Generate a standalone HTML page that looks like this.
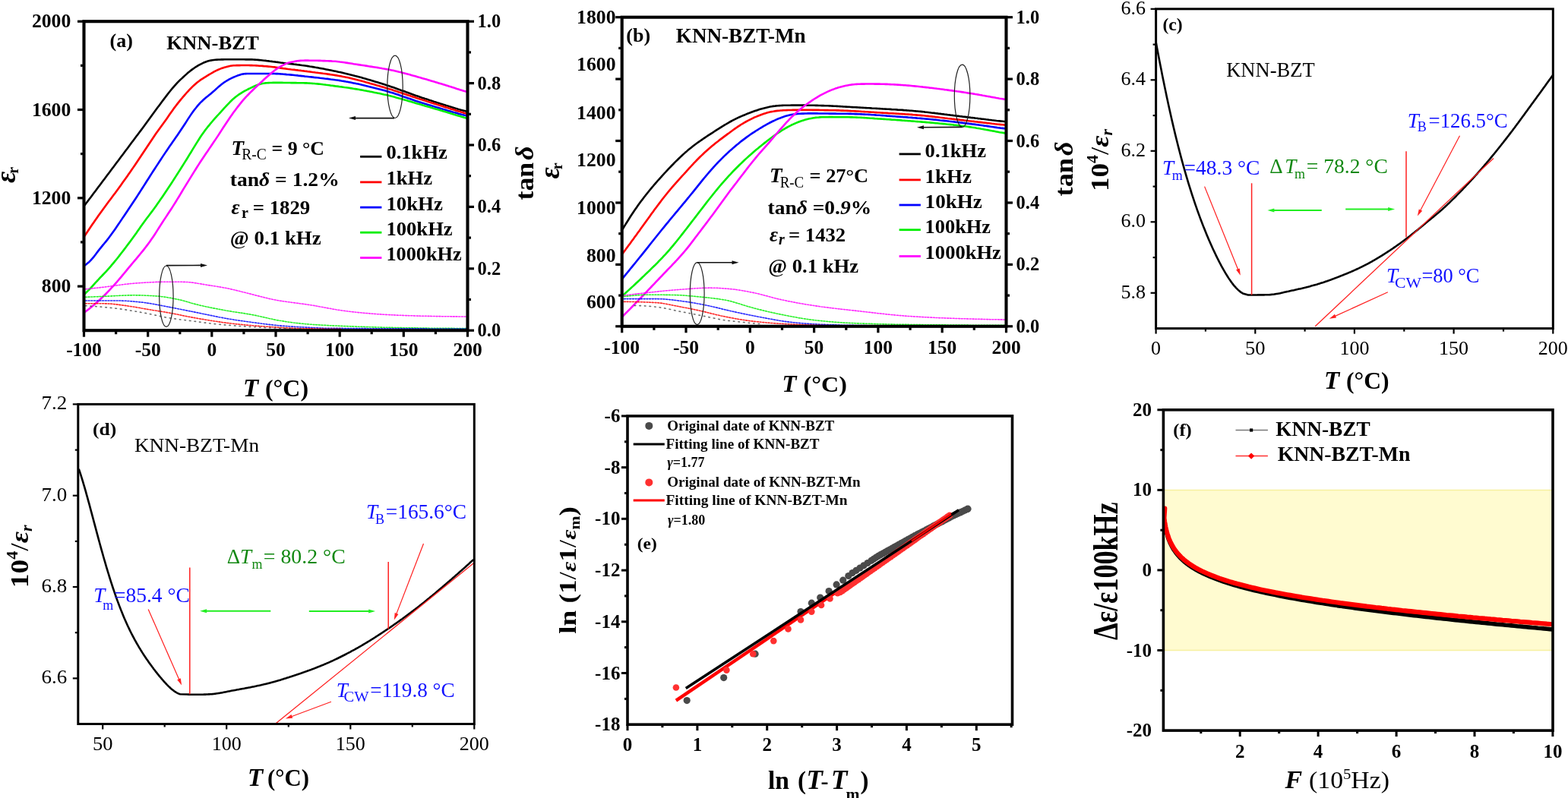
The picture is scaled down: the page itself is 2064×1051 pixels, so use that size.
<!DOCTYPE html>
<html><head><meta charset="utf-8"><title>Figure</title>
<style>html,body{margin:0;padding:0;background:#fff;overflow:hidden;}svg{display:block;}</style>
</head><body>
<svg width="2064" height="1051" viewBox="0 0 2064 1051" font-family="'Liberation Serif','Times New Roman',serif">
<rect width="2064" height="1051" fill="#fff"/>
<path d="M111.5,270.3 L113.5,267.6 L115.5,265.0 L117.5,262.3 L119.5,259.7 L121.5,257.0 L123.5,254.3 L125.5,251.7 L127.5,249.0 L129.5,246.3 L131.5,243.7 L133.5,241.0 L135.5,238.3 L137.5,235.7 L139.5,233.0 L141.5,230.3 L143.5,227.7 L145.5,225.0 L147.5,222.3 L149.5,219.7 L151.5,217.0 L153.5,214.3 L155.5,211.7 L157.5,209.0 L159.5,206.3 L161.5,203.7 L163.5,201.0 L165.5,198.3 L167.5,195.7 L169.5,193.0 L171.5,190.3 L173.5,187.6 L175.5,185.0 L177.5,182.3 L179.5,179.6 L181.5,176.9 L183.5,174.2 L185.5,171.6 L187.5,168.9 L189.5,166.2 L191.5,163.5 L193.5,160.7 L195.5,158.0 L197.5,155.3 L199.5,152.5 L201.5,149.8 L203.5,147.1 L205.5,144.3 L207.5,141.6 L209.5,138.9 L211.5,136.2 L213.5,133.5 L215.5,130.9 L217.5,128.2 L219.5,125.6 L221.5,123.0 L223.5,120.5 L225.5,118.0 L227.5,115.6 L229.5,113.3 L231.5,111.1 L233.5,108.9 L235.5,106.9 L237.5,104.9 L239.5,103.1 L241.5,101.2 L243.5,99.4 L245.5,97.6 L247.5,95.8 L249.5,94.2 L251.5,92.6 L253.5,91.1 L255.5,89.7 L257.5,88.3 L259.5,87.1 L261.5,85.9 L263.5,84.8 L265.5,83.8 L267.5,82.8 L269.5,82.0 L271.5,81.2 L273.5,80.6 L275.5,80.1 L277.5,79.6 L279.5,79.3 L281.5,79.0 L283.5,78.8 L285.5,78.6 L287.5,78.5 L289.5,78.5 L291.5,78.4 L293.5,78.4 L295.5,78.3 L297.5,78.3 L299.5,78.3 L301.5,78.3 L303.5,78.3 L305.5,78.3 L307.5,78.3 L309.5,78.3 L311.5,78.3 L313.5,78.3 L315.5,78.3 L317.5,78.3 L319.5,78.3 L321.5,78.3 L323.5,78.4 L325.5,78.4 L327.5,78.4 L329.5,78.4 L331.5,78.4 L333.5,78.5 L335.5,78.6 L337.5,78.7 L339.5,78.9 L341.5,79.1 L343.5,79.3 L345.5,79.5 L347.5,79.7 L349.5,79.9 L351.5,80.2 L353.5,80.4 L355.5,80.7 L357.5,80.9 L359.5,81.2 L361.5,81.4 L363.5,81.7 L365.5,81.9 L367.5,82.2 L369.5,82.5 L371.5,82.7 L373.5,83.0 L375.5,83.2 L377.5,83.5 L379.5,83.7 L381.5,83.9 L383.5,84.2 L385.5,84.4 L387.5,84.7 L389.5,84.9 L391.5,85.2 L393.5,85.4 L395.5,85.7 L397.5,86.0 L399.5,86.2 L401.5,86.5 L403.5,86.8 L405.5,87.1 L407.5,87.5 L409.5,87.8 L411.5,88.1 L413.5,88.4 L415.5,88.8 L417.5,89.1 L419.5,89.5 L421.5,89.9 L423.5,90.2 L425.5,90.6 L427.5,91.0 L429.5,91.4 L431.5,91.8 L433.5,92.2 L435.5,92.6 L437.5,93.0 L439.5,93.4 L441.5,93.8 L443.5,94.2 L445.5,94.7 L447.5,95.1 L449.5,95.5 L451.5,96.0 L453.5,96.5 L455.5,96.9 L457.5,97.4 L459.5,97.9 L461.5,98.4 L463.5,98.9 L465.5,99.4 L467.5,100.0 L469.5,100.5 L471.5,101.0 L473.5,101.6 L475.5,102.1 L477.5,102.7 L479.5,103.3 L481.5,103.8 L483.5,104.4 L485.5,105.0 L487.5,105.6 L489.5,106.2 L491.5,106.8 L493.5,107.4 L495.5,108.0 L497.5,108.6 L499.5,109.2 L501.5,109.8 L503.5,110.4 L505.5,111.1 L507.5,111.7 L509.5,112.4 L511.5,113.0 L513.5,113.7 L515.5,114.4 L517.5,115.1 L519.5,115.8 L521.5,116.5 L523.5,117.2 L525.5,117.9 L527.5,118.7 L529.5,119.4 L531.5,120.1 L533.5,120.8 L535.5,121.6 L537.5,122.3 L539.5,123.0 L541.5,123.8 L543.5,124.5 L545.5,125.2 L547.5,125.9 L549.5,126.6 L551.5,127.3 L553.5,128.0 L555.5,128.7 L557.5,129.3 L559.5,130.0 L561.5,130.6 L563.5,131.3 L565.5,132.0 L567.5,132.6 L569.5,133.2 L571.5,133.9 L573.5,134.5 L575.5,135.2 L577.5,135.8 L579.5,136.5 L581.5,137.1 L583.5,137.7 L585.5,138.3 L587.5,139.0 L589.5,139.6 L591.5,140.2 L593.5,140.8 L595.5,141.4 L597.5,142.1 L599.5,142.7 L601.5,143.3 L603.5,143.9 L605.5,144.5 L607.5,145.1 L609.5,145.6 L611.5,146.1 L613.5,146.6 L614.0,146.9" fill="none" stroke="#000" stroke-width="2.6" stroke-linejoin="round" stroke-linecap="round" />
<path d="M111.4,310.7 L113.4,307.7 L115.4,304.7 L117.4,301.7 L119.4,298.8 L121.4,295.8 L123.4,292.9 L125.4,290.0 L127.4,287.2 L129.4,284.3 L131.4,281.5 L133.4,278.7 L135.4,275.9 L137.4,273.2 L139.4,270.5 L141.4,267.8 L143.4,265.1 L145.4,262.5 L147.4,259.8 L149.4,257.1 L151.4,254.4 L153.4,251.7 L155.4,248.9 L157.4,246.2 L159.4,243.4 L161.4,240.6 L163.4,237.8 L165.4,235.0 L167.4,232.2 L169.4,229.3 L171.4,226.5 L173.4,223.6 L175.4,220.6 L177.4,217.7 L179.4,214.8 L181.4,211.8 L183.4,208.8 L185.4,205.8 L187.4,202.8 L189.4,199.8 L191.4,196.8 L193.4,193.8 L195.4,190.7 L197.4,187.7 L199.4,184.7 L201.4,181.7 L203.4,178.7 L205.4,175.8 L207.4,173.0 L209.4,170.2 L211.4,167.5 L213.4,164.7 L215.4,162.0 L217.4,159.2 L219.4,156.4 L221.4,153.5 L223.4,150.6 L225.4,147.7 L227.4,144.9 L229.4,142.1 L231.4,139.5 L233.4,136.9 L235.4,134.4 L237.4,131.9 L239.4,129.5 L241.4,127.1 L243.4,124.8 L245.4,122.5 L247.4,120.3 L249.4,118.2 L251.4,116.1 L253.4,114.1 L255.4,112.3 L257.4,110.5 L259.4,108.8 L261.4,107.2 L263.4,105.7 L265.4,104.4 L267.4,103.1 L269.4,101.9 L271.4,100.7 L273.4,99.4 L275.4,98.2 L277.4,97.0 L279.4,95.8 L281.4,94.7 L283.4,93.6 L285.4,92.6 L287.4,91.7 L289.4,90.9 L291.4,90.1 L293.4,89.4 L295.4,88.8 L297.4,88.3 L299.4,87.7 L301.4,87.2 L303.4,86.8 L305.4,86.5 L307.4,86.3 L309.4,86.2 L311.4,86.1 L313.4,86.1 L315.4,86.1 L317.4,86.0 L319.4,86.0 L321.4,86.0 L323.4,86.0 L325.4,86.0 L327.4,86.0 L329.4,86.1 L331.4,86.1 L333.4,86.2 L335.4,86.3 L337.4,86.4 L339.4,86.5 L341.4,86.7 L343.4,86.8 L345.4,86.9 L347.4,87.1 L349.4,87.2 L351.4,87.4 L353.4,87.6 L355.4,87.8 L357.4,88.0 L359.4,88.2 L361.4,88.4 L363.4,88.7 L365.4,89.0 L367.4,89.3 L369.4,89.6 L371.4,89.9 L373.4,90.2 L375.4,90.4 L377.4,90.7 L379.4,91.0 L381.4,91.2 L383.4,91.5 L385.4,91.7 L387.4,91.9 L389.4,92.2 L391.4,92.4 L393.4,92.7 L395.4,92.9 L397.4,93.2 L399.4,93.4 L401.4,93.7 L403.4,93.9 L405.4,94.2 L407.4,94.4 L409.4,94.7 L411.4,95.0 L413.4,95.2 L415.4,95.5 L417.4,95.7 L419.4,96.0 L421.4,96.2 L423.4,96.5 L425.4,96.8 L427.4,97.0 L429.4,97.3 L431.4,97.6 L433.4,97.9 L435.4,98.2 L437.4,98.5 L439.4,98.8 L441.4,99.1 L443.4,99.4 L445.4,99.8 L447.4,100.1 L449.4,100.5 L451.4,100.9 L453.4,101.3 L455.4,101.7 L457.4,102.1 L459.4,102.5 L461.4,103.0 L463.4,103.5 L465.4,104.0 L467.4,104.4 L469.4,104.9 L471.4,105.5 L473.4,106.0 L475.4,106.5 L477.4,107.1 L479.4,107.6 L481.4,108.2 L483.4,108.7 L485.4,109.3 L487.4,109.9 L489.4,110.4 L491.4,111.0 L493.4,111.6 L495.4,112.2 L497.4,112.7 L499.4,113.3 L501.4,113.9 L503.4,114.5 L505.4,115.1 L507.4,115.7 L509.4,116.3 L511.4,116.9 L513.4,117.5 L515.4,118.1 L517.4,118.8 L519.4,119.4 L521.4,120.1 L523.4,120.7 L525.4,121.4 L527.4,122.0 L529.4,122.7 L531.4,123.4 L533.4,124.0 L535.4,124.7 L537.4,125.4 L539.4,126.1 L541.4,126.7 L543.4,127.4 L545.4,128.1 L547.4,128.7 L549.4,129.4 L551.4,130.0 L553.4,130.7 L555.4,131.3 L557.4,132.0 L559.4,132.6 L561.4,133.3 L563.4,133.9 L565.4,134.5 L567.4,135.2 L569.4,135.8 L571.4,136.4 L573.4,137.1 L575.4,137.7 L577.4,138.3 L579.4,139.0 L581.4,139.6 L583.4,140.2 L585.4,140.9 L587.4,141.5 L589.4,142.1 L591.4,142.8 L593.4,143.4 L595.4,144.0 L597.4,144.6 L599.4,145.3 L601.4,145.9 L603.4,146.5 L605.4,147.1 L607.4,147.7 L609.4,148.3 L611.4,148.9 L613.4,149.3 L614.0,149.7" fill="none" stroke="#ff0000" stroke-width="2.6" stroke-linejoin="round" stroke-linecap="round" />
<path d="M111.4,349.6 L113.4,348.2 L115.4,346.6 L117.4,344.9 L119.4,342.9 L121.4,340.7 L123.4,338.3 L125.4,335.7 L127.4,333.0 L129.4,330.4 L131.4,327.8 L133.4,325.4 L135.4,322.9 L137.4,320.5 L139.4,318.1 L141.4,315.6 L143.4,313.0 L145.4,310.3 L147.4,307.6 L149.4,304.8 L151.4,301.9 L153.4,299.0 L155.4,296.1 L157.4,293.1 L159.4,290.1 L161.4,287.1 L163.4,284.2 L165.4,281.2 L167.4,278.2 L169.4,275.3 L171.4,272.3 L173.4,269.3 L175.4,266.2 L177.4,263.2 L179.4,260.2 L181.4,257.1 L183.4,254.0 L185.4,250.9 L187.4,247.8 L189.4,244.6 L191.4,241.5 L193.4,238.3 L195.4,235.2 L197.4,232.0 L199.4,228.9 L201.4,225.8 L203.4,222.7 L205.4,219.6 L207.4,216.6 L209.4,213.5 L211.4,210.5 L213.4,207.4 L215.4,204.4 L217.4,201.4 L219.4,198.5 L221.4,195.5 L223.4,192.6 L225.4,189.7 L227.4,186.8 L229.4,184.0 L231.4,181.1 L233.4,178.2 L235.4,175.3 L237.4,172.3 L239.4,169.3 L241.4,166.3 L243.4,163.2 L245.4,160.1 L247.4,156.9 L249.4,153.9 L251.4,150.9 L253.4,148.0 L255.4,145.2 L257.4,142.7 L259.4,140.2 L261.4,137.9 L263.4,135.7 L265.4,133.7 L267.4,131.8 L269.4,130.0 L271.4,128.3 L273.4,126.7 L275.4,125.1 L277.4,123.5 L279.4,121.8 L281.4,120.1 L283.4,118.3 L285.4,116.4 L287.4,114.6 L289.4,112.9 L291.4,111.3 L293.4,109.7 L295.4,108.3 L297.4,107.0 L299.4,105.8 L301.4,104.7 L303.4,103.6 L305.4,102.6 L307.4,101.7 L309.4,100.9 L311.4,100.1 L313.4,99.3 L315.4,98.7 L317.4,98.1 L319.4,97.6 L321.4,97.3 L323.4,97.1 L325.4,97.0 L327.4,97.0 L329.4,97.0 L331.4,97.0 L333.4,97.0 L335.4,97.0 L337.4,97.0 L339.4,97.0 L341.4,97.0 L343.4,97.0 L345.4,97.0 L347.4,97.0 L349.4,97.0 L351.4,97.0 L353.4,97.0 L355.4,97.0 L357.4,97.0 L359.4,97.0 L361.4,97.0 L363.4,97.1 L365.4,97.1 L367.4,97.2 L369.4,97.4 L371.4,97.5 L373.4,97.7 L375.4,97.9 L377.4,98.1 L379.4,98.2 L381.4,98.4 L383.4,98.6 L385.4,98.8 L387.4,99.0 L389.4,99.2 L391.4,99.4 L393.4,99.7 L395.4,99.9 L397.4,100.1 L399.4,100.3 L401.4,100.6 L403.4,100.8 L405.4,101.0 L407.4,101.2 L409.4,101.4 L411.4,101.6 L413.4,101.9 L415.4,102.1 L417.4,102.3 L419.4,102.5 L421.4,102.8 L423.4,103.0 L425.4,103.2 L427.4,103.5 L429.4,103.7 L431.4,103.9 L433.4,104.2 L435.4,104.5 L437.4,104.7 L439.4,105.0 L441.4,105.3 L443.4,105.5 L445.4,105.8 L447.4,106.1 L449.4,106.5 L451.4,106.8 L453.4,107.1 L455.4,107.5 L457.4,107.8 L459.4,108.2 L461.4,108.6 L463.4,109.0 L465.4,109.4 L467.4,109.8 L469.4,110.2 L471.4,110.6 L473.4,111.1 L475.4,111.5 L477.4,112.0 L479.4,112.4 L481.4,112.9 L483.4,113.4 L485.4,113.9 L487.4,114.4 L489.4,114.9 L491.4,115.4 L493.4,115.9 L495.4,116.4 L497.4,116.9 L499.4,117.4 L501.4,117.9 L503.4,118.5 L505.4,119.0 L507.4,119.6 L509.4,120.2 L511.4,120.8 L513.4,121.4 L515.4,122.0 L517.4,122.6 L519.4,123.3 L521.4,123.9 L523.4,124.6 L525.4,125.3 L527.4,126.0 L529.4,126.7 L531.4,127.4 L533.4,128.0 L535.4,128.7 L537.4,129.4 L539.4,130.1 L541.4,130.8 L543.4,131.5 L545.4,132.2 L547.4,132.9 L549.4,133.5 L551.4,134.2 L553.4,134.8 L555.4,135.5 L557.4,136.1 L559.4,136.7 L561.4,137.3 L563.4,137.9 L565.4,138.5 L567.4,139.1 L569.4,139.7 L571.4,140.3 L573.4,140.9 L575.4,141.5 L577.4,142.1 L579.4,142.7 L581.4,143.3 L583.4,143.9 L585.4,144.5 L587.4,145.1 L589.4,145.7 L591.4,146.2 L593.4,146.8 L595.4,147.4 L597.4,148.0 L599.4,148.5 L601.4,149.1 L603.4,149.7 L605.4,150.2 L607.4,150.8 L609.4,151.3 L611.4,151.8 L613.4,152.2 L614.0,152.5" fill="none" stroke="#0000ff" stroke-width="2.6" stroke-linejoin="round" stroke-linecap="round" />
<path d="M111.4,387.3 L113.4,385.3 L115.4,383.4 L117.4,381.4 L119.4,379.3 L121.4,377.1 L123.4,374.9 L125.4,372.7 L127.4,370.5 L129.4,368.4 L131.4,366.2 L133.4,364.1 L135.4,362.0 L137.4,359.9 L139.4,357.8 L141.4,355.6 L143.4,353.4 L145.4,351.1 L147.4,348.7 L149.4,346.3 L151.4,343.9 L153.4,341.5 L155.4,339.0 L157.4,336.4 L159.4,333.8 L161.4,331.2 L163.4,328.6 L165.4,325.9 L167.4,323.2 L169.4,320.6 L171.4,317.9 L173.4,315.2 L175.4,312.5 L177.4,309.7 L179.4,307.0 L181.4,304.1 L183.4,301.2 L185.4,298.3 L187.4,295.5 L189.4,292.7 L191.4,290.0 L193.4,287.3 L195.4,284.7 L197.4,282.0 L199.4,279.4 L201.4,276.7 L203.4,274.0 L205.4,271.2 L207.4,268.3 L209.4,265.5 L211.4,262.6 L213.4,259.7 L215.4,256.7 L217.4,253.8 L219.4,250.8 L221.4,247.8 L223.4,244.7 L225.4,241.7 L227.4,238.6 L229.4,235.5 L231.4,232.4 L233.4,229.3 L235.4,226.1 L237.4,223.0 L239.4,219.8 L241.4,216.6 L243.4,213.4 L245.4,210.2 L247.4,207.0 L249.4,203.7 L251.4,200.5 L253.4,197.2 L255.4,193.9 L257.4,190.6 L259.4,187.4 L261.4,184.2 L263.4,181.0 L265.4,178.0 L267.4,175.2 L269.4,172.4 L271.4,169.8 L273.4,167.2 L275.4,164.8 L277.4,162.3 L279.4,160.0 L281.4,157.7 L283.4,155.4 L285.4,153.2 L287.4,151.0 L289.4,148.8 L291.4,146.6 L293.4,144.4 L295.4,142.2 L297.4,140.0 L299.4,137.9 L301.4,135.8 L303.4,133.7 L305.4,131.8 L307.4,129.9 L309.4,128.2 L311.4,126.7 L313.4,125.2 L315.4,123.9 L317.4,122.6 L319.4,121.4 L321.4,120.2 L323.4,119.1 L325.4,118.1 L327.4,117.0 L329.4,116.1 L331.4,115.1 L333.4,114.2 L335.4,113.3 L337.4,112.5 L339.4,111.8 L341.4,111.1 L343.4,110.5 L345.4,110.0 L347.4,109.7 L349.4,109.4 L351.4,109.3 L353.4,109.1 L355.4,109.0 L357.4,109.0 L359.4,108.9 L361.4,108.9 L363.4,108.9 L365.4,108.9 L367.4,108.9 L369.4,108.9 L371.4,108.9 L373.4,109.0 L375.4,109.0 L377.4,109.0 L379.4,109.0 L381.4,109.0 L383.4,109.1 L385.4,109.1 L387.4,109.1 L389.4,109.1 L391.4,109.2 L393.4,109.2 L395.4,109.2 L397.4,109.3 L399.4,109.3 L401.4,109.4 L403.4,109.4 L405.4,109.5 L407.4,109.6 L409.4,109.7 L411.4,109.9 L413.4,110.0 L415.4,110.2 L417.4,110.4 L419.4,110.6 L421.4,110.8 L423.4,111.0 L425.4,111.3 L427.4,111.5 L429.4,111.8 L431.4,112.0 L433.4,112.3 L435.4,112.6 L437.4,112.8 L439.4,113.1 L441.4,113.4 L443.4,113.6 L445.4,113.9 L447.4,114.2 L449.4,114.4 L451.4,114.7 L453.4,115.0 L455.4,115.2 L457.4,115.5 L459.4,115.8 L461.4,116.1 L463.4,116.4 L465.4,116.8 L467.4,117.1 L469.4,117.4 L471.4,117.7 L473.4,118.1 L475.4,118.4 L477.4,118.8 L479.4,119.2 L481.4,119.5 L483.4,119.9 L485.4,120.3 L487.4,120.7 L489.4,121.1 L491.4,121.5 L493.4,121.9 L495.4,122.3 L497.4,122.7 L499.4,123.1 L501.4,123.5 L503.4,123.9 L505.4,124.4 L507.4,124.8 L509.4,125.3 L511.4,125.8 L513.4,126.3 L515.4,126.8 L517.4,127.3 L519.4,127.8 L521.4,128.4 L523.4,128.9 L525.4,129.5 L527.4,130.0 L529.4,130.6 L531.4,131.2 L533.4,131.8 L535.4,132.3 L537.4,132.9 L539.4,133.5 L541.4,134.1 L543.4,134.7 L545.4,135.3 L547.4,135.9 L549.4,136.5 L551.4,137.0 L553.4,137.6 L555.4,138.2 L557.4,138.8 L559.4,139.4 L561.4,139.9 L563.4,140.5 L565.4,141.1 L567.4,141.7 L569.4,142.3 L571.4,142.9 L573.4,143.4 L575.4,144.0 L577.4,144.6 L579.4,145.2 L581.4,145.8 L583.4,146.4 L585.4,147.0 L587.4,147.6 L589.4,148.2 L591.4,148.8 L593.4,149.4 L595.4,150.0 L597.4,150.7 L599.4,151.3 L601.4,151.9 L603.4,152.5 L605.4,153.1 L607.4,153.7 L609.4,154.3 L611.4,154.9 L613.4,155.3 L614.0,155.7" fill="none" stroke="#00ee00" stroke-width="2.6" stroke-linejoin="round" stroke-linecap="round" />
<path d="M111.4,411.3 L113.4,409.8 L115.4,408.3 L117.4,406.7 L119.4,405.1 L121.4,403.4 L123.4,401.8 L125.4,400.0 L127.4,398.3 L129.4,396.5 L131.4,394.7 L133.4,392.8 L135.4,390.9 L137.4,389.0 L139.4,387.0 L141.4,384.9 L143.4,382.8 L145.4,380.7 L147.4,378.5 L149.4,376.3 L151.4,374.1 L153.4,371.8 L155.4,369.5 L157.4,367.2 L159.4,364.8 L161.4,362.4 L163.4,360.0 L165.4,357.6 L167.4,355.1 L169.4,352.7 L171.4,350.3 L173.4,347.9 L175.4,345.5 L177.4,343.1 L179.4,340.8 L181.4,338.4 L183.4,336.0 L185.4,333.5 L187.4,331.1 L189.4,328.6 L191.4,326.0 L193.4,323.4 L195.4,320.7 L197.4,317.9 L199.4,315.1 L201.4,312.2 L203.4,309.2 L205.4,306.1 L207.4,302.9 L209.4,299.8 L211.4,296.6 L213.4,293.5 L215.4,290.4 L217.4,287.4 L219.4,284.4 L221.4,281.3 L223.4,278.3 L225.4,275.2 L227.4,272.1 L229.4,268.9 L231.4,265.7 L233.4,262.4 L235.4,259.2 L237.4,255.9 L239.4,252.5 L241.4,249.2 L243.4,245.9 L245.4,242.6 L247.4,239.3 L249.4,236.1 L251.4,232.8 L253.4,229.6 L255.4,226.4 L257.4,223.2 L259.4,220.0 L261.4,216.9 L263.4,213.8 L265.4,210.8 L267.4,207.8 L269.4,204.8 L271.4,201.8 L273.4,198.9 L275.4,195.9 L277.4,193.0 L279.4,190.0 L281.4,187.1 L283.4,184.1 L285.4,181.1 L287.4,178.1 L289.4,175.0 L291.4,171.9 L293.4,168.8 L295.4,165.8 L297.4,162.7 L299.4,159.7 L301.4,156.7 L303.4,153.8 L305.4,150.9 L307.4,148.1 L309.4,145.4 L311.4,142.7 L313.4,140.1 L315.4,137.6 L317.4,135.1 L319.4,132.7 L321.4,130.4 L323.4,128.2 L325.4,126.0 L327.4,124.0 L329.4,121.9 L331.4,120.0 L333.4,118.0 L335.4,116.1 L337.4,114.2 L339.4,112.3 L341.4,110.4 L343.4,108.5 L345.4,106.7 L347.4,104.8 L349.4,103.0 L351.4,101.2 L353.4,99.5 L355.4,97.7 L357.4,96.0 L359.4,94.4 L361.4,92.8 L363.4,91.3 L365.4,90.0 L367.4,88.7 L369.4,87.5 L371.4,86.3 L373.4,85.3 L375.4,84.3 L377.4,83.5 L379.4,82.8 L381.4,82.3 L383.4,81.8 L385.4,81.4 L387.4,81.0 L389.4,80.6 L391.4,80.3 L393.4,80.1 L395.4,79.9 L397.4,79.8 L399.4,79.7 L401.4,79.6 L403.4,79.6 L405.4,79.6 L407.4,79.7 L409.4,79.7 L411.4,79.7 L413.4,79.7 L415.4,79.8 L417.4,79.8 L419.4,79.9 L421.4,79.9 L423.4,80.0 L425.4,80.1 L427.4,80.1 L429.4,80.2 L431.4,80.3 L433.4,80.4 L435.4,80.4 L437.4,80.6 L439.4,80.7 L441.4,80.8 L443.4,81.0 L445.4,81.2 L447.4,81.5 L449.4,81.7 L451.4,82.0 L453.4,82.3 L455.4,82.6 L457.4,82.9 L459.4,83.2 L461.4,83.5 L463.4,83.8 L465.4,84.2 L467.4,84.5 L469.4,84.8 L471.4,85.1 L473.4,85.4 L475.4,85.7 L477.4,86.0 L479.4,86.3 L481.4,86.6 L483.4,86.9 L485.4,87.3 L487.4,87.6 L489.4,87.9 L491.4,88.2 L493.4,88.5 L495.4,88.8 L497.4,89.1 L499.4,89.5 L501.4,89.8 L503.4,90.2 L505.4,90.5 L507.4,90.9 L509.4,91.2 L511.4,91.6 L513.4,92.0 L515.4,92.4 L517.4,92.8 L519.4,93.3 L521.4,93.7 L523.4,94.2 L525.4,94.7 L527.4,95.1 L529.4,95.7 L531.4,96.2 L533.4,96.7 L535.4,97.2 L537.4,97.8 L539.4,98.3 L541.4,98.9 L543.4,99.5 L545.4,100.0 L547.4,100.6 L549.4,101.2 L551.4,101.8 L553.4,102.3 L555.4,102.9 L557.4,103.5 L559.4,104.1 L561.4,104.6 L563.4,105.2 L565.4,105.8 L567.4,106.4 L569.4,107.0 L571.4,107.6 L573.4,108.2 L575.4,108.8 L577.4,109.4 L579.4,110.0 L581.4,110.6 L583.4,111.2 L585.4,111.8 L587.4,112.4 L589.4,113.0 L591.4,113.7 L593.4,114.3 L595.4,114.9 L597.4,115.6 L599.4,116.2 L601.4,116.9 L603.4,117.5 L605.4,118.2 L607.4,118.8 L609.4,119.4 L611.4,120.0 L613.4,120.5 L614.0,120.9" fill="none" stroke="#ff00ff" stroke-width="2.6" stroke-linejoin="round" stroke-linecap="round" />
<path d="M112.4,380.8 L114.4,380.6 L116.4,380.4 L118.4,380.2 L120.4,380.0 L122.4,379.8 L124.4,379.5 L126.4,379.3 L128.4,379.1 L130.4,378.9 L132.4,378.6 L134.4,378.4 L136.4,378.2 L138.4,377.9 L140.4,377.7 L142.4,377.4 L144.4,377.2 L146.4,376.9 L148.4,376.6 L150.4,376.3 L152.4,376.1 L154.4,375.8 L156.4,375.5 L158.4,375.2 L160.4,374.9 L162.4,374.7 L164.4,374.4 L166.4,374.2 L168.4,374.0 L170.4,373.7 L172.4,373.5 L174.4,373.4 L176.4,373.2 L178.4,373.0 L180.4,372.9 L182.4,372.8 L184.4,372.6 L186.4,372.5 L188.4,372.3 L190.4,372.2 L192.4,372.1 L194.4,372.0 L196.4,371.9 L198.4,371.8 L200.4,371.7 L202.4,371.6 L204.4,371.5 L206.4,371.4 L208.4,371.4 L210.4,371.4 L212.4,371.3 L214.4,371.3 L216.4,371.3 L218.4,371.3 L220.4,371.3 L222.4,371.3 L224.4,371.3 L226.4,371.3 L228.4,371.3 L230.4,371.3 L232.4,371.3 L234.4,371.3 L236.4,371.3 L238.4,371.3 L240.4,371.3 L242.4,371.4 L244.4,371.4 L246.4,371.5 L248.4,371.7 L250.4,371.8 L252.4,372.1 L254.4,372.3 L256.4,372.6 L258.4,372.9 L260.4,373.3 L262.4,373.6 L264.4,373.9 L266.4,374.3 L268.4,374.6 L270.4,374.9 L272.4,375.3 L274.4,375.6 L276.4,375.9 L278.4,376.2 L280.4,376.5 L282.4,376.8 L284.4,377.1 L286.4,377.5 L288.4,377.8 L290.4,378.1 L292.4,378.5 L294.4,378.9 L296.4,379.2 L298.4,379.6 L300.4,380.0 L302.4,380.4 L304.4,380.9 L306.4,381.3 L308.4,381.8 L310.4,382.3 L312.4,382.8 L314.4,383.3 L316.4,383.8 L318.4,384.3 L320.4,384.8 L322.4,385.3 L324.4,385.8 L326.4,386.3 L328.4,386.8 L330.4,387.3 L332.4,387.9 L334.4,388.4 L336.4,388.9 L338.4,389.4 L340.4,389.9 L342.4,390.4 L344.4,390.9 L346.4,391.4 L348.4,391.9 L350.4,392.4 L352.4,392.9 L354.4,393.4 L356.4,393.8 L358.4,394.2 L360.4,394.7 L362.4,395.0 L364.4,395.4 L366.4,395.7 L368.4,396.1 L370.4,396.4 L372.4,396.7 L374.4,397.0 L376.4,397.3 L378.4,397.6 L380.4,397.8 L382.4,398.1 L384.4,398.4 L386.4,398.6 L388.4,398.9 L390.4,399.2 L392.4,399.4 L394.4,399.7 L396.4,400.0 L398.4,400.2 L400.4,400.5 L402.4,400.8 L404.4,401.1 L406.4,401.4 L408.4,401.7 L410.4,402.0 L412.4,402.3 L414.4,402.7 L416.4,403.0 L418.4,403.4 L420.4,403.8 L422.4,404.1 L424.4,404.5 L426.4,404.9 L428.4,405.2 L430.4,405.6 L432.4,406.0 L434.4,406.3 L436.4,406.7 L438.4,407.1 L440.4,407.4 L442.4,407.8 L444.4,408.1 L446.4,408.4 L448.4,408.7 L450.4,409.0 L452.4,409.3 L454.4,409.6 L456.4,409.8 L458.4,410.1 L460.4,410.3 L462.4,410.5 L464.4,410.7 L466.4,411.0 L468.4,411.2 L470.4,411.4 L472.4,411.6 L474.4,411.8 L476.4,412.0 L478.4,412.2 L480.4,412.4 L482.4,412.5 L484.4,412.7 L486.4,412.9 L488.4,413.1 L490.4,413.2 L492.4,413.4 L494.4,413.5 L496.4,413.7 L498.4,413.8 L500.4,413.9 L502.4,414.1 L504.4,414.2 L506.4,414.3 L508.4,414.4 L510.4,414.5 L512.4,414.6 L514.4,414.7 L516.4,414.8 L518.4,414.9 L520.4,415.0 L522.4,415.1 L524.4,415.2 L526.4,415.3 L528.4,415.3 L530.4,415.4 L532.4,415.5 L534.4,415.6 L536.4,415.6 L538.4,415.7 L540.4,415.8 L542.4,415.8 L544.4,415.9 L546.4,416.0 L548.4,416.0 L550.4,416.1 L552.4,416.1 L554.4,416.2 L556.4,416.2 L558.4,416.3 L560.4,416.3 L562.4,416.3 L564.4,416.4 L566.4,416.4 L568.4,416.5 L570.4,416.5 L572.4,416.5 L574.4,416.6 L576.4,416.6 L578.4,416.6 L580.4,416.7 L582.4,416.7 L584.4,416.7 L586.4,416.8 L588.4,416.8 L590.4,416.8 L592.4,416.8 L594.4,416.9 L596.4,416.9 L598.4,416.9 L600.4,416.9 L602.4,416.9 L604.4,417.0 L606.4,417.0 L608.4,417.0 L610.4,417.0 L612.4,417.0 L614.0,417.0" fill="none" stroke="#ff00ff" stroke-width="1.6" stroke-linejoin="round" stroke-linecap="round" stroke-dasharray="2,1.7" stroke-opacity="0.85"/>
<path d="M112.4,391.3 L114.4,391.2 L116.4,391.1 L118.4,391.1 L120.4,391.0 L122.4,390.9 L124.4,390.8 L126.4,390.8 L128.4,390.7 L130.4,390.6 L132.4,390.5 L134.4,390.4 L136.4,390.4 L138.4,390.3 L140.4,390.2 L142.4,390.1 L144.4,390.0 L146.4,389.9 L148.4,389.8 L150.4,389.7 L152.4,389.6 L154.4,389.5 L156.4,389.4 L158.4,389.3 L160.4,389.2 L162.4,389.1 L164.4,389.1 L166.4,389.0 L168.4,388.9 L170.4,388.9 L172.4,388.9 L174.4,388.8 L176.4,388.8 L178.4,388.8 L180.4,388.9 L182.4,388.9 L184.4,388.9 L186.4,389.0 L188.4,389.0 L190.4,389.1 L192.4,389.2 L194.4,389.3 L196.4,389.4 L198.4,389.5 L200.4,389.6 L202.4,389.7 L204.4,389.8 L206.4,390.0 L208.4,390.1 L210.4,390.3 L212.4,390.6 L214.4,390.8 L216.4,391.1 L218.4,391.4 L220.4,391.7 L222.4,392.1 L224.4,392.4 L226.4,392.8 L228.4,393.2 L230.4,393.6 L232.4,394.0 L234.4,394.4 L236.4,394.9 L238.4,395.3 L240.4,395.8 L242.4,396.4 L244.4,396.9 L246.4,397.5 L248.4,398.1 L250.4,398.7 L252.4,399.3 L254.4,399.8 L256.4,400.4 L258.4,400.9 L260.4,401.4 L262.4,401.9 L264.4,402.4 L266.4,402.8 L268.4,403.3 L270.4,403.7 L272.4,404.1 L274.4,404.5 L276.4,405.0 L278.4,405.4 L280.4,405.8 L282.4,406.1 L284.4,406.5 L286.4,406.9 L288.4,407.3 L290.4,407.7 L292.4,408.0 L294.4,408.4 L296.4,408.8 L298.4,409.1 L300.4,409.5 L302.4,409.8 L304.4,410.1 L306.4,410.5 L308.4,410.8 L310.4,411.1 L312.4,411.4 L314.4,411.7 L316.4,412.0 L318.4,412.3 L320.4,412.6 L322.4,412.9 L324.4,413.3 L326.4,413.6 L328.4,413.9 L330.4,414.3 L332.4,414.6 L334.4,415.0 L336.4,415.4 L338.4,415.8 L340.4,416.3 L342.4,416.7 L344.4,417.2 L346.4,417.6 L348.4,418.1 L350.4,418.5 L352.4,419.0 L354.4,419.5 L356.4,419.9 L358.4,420.3 L360.4,420.8 L362.4,421.2 L364.4,421.6 L366.4,421.9 L368.4,422.3 L370.4,422.6 L372.4,422.9 L374.4,423.3 L376.4,423.6 L378.4,423.9 L380.4,424.2 L382.4,424.4 L384.4,424.7 L386.4,425.0 L388.4,425.2 L390.4,425.5 L392.4,425.7 L394.4,425.9 L396.4,426.1 L398.4,426.3 L400.4,426.5 L402.4,426.7 L404.4,426.9 L406.4,427.0 L408.4,427.2 L410.4,427.3 L412.4,427.5 L414.4,427.6 L416.4,427.7 L418.4,427.8 L420.4,428.0 L422.4,428.1 L424.4,428.2 L426.4,428.3 L428.4,428.4 L430.4,428.5 L432.4,428.6 L434.4,428.7 L436.4,428.8 L438.4,428.9 L440.4,429.0 L442.4,429.0 L444.4,429.1 L446.4,429.2 L448.4,429.3 L450.4,429.4 L452.4,429.5 L454.4,429.6 L456.4,429.6 L458.4,429.7 L460.4,429.8 L462.4,429.9 L464.4,429.9 L466.4,430.0 L468.4,430.1 L470.4,430.2 L472.4,430.2 L474.4,430.3 L476.4,430.4 L478.4,430.4 L480.4,430.5 L482.4,430.6 L484.4,430.6 L486.4,430.7 L488.4,430.8 L490.4,430.8 L492.4,430.9 L494.4,430.9 L496.4,431.0 L498.4,431.0 L500.4,431.1 L502.4,431.1 L504.4,431.2 L506.4,431.2 L508.4,431.3 L510.4,431.3 L512.4,431.4 L514.4,431.4 L516.4,431.4 L518.4,431.5 L520.4,431.5 L522.4,431.5 L524.4,431.6 L526.4,431.6 L528.4,431.6 L530.4,431.7 L532.4,431.7 L534.4,431.7 L536.4,431.8 L538.4,431.8 L540.4,431.8 L542.4,431.9 L544.4,431.9 L546.4,431.9 L548.4,431.9 L550.4,432.0 L552.4,432.0 L554.4,432.0 L556.4,432.1 L558.4,432.1 L560.4,432.1 L562.4,432.1 L564.4,432.2 L566.4,432.2 L568.4,432.2 L570.4,432.2 L572.4,432.3 L574.4,432.3 L576.4,432.3 L578.4,432.3 L580.4,432.3 L582.4,432.3 L584.4,432.4 L586.4,432.4 L588.4,432.4 L590.4,432.4 L592.4,432.4 L594.4,432.4 L596.4,432.4 L598.4,432.5 L600.4,432.5 L602.4,432.5 L604.4,432.5 L606.4,432.5 L608.4,432.5 L610.4,432.5 L612.4,432.5 L614.0,432.5" fill="none" stroke="#00ee00" stroke-width="1.6" stroke-linejoin="round" stroke-linecap="round" stroke-dasharray="2,1.7" stroke-opacity="0.85"/>
<path d="M112.4,396.0 L114.4,396.0 L116.4,396.0 L118.4,396.0 L120.4,396.0 L122.4,396.0 L124.4,396.0 L126.4,396.0 L128.4,396.0 L130.4,396.0 L132.4,396.0 L134.4,396.0 L136.4,396.0 L138.4,396.0 L140.4,396.0 L142.4,396.0 L144.4,396.0 L146.4,396.0 L148.4,396.0 L150.4,396.0 L152.4,396.0 L154.4,396.0 L156.4,396.0 L158.4,396.0 L160.4,396.1 L162.4,396.2 L164.4,396.2 L166.4,396.3 L168.4,396.5 L170.4,396.6 L172.4,396.8 L174.4,396.9 L176.4,397.1 L178.4,397.3 L180.4,397.5 L182.4,397.7 L184.4,397.9 L186.4,398.1 L188.4,398.3 L190.4,398.6 L192.4,398.9 L194.4,399.2 L196.4,399.5 L198.4,399.8 L200.4,400.1 L202.4,400.5 L204.4,400.9 L206.4,401.2 L208.4,401.6 L210.4,402.0 L212.4,402.4 L214.4,402.8 L216.4,403.2 L218.4,403.6 L220.4,404.0 L222.4,404.3 L224.4,404.7 L226.4,405.1 L228.4,405.5 L230.4,405.9 L232.4,406.3 L234.4,406.7 L236.4,407.1 L238.4,407.5 L240.4,407.9 L242.4,408.3 L244.4,408.7 L246.4,409.1 L248.4,409.5 L250.4,409.9 L252.4,410.3 L254.4,410.7 L256.4,411.1 L258.4,411.5 L260.4,411.9 L262.4,412.3 L264.4,412.7 L266.4,413.2 L268.4,413.6 L270.4,414.0 L272.4,414.4 L274.4,414.8 L276.4,415.2 L278.4,415.6 L280.4,416.0 L282.4,416.5 L284.4,416.9 L286.4,417.3 L288.4,417.7 L290.4,418.0 L292.4,418.4 L294.4,418.8 L296.4,419.2 L298.4,419.5 L300.4,419.9 L302.4,420.2 L304.4,420.5 L306.4,420.8 L308.4,421.2 L310.4,421.5 L312.4,421.8 L314.4,422.1 L316.4,422.4 L318.4,422.6 L320.4,422.9 L322.4,423.2 L324.4,423.5 L326.4,423.8 L328.4,424.0 L330.4,424.3 L332.4,424.6 L334.4,424.8 L336.4,425.1 L338.4,425.4 L340.4,425.6 L342.4,425.9 L344.4,426.2 L346.4,426.4 L348.4,426.7 L350.4,426.9 L352.4,427.2 L354.4,427.4 L356.4,427.7 L358.4,427.9 L360.4,428.1 L362.4,428.3 L364.4,428.5 L366.4,428.7 L368.4,428.9 L370.4,429.1 L372.4,429.2 L374.4,429.4 L376.4,429.5 L378.4,429.7 L380.4,429.8 L382.4,430.0 L384.4,430.1 L386.4,430.2 L388.4,430.4 L390.4,430.5 L392.4,430.6 L394.4,430.7 L396.4,430.8 L398.4,430.9 L400.4,431.0 L402.4,431.1 L404.4,431.2 L406.4,431.3 L408.4,431.4 L410.4,431.5 L412.4,431.6 L414.4,431.7 L416.4,431.8 L418.4,431.9 L420.4,432.0 L422.4,432.1 L424.4,432.1 L426.4,432.2 L428.4,432.2 L430.4,432.3 L432.4,432.3 L434.4,432.3 L436.4,432.3 L438.4,432.3 L440.4,432.4 L442.4,432.4 L444.4,432.4 L446.4,432.4 L448.4,432.4 L450.4,432.4 L452.4,432.5 L454.4,432.5 L456.4,432.5 L458.4,432.5 L460.4,432.5 L462.4,432.5 L464.4,432.5 L466.4,432.6 L468.4,432.6 L470.4,432.6 L472.4,432.6 L474.4,432.6 L476.4,432.6 L478.4,432.6 L480.4,432.6 L482.4,432.7 L484.4,432.7 L486.4,432.7 L488.4,432.7 L490.4,432.7 L492.4,432.7 L494.4,432.7 L496.4,432.7 L498.4,432.7 L500.4,432.8 L502.4,432.8 L504.4,432.8 L506.4,432.8 L508.4,432.8 L510.4,432.8 L512.4,432.8 L514.4,432.8 L516.4,432.8 L518.4,432.8 L520.4,432.8 L522.4,432.8 L524.4,432.9 L526.4,432.9 L528.4,432.9 L530.4,432.9 L532.4,432.9 L534.4,432.9 L536.4,432.9 L538.4,432.9 L540.4,432.9 L542.4,432.9 L544.4,432.9 L546.4,432.9 L548.4,432.9 L550.4,432.9 L552.4,432.9 L554.4,432.9 L556.4,432.9 L558.4,432.9 L560.4,432.9 L562.4,433.0 L564.4,433.0 L566.4,433.0 L568.4,433.0 L570.4,433.0 L572.4,433.0 L574.4,433.0 L576.4,433.0 L578.4,433.0 L580.4,433.0 L582.4,433.0 L584.4,433.0 L586.4,433.0 L588.4,433.0 L590.4,433.0 L592.4,433.0 L594.4,433.0 L596.4,433.0 L598.4,433.0 L600.4,433.0 L602.4,433.0 L604.4,433.0 L606.4,433.0 L608.4,433.0 L610.4,433.0 L612.4,433.0 L614.0,433.0" fill="none" stroke="#0000ff" stroke-width="1.6" stroke-linejoin="round" stroke-linecap="round" stroke-dasharray="2,1.7" stroke-opacity="0.85"/>
<path d="M112.4,399.8 L114.4,399.8 L116.4,399.8 L118.4,399.8 L120.4,399.8 L122.4,399.8 L124.4,399.8 L126.4,399.8 L128.4,399.8 L130.4,399.8 L132.4,399.8 L134.4,399.8 L136.4,399.8 L138.4,399.9 L140.4,399.9 L142.4,400.0 L144.4,400.1 L146.4,400.2 L148.4,400.4 L150.4,400.6 L152.4,400.8 L154.4,401.1 L156.4,401.3 L158.4,401.6 L160.4,401.9 L162.4,402.1 L164.4,402.4 L166.4,402.7 L168.4,403.0 L170.4,403.3 L172.4,403.6 L174.4,403.9 L176.4,404.2 L178.4,404.5 L180.4,404.9 L182.4,405.2 L184.4,405.6 L186.4,406.0 L188.4,406.3 L190.4,406.7 L192.4,407.0 L194.4,407.4 L196.4,407.7 L198.4,408.0 L200.4,408.4 L202.4,408.7 L204.4,409.0 L206.4,409.3 L208.4,409.6 L210.4,410.0 L212.4,410.3 L214.4,410.6 L216.4,410.9 L218.4,411.3 L220.4,411.6 L222.4,412.0 L224.4,412.4 L226.4,412.7 L228.4,413.1 L230.4,413.5 L232.4,413.9 L234.4,414.3 L236.4,414.7 L238.4,415.1 L240.4,415.6 L242.4,416.0 L244.4,416.4 L246.4,416.8 L248.4,417.2 L250.4,417.5 L252.4,417.9 L254.4,418.3 L256.4,418.6 L258.4,419.0 L260.4,419.4 L262.4,419.7 L264.4,420.1 L266.4,420.4 L268.4,420.7 L270.4,421.1 L272.4,421.4 L274.4,421.7 L276.4,422.1 L278.4,422.4 L280.4,422.7 L282.4,423.0 L284.4,423.3 L286.4,423.6 L288.4,423.9 L290.4,424.2 L292.4,424.5 L294.4,424.8 L296.4,425.0 L298.4,425.3 L300.4,425.5 L302.4,425.8 L304.4,426.0 L306.4,426.2 L308.4,426.5 L310.4,426.7 L312.4,426.9 L314.4,427.1 L316.4,427.3 L318.4,427.5 L320.4,427.7 L322.4,427.9 L324.4,428.1 L326.4,428.3 L328.4,428.5 L330.4,428.6 L332.4,428.8 L334.4,429.0 L336.4,429.1 L338.4,429.3 L340.4,429.4 L342.4,429.6 L344.4,429.7 L346.4,429.9 L348.4,430.0 L350.4,430.2 L352.4,430.3 L354.4,430.4 L356.4,430.6 L358.4,430.7 L360.4,430.8 L362.4,430.9 L364.4,431.1 L366.4,431.2 L368.4,431.3 L370.4,431.5 L372.4,431.6 L374.4,431.7 L376.4,431.8 L378.4,431.9 L380.4,432.0 L382.4,432.1 L384.4,432.2 L386.4,432.3 L388.4,432.4 L390.4,432.5 L392.4,432.5 L394.4,432.6 L396.4,432.6 L398.4,432.7 L400.4,432.7 L402.4,432.8 L404.4,432.8 L406.4,432.8 L408.4,432.9 L410.4,432.9 L412.4,432.9 L414.4,433.0 L416.4,433.0 L418.4,433.0 L420.4,433.1 L422.4,433.1 L424.4,433.1 L426.4,433.1 L428.4,433.2 L430.4,433.2 L432.4,433.2 L434.4,433.2 L436.4,433.2 L438.4,433.3 L440.4,433.3 L442.4,433.3 L444.4,433.3 L446.4,433.3 L448.4,433.3 L450.0,433.3" fill="none" stroke="#ff0000" stroke-width="1.6" stroke-linejoin="round" stroke-linecap="round" stroke-dasharray="2,1.7" stroke-opacity="0.85"/>
<path d="M112.4,402.7 L114.4,402.8 L116.4,402.9 L118.4,403.1 L120.4,403.2 L122.4,403.3 L124.4,403.5 L126.4,403.6 L128.4,403.8 L130.4,403.9 L132.4,404.1 L134.4,404.3 L136.4,404.5 L138.4,404.7 L140.4,404.9 L142.4,405.1 L144.4,405.3 L146.4,405.5 L148.4,405.7 L150.4,405.9 L152.4,406.2 L154.4,406.4 L156.4,406.7 L158.4,406.9 L160.4,407.2 L162.4,407.5 L164.4,407.8 L166.4,408.1 L168.4,408.4 L170.4,408.8 L172.4,409.1 L174.4,409.4 L176.4,409.7 L178.4,410.1 L180.4,410.4 L182.4,410.8 L184.4,411.1 L186.4,411.5 L188.4,411.8 L190.4,412.2 L192.4,412.6 L194.4,413.0 L196.4,413.4 L198.4,413.8 L200.4,414.2 L202.4,414.7 L204.4,415.1 L206.4,415.5 L208.4,416.0 L210.4,416.4 L212.4,416.8 L214.4,417.2 L216.4,417.6 L218.4,418.0 L220.4,418.3 L222.4,418.7 L224.4,419.0 L226.4,419.3 L228.4,419.6 L230.4,419.9 L232.4,420.2 L234.4,420.4 L236.4,420.7 L238.4,421.0 L240.4,421.2 L242.4,421.5 L244.4,421.7 L246.4,422.0 L248.4,422.2 L250.4,422.5 L252.4,422.7 L254.4,423.0 L256.4,423.3 L258.4,423.5 L260.4,423.8 L262.4,424.1 L264.4,424.3 L266.4,424.6 L268.4,424.9 L270.4,425.1 L272.4,425.4 L274.4,425.6 L276.4,425.9 L278.4,426.1 L280.4,426.4 L282.4,426.6 L284.4,426.8 L286.4,427.0 L288.4,427.2 L290.4,427.4 L292.4,427.6 L294.4,427.8 L296.4,427.9 L298.4,428.1 L300.4,428.3 L302.4,428.4 L304.4,428.6 L306.4,428.8 L308.4,428.9 L310.4,429.1 L312.4,429.2 L314.4,429.4 L316.4,429.5 L318.4,429.7 L320.4,429.8 L322.4,430.0 L324.4,430.1 L326.4,430.2 L328.4,430.4 L330.4,430.5 L332.4,430.6 L334.4,430.7 L336.4,430.8 L338.4,430.9 L340.4,431.0 L342.4,431.1 L344.4,431.2 L346.4,431.3 L348.4,431.4 L350.4,431.5 L352.4,431.6 L354.4,431.7 L356.4,431.8 L358.4,431.8 L360.4,431.9 L362.4,432.0 L364.4,432.1 L366.4,432.1 L368.4,432.2 L370.4,432.3 L372.4,432.3 L374.4,432.4 L376.4,432.5 L378.4,432.5 L380.4,432.6 L382.4,432.6 L384.4,432.7 L386.4,432.7 L388.4,432.8 L390.4,432.8 L392.4,432.9 L394.4,432.9 L396.4,432.9 L398.4,433.0 L400.0,433.0" fill="none" stroke="#555" stroke-width="1.6" stroke-linejoin="round" stroke-linecap="round" stroke-dasharray="1.6,5" stroke-opacity="0.85"/>
<ellipse cx="520.0" cy="114.3" rx="10.2" ry="41.2" fill="none" stroke="#222" stroke-width="1.2"/>
<ellipse cx="218.9" cy="390.2" rx="9.2" ry="40.2" fill="none" stroke="#222" stroke-width="1.2"/>
<line x1="519.0" y1="155.6" x2="464.4" y2="155.6" stroke="#111" stroke-width="1.6" />
<polygon points="459.0,155.6 468.0,153.1 468.0,158.1" fill="#111"/>
<line x1="218.9" y1="349.6" x2="267.6" y2="349.4" stroke="#111" stroke-width="1.6" />
<polygon points="273.0,349.4 264.0,351.9 264.0,346.9" fill="#111"/>
<rect x="110.5" y="28.2" width="505.0" height="407.0" fill="none" stroke="#000" stroke-width="4.1"/>
<line x1="102.0" y1="377.1" x2="110.5" y2="377.1" stroke="#000" stroke-width="3.2" />
<line x1="106.0" y1="318.9" x2="110.5" y2="318.9" stroke="#000" stroke-width="3.2" />
<line x1="102.0" y1="260.8" x2="110.5" y2="260.8" stroke="#000" stroke-width="3.2" />
<line x1="106.0" y1="202.6" x2="110.5" y2="202.6" stroke="#000" stroke-width="3.2" />
<line x1="102.0" y1="144.5" x2="110.5" y2="144.5" stroke="#000" stroke-width="3.2" />
<line x1="106.0" y1="86.3" x2="110.5" y2="86.3" stroke="#000" stroke-width="3.2" />
<line x1="102.0" y1="28.2" x2="110.5" y2="28.2" stroke="#000" stroke-width="3.2" />
<line x1="615.5" y1="435.2" x2="624.0" y2="435.2" stroke="#000" stroke-width="3.2" />
<line x1="615.5" y1="394.5" x2="620.0" y2="394.5" stroke="#000" stroke-width="3.2" />
<line x1="615.5" y1="353.8" x2="624.0" y2="353.8" stroke="#000" stroke-width="3.2" />
<line x1="615.5" y1="313.1" x2="620.0" y2="313.1" stroke="#000" stroke-width="3.2" />
<line x1="615.5" y1="272.4" x2="624.0" y2="272.4" stroke="#000" stroke-width="3.2" />
<line x1="615.5" y1="231.7" x2="620.0" y2="231.7" stroke="#000" stroke-width="3.2" />
<line x1="615.5" y1="191.0" x2="624.0" y2="191.0" stroke="#000" stroke-width="3.2" />
<line x1="615.5" y1="150.3" x2="620.0" y2="150.3" stroke="#000" stroke-width="3.2" />
<line x1="615.5" y1="109.6" x2="624.0" y2="109.6" stroke="#000" stroke-width="3.2" />
<line x1="615.5" y1="68.9" x2="620.0" y2="68.9" stroke="#000" stroke-width="3.2" />
<line x1="615.5" y1="28.2" x2="624.0" y2="28.2" stroke="#000" stroke-width="3.2" />
<line x1="110.5" y1="435.2" x2="110.5" y2="443.7" stroke="#000" stroke-width="3.2" />
<line x1="152.6" y1="435.2" x2="152.6" y2="440.2" stroke="#000" stroke-width="3.2" />
<line x1="194.7" y1="435.2" x2="194.7" y2="443.7" stroke="#000" stroke-width="3.2" />
<line x1="236.8" y1="435.2" x2="236.8" y2="440.2" stroke="#000" stroke-width="3.2" />
<line x1="278.8" y1="435.2" x2="278.8" y2="443.7" stroke="#000" stroke-width="3.2" />
<line x1="320.9" y1="435.2" x2="320.9" y2="440.2" stroke="#000" stroke-width="3.2" />
<line x1="363.0" y1="435.2" x2="363.0" y2="443.7" stroke="#000" stroke-width="3.2" />
<line x1="405.1" y1="435.2" x2="405.1" y2="440.2" stroke="#000" stroke-width="3.2" />
<line x1="447.2" y1="435.2" x2="447.2" y2="443.7" stroke="#000" stroke-width="3.2" />
<line x1="489.2" y1="435.2" x2="489.2" y2="440.2" stroke="#000" stroke-width="3.2" />
<line x1="531.3" y1="435.2" x2="531.3" y2="443.7" stroke="#000" stroke-width="3.2" />
<line x1="573.4" y1="435.2" x2="573.4" y2="440.2" stroke="#000" stroke-width="3.2" />
<line x1="615.5" y1="435.2" x2="615.5" y2="443.7" stroke="#000" stroke-width="3.2" />
<text x="93.3" y="385.1" font-size="24.5" font-weight="bold" font-style="normal" text-anchor="end" fill="#000" textLength="38.5" lengthAdjust="spacingAndGlyphs" >800</text>
<text x="93.3" y="268.8" font-size="24.5" font-weight="bold" font-style="normal" text-anchor="end" fill="#000" textLength="51.4" lengthAdjust="spacingAndGlyphs" >1200</text>
<text x="93.3" y="152.5" font-size="24.5" font-weight="bold" font-style="normal" text-anchor="end" fill="#000" textLength="51.4" lengthAdjust="spacingAndGlyphs" >1600</text>
<text x="93.3" y="36.2" font-size="24.5" font-weight="bold" font-style="normal" text-anchor="end" fill="#000" textLength="51.4" lengthAdjust="spacingAndGlyphs" >2000</text>
<text x="628.5" y="443.2" font-size="24.5" font-weight="bold" font-style="normal" text-anchor="start" fill="#000" >0.0</text>
<text x="628.5" y="361.8" font-size="24.5" font-weight="bold" font-style="normal" text-anchor="start" fill="#000" >0.2</text>
<text x="628.5" y="280.4" font-size="24.5" font-weight="bold" font-style="normal" text-anchor="start" fill="#000" >0.4</text>
<text x="628.5" y="199.0" font-size="24.5" font-weight="bold" font-style="normal" text-anchor="start" fill="#000" >0.6</text>
<text x="628.5" y="117.6" font-size="24.5" font-weight="bold" font-style="normal" text-anchor="start" fill="#000" >0.8</text>
<text x="628.5" y="36.2" font-size="24.5" font-weight="bold" font-style="normal" text-anchor="start" fill="#000" >1.0</text>
<text x="110.5" y="469.4" font-size="25.5" font-weight="bold" font-style="normal" text-anchor="middle" fill="#000" >-100</text>
<text x="194.7" y="469.4" font-size="25.5" font-weight="bold" font-style="normal" text-anchor="middle" fill="#000" >-50</text>
<text x="278.8" y="469.4" font-size="25.5" font-weight="bold" font-style="normal" text-anchor="middle" fill="#000" >0</text>
<text x="363.0" y="469.4" font-size="25.5" font-weight="bold" font-style="normal" text-anchor="middle" fill="#000" >50</text>
<text x="447.2" y="469.4" font-size="25.5" font-weight="bold" font-style="normal" text-anchor="middle" fill="#000" >100</text>
<text x="531.3" y="469.4" font-size="25.5" font-weight="bold" font-style="normal" text-anchor="middle" fill="#000" >150</text>
<text x="615.5" y="469.4" font-size="25.5" font-weight="bold" font-style="normal" text-anchor="middle" fill="#000" >200</text>
<text x="144.6" y="62.0" font-size="26.0" font-weight="bold" font-style="normal" text-anchor="start" fill="#000" >(a)</text>
<text x="219.3" y="65.0" font-size="25.5" font-weight="bold" font-style="normal" text-anchor="start" fill="#000" textLength="121.4" lengthAdjust="spacingAndGlyphs" >KNN-BZT</text>
<text x="304.6" y="204.3" font-size="27.0" font-weight="bold" font-style="italic" text-anchor="start" fill="#000" >T</text>
<text x="318.3" y="210.2" font-size="20.0" font-weight="normal" font-style="normal" text-anchor="start" fill="#000" textLength="32.5" lengthAdjust="spacingAndGlyphs" >R-C</text>
<text x="357.6" y="203.6" font-size="25.5" font-weight="bold" font-style="normal" text-anchor="start" fill="#000" textLength="69.4" lengthAdjust="spacingAndGlyphs" >= 9 °C</text>
<text x="302.8" y="245.4" font-size="25.5" font-weight="bold" textLength="143.9" lengthAdjust="spacingAndGlyphs">tan<tspan font-style="italic">δ</tspan> = 1.2%</text>
<text x="304.6" y="282.2" font-size="27.0" font-weight="bold" font-style="italic" text-anchor="start" fill="#000" >ε</text>
<text x="318.0" y="287.0" font-size="20.0" font-weight="bold" font-style="normal" text-anchor="start" fill="#000" >r</text>
<text x="332.8" y="282.2" font-size="25.5" font-weight="bold" font-style="normal" text-anchor="start" fill="#000" textLength="75.4" lengthAdjust="spacingAndGlyphs" >= 1829</text>
<text x="302.8" y="322.4" font-size="25.5" font-weight="bold" font-style="normal" text-anchor="start" fill="#000" textLength="119.9" lengthAdjust="spacingAndGlyphs" >@ 0.1 kHz</text>
<line x1="474.1" y1="206.3" x2="502.4" y2="206.3" stroke="#000" stroke-width="2.8" />
<text x="508.4" y="209.0" font-size="25.0" font-weight="bold" font-style="normal" text-anchor="start" fill="#000" textLength="80.5" lengthAdjust="spacingAndGlyphs" >0.1kHz</text>
<line x1="474.1" y1="239.9" x2="502.4" y2="239.9" stroke="#ff0000" stroke-width="2.8" />
<text x="508.4" y="242.8" font-size="25.0" font-weight="bold" font-style="normal" text-anchor="start" fill="#000" textLength="60.8" lengthAdjust="spacingAndGlyphs" >1kHz</text>
<line x1="474.1" y1="273.1" x2="502.4" y2="273.1" stroke="#0000ff" stroke-width="2.8" />
<text x="508.4" y="277.0" font-size="25.0" font-weight="bold" font-style="normal" text-anchor="start" fill="#000" textLength="74.5" lengthAdjust="spacingAndGlyphs" >10kHz</text>
<line x1="474.1" y1="306.2" x2="502.4" y2="306.2" stroke="#00ee00" stroke-width="2.8" />
<text x="508.4" y="310.4" font-size="25.0" font-weight="bold" font-style="normal" text-anchor="start" fill="#000" textLength="87.3" lengthAdjust="spacingAndGlyphs" >100kHz</text>
<line x1="474.1" y1="339.5" x2="502.4" y2="339.5" stroke="#ff00ff" stroke-width="2.8" />
<text x="508.4" y="343.0" font-size="25.0" font-weight="bold" font-style="normal" text-anchor="start" fill="#000" textLength="99.3" lengthAdjust="spacingAndGlyphs" >1000kHz</text>
<text x="320.0" y="522.0" font-size="33.0" font-weight="bold" font-style="italic" text-anchor="start" fill="#000" >T</text>
<text x="349.0" y="522.0" font-size="32.0" font-weight="bold" font-style="normal" text-anchor="start" fill="#000" textLength="57.0" lengthAdjust="spacingAndGlyphs" >(°C)</text>
<text transform="rotate(-90 19.5 241)" x="19.5" y="241" font-size="37" font-style="italic" font-weight="bold">ε<tspan font-size="20" font-style="normal" dy="4" dx="-3">r</tspan></text>
<text transform="rotate(-90 702 263.4)" x="702" y="263.4" font-size="34" font-weight="bold" textLength="71" lengthAdjust="spacingAndGlyphs">tan<tspan font-style="italic" dx="3">δ</tspan></text>
<path d="M819.8,301.5 L821.8,298.2 L823.8,294.9 L825.8,291.7 L827.8,288.5 L829.8,285.3 L831.8,282.3 L833.8,279.2 L835.8,276.3 L837.8,273.4 L839.8,270.6 L841.8,267.8 L843.8,265.1 L845.8,262.4 L847.8,259.8 L849.8,257.2 L851.8,254.7 L853.8,252.2 L855.8,249.7 L857.8,247.3 L859.8,245.0 L861.8,242.6 L863.8,240.3 L865.8,238.0 L867.8,235.8 L869.8,233.6 L871.8,231.3 L873.8,229.2 L875.8,227.0 L877.8,224.8 L879.8,222.7 L881.8,220.6 L883.8,218.5 L885.8,216.5 L887.8,214.4 L889.8,212.4 L891.8,210.5 L893.8,208.5 L895.8,206.6 L897.8,204.7 L899.8,202.9 L901.8,201.1 L903.8,199.4 L905.8,197.6 L907.8,196.0 L909.8,194.4 L911.8,192.8 L913.8,191.2 L915.8,189.8 L917.8,188.3 L919.8,186.9 L921.8,185.5 L923.8,184.1 L925.8,182.7 L927.8,181.4 L929.8,180.0 L931.8,178.7 L933.8,177.4 L935.8,176.1 L937.8,174.8 L939.8,173.5 L941.8,172.2 L943.8,170.9 L945.8,169.7 L947.8,168.4 L949.8,167.1 L951.8,165.9 L953.8,164.7 L955.8,163.5 L957.8,162.3 L959.8,161.1 L961.8,160.0 L963.8,158.9 L965.8,157.9 L967.8,156.9 L969.8,155.9 L971.8,154.9 L973.8,154.0 L975.8,153.1 L977.8,152.3 L979.8,151.5 L981.8,150.6 L983.8,149.8 L985.8,149.1 L987.8,148.3 L989.8,147.5 L991.8,146.8 L993.8,146.1 L995.8,145.4 L997.8,144.7 L999.8,144.1 L1001.8,143.5 L1003.8,142.9 L1005.8,142.4 L1007.8,141.9 L1009.8,141.4 L1011.8,141.0 L1013.8,140.6 L1015.8,140.2 L1017.8,139.9 L1019.8,139.7 L1021.8,139.4 L1023.8,139.2 L1025.8,139.1 L1027.8,139.0 L1029.8,138.9 L1031.8,138.8 L1033.8,138.7 L1035.8,138.7 L1037.8,138.7 L1039.8,138.7 L1041.8,138.6 L1043.8,138.6 L1045.8,138.6 L1047.8,138.6 L1049.8,138.6 L1051.8,138.6 L1053.8,138.6 L1055.8,138.6 L1057.8,138.6 L1059.8,138.6 L1061.8,138.7 L1063.8,138.7 L1065.8,138.7 L1067.8,138.7 L1069.8,138.8 L1071.8,138.8 L1073.8,138.9 L1075.8,138.9 L1077.8,139.0 L1079.8,139.0 L1081.8,139.1 L1083.8,139.1 L1085.8,139.2 L1087.8,139.3 L1089.8,139.3 L1091.8,139.4 L1093.8,139.5 L1095.8,139.6 L1097.8,139.7 L1099.8,139.8 L1101.8,139.9 L1103.8,140.0 L1105.8,140.1 L1107.8,140.2 L1109.8,140.4 L1111.8,140.5 L1113.8,140.6 L1115.8,140.7 L1117.8,140.8 L1119.8,141.0 L1121.8,141.1 L1123.8,141.2 L1125.8,141.3 L1127.8,141.4 L1129.8,141.5 L1131.8,141.6 L1133.8,141.8 L1135.8,141.9 L1137.8,142.0 L1139.8,142.1 L1141.8,142.2 L1143.8,142.3 L1145.8,142.4 L1147.8,142.6 L1149.8,142.7 L1151.8,142.8 L1153.8,142.9 L1155.8,143.0 L1157.8,143.1 L1159.8,143.2 L1161.8,143.4 L1163.8,143.5 L1165.8,143.6 L1167.8,143.7 L1169.8,143.8 L1171.8,143.9 L1173.8,144.1 L1175.8,144.2 L1177.8,144.3 L1179.8,144.4 L1181.8,144.6 L1183.8,144.7 L1185.8,144.8 L1187.8,144.9 L1189.8,145.1 L1191.8,145.2 L1193.8,145.4 L1195.8,145.5 L1197.8,145.7 L1199.8,145.8 L1201.8,146.0 L1203.8,146.2 L1205.8,146.4 L1207.8,146.5 L1209.8,146.7 L1211.8,146.9 L1213.8,147.1 L1215.8,147.3 L1217.8,147.6 L1219.8,147.8 L1221.8,148.0 L1223.8,148.2 L1225.8,148.5 L1227.8,148.7 L1229.8,148.9 L1231.8,149.2 L1233.8,149.4 L1235.8,149.7 L1237.8,149.9 L1239.8,150.2 L1241.8,150.4 L1243.8,150.7 L1245.8,150.9 L1247.8,151.2 L1249.8,151.4 L1251.8,151.7 L1253.8,151.9 L1255.8,152.2 L1257.8,152.4 L1259.8,152.7 L1261.8,152.9 L1263.8,153.2 L1265.8,153.4 L1267.8,153.7 L1269.8,153.9 L1271.8,154.1 L1273.8,154.4 L1275.8,154.6 L1277.8,154.9 L1279.8,155.1 L1281.8,155.3 L1283.8,155.6 L1285.8,155.8 L1287.8,156.1 L1289.8,156.3 L1291.8,156.6 L1293.8,156.8 L1295.8,157.0 L1297.8,157.3 L1299.8,157.5 L1301.8,157.8 L1303.8,158.0 L1305.8,158.3 L1307.8,158.5 L1309.8,158.7 L1311.8,159.0 L1313.8,159.2 L1315.8,159.4 L1317.8,159.6 L1319.8,159.8 L1321.8,160.0 L1323.8,160.1 L1323.9,160.2" fill="none" stroke="#000" stroke-width="2.6" stroke-linejoin="round" stroke-linecap="round" />
<path d="M819.6,334.0 L821.6,331.3 L823.6,328.5 L825.6,325.8 L827.6,323.1 L829.6,320.4 L831.6,317.6 L833.6,314.9 L835.6,312.1 L837.6,309.4 L839.6,306.6 L841.6,303.9 L843.6,301.1 L845.6,298.3 L847.6,295.5 L849.6,292.7 L851.6,289.9 L853.6,287.2 L855.6,284.4 L857.6,281.6 L859.6,278.9 L861.6,276.1 L863.6,273.4 L865.6,270.7 L867.6,268.1 L869.6,265.4 L871.6,262.8 L873.6,260.2 L875.6,257.7 L877.6,255.2 L879.6,252.7 L881.6,250.3 L883.6,248.0 L885.6,245.6 L887.6,243.3 L889.6,241.1 L891.6,238.8 L893.6,236.6 L895.6,234.4 L897.6,232.2 L899.6,230.0 L901.6,227.8 L903.6,225.6 L905.6,223.4 L907.6,221.2 L909.6,219.0 L911.6,216.8 L913.6,214.7 L915.6,212.6 L917.6,210.5 L919.6,208.5 L921.6,206.5 L923.6,204.6 L925.6,202.7 L927.6,200.8 L929.6,199.0 L931.6,197.2 L933.6,195.5 L935.6,193.8 L937.6,192.1 L939.6,190.4 L941.6,188.8 L943.6,187.2 L945.6,185.7 L947.6,184.1 L949.6,182.6 L951.6,181.1 L953.6,179.6 L955.6,178.1 L957.6,176.6 L959.6,175.2 L961.6,173.7 L963.6,172.3 L965.6,170.8 L967.6,169.4 L969.6,168.0 L971.6,166.6 L973.6,165.3 L975.6,164.0 L977.6,162.8 L979.6,161.6 L981.6,160.5 L983.6,159.4 L985.6,158.3 L987.6,157.3 L989.6,156.3 L991.6,155.3 L993.6,154.4 L995.6,153.6 L997.6,152.7 L999.6,152.0 L1001.6,151.2 L1003.6,150.5 L1005.6,149.8 L1007.6,149.2 L1009.6,148.6 L1011.6,148.1 L1013.6,147.6 L1015.6,147.1 L1017.6,146.8 L1019.6,146.4 L1021.6,146.1 L1023.6,145.9 L1025.6,145.7 L1027.6,145.5 L1029.6,145.4 L1031.6,145.2 L1033.6,145.2 L1035.6,145.1 L1037.6,145.0 L1039.6,145.0 L1041.6,145.0 L1043.6,144.9 L1045.6,144.9 L1047.6,144.9 L1049.6,144.9 L1051.6,144.9 L1053.6,144.8 L1055.6,144.8 L1057.6,144.8 L1059.6,144.8 L1061.6,144.8 L1063.6,144.8 L1065.6,144.8 L1067.6,144.8 L1069.6,144.9 L1071.6,144.9 L1073.6,144.9 L1075.6,144.9 L1077.6,144.9 L1079.6,145.0 L1081.6,145.0 L1083.6,145.0 L1085.6,145.1 L1087.6,145.1 L1089.6,145.1 L1091.6,145.2 L1093.6,145.2 L1095.6,145.2 L1097.6,145.3 L1099.6,145.3 L1101.6,145.4 L1103.6,145.4 L1105.6,145.5 L1107.6,145.6 L1109.6,145.6 L1111.6,145.7 L1113.6,145.8 L1115.6,145.9 L1117.6,146.0 L1119.6,146.1 L1121.6,146.2 L1123.6,146.3 L1125.6,146.4 L1127.6,146.5 L1129.6,146.6 L1131.6,146.7 L1133.6,146.9 L1135.6,147.0 L1137.6,147.1 L1139.6,147.2 L1141.6,147.3 L1143.6,147.5 L1145.6,147.6 L1147.6,147.7 L1149.6,147.8 L1151.6,148.0 L1153.6,148.1 L1155.6,148.2 L1157.6,148.3 L1159.6,148.5 L1161.6,148.6 L1163.6,148.7 L1165.6,148.8 L1167.6,148.9 L1169.6,149.1 L1171.6,149.2 L1173.6,149.3 L1175.6,149.4 L1177.6,149.5 L1179.6,149.6 L1181.6,149.7 L1183.6,149.9 L1185.6,150.0 L1187.6,150.1 L1189.6,150.2 L1191.6,150.4 L1193.6,150.5 L1195.6,150.6 L1197.6,150.8 L1199.6,150.9 L1201.6,151.1 L1203.6,151.2 L1205.6,151.4 L1207.6,151.6 L1209.6,151.8 L1211.6,151.9 L1213.6,152.1 L1215.6,152.3 L1217.6,152.5 L1219.6,152.7 L1221.6,152.9 L1223.6,153.2 L1225.6,153.4 L1227.6,153.6 L1229.6,153.8 L1231.6,154.1 L1233.6,154.3 L1235.6,154.5 L1237.6,154.8 L1239.6,155.0 L1241.6,155.2 L1243.6,155.5 L1245.6,155.7 L1247.6,156.0 L1249.6,156.2 L1251.6,156.4 L1253.6,156.7 L1255.6,156.9 L1257.6,157.2 L1259.6,157.4 L1261.6,157.6 L1263.6,157.9 L1265.6,158.1 L1267.6,158.3 L1269.6,158.6 L1271.6,158.8 L1273.6,159.0 L1275.6,159.3 L1277.6,159.5 L1279.6,159.7 L1281.6,159.9 L1283.6,160.2 L1285.6,160.4 L1287.6,160.7 L1289.6,160.9 L1291.6,161.1 L1293.6,161.4 L1295.6,161.6 L1297.6,161.8 L1299.6,162.1 L1301.6,162.3 L1303.6,162.5 L1305.6,162.8 L1307.6,163.0 L1309.6,163.3 L1311.6,163.5 L1313.6,163.7 L1315.6,163.9 L1317.6,164.1 L1319.6,164.3 L1321.6,164.5 L1323.6,164.6 L1323.9,164.8" fill="none" stroke="#ff0000" stroke-width="2.6" stroke-linejoin="round" stroke-linecap="round" />
<path d="M819.6,366.6 L821.6,364.1 L823.6,361.7 L825.6,359.2 L827.6,356.8 L829.6,354.3 L831.6,351.9 L833.6,349.4 L835.6,347.0 L837.6,344.5 L839.6,342.0 L841.6,339.5 L843.6,337.1 L845.6,334.6 L847.6,332.1 L849.6,329.6 L851.6,327.1 L853.6,324.6 L855.6,322.0 L857.6,319.5 L859.6,317.0 L861.6,314.5 L863.6,312.0 L865.6,309.5 L867.6,307.0 L869.6,304.5 L871.6,302.0 L873.6,299.6 L875.6,297.1 L877.6,294.7 L879.6,292.3 L881.6,289.8 L883.6,287.4 L885.6,285.0 L887.6,282.6 L889.6,280.2 L891.6,277.8 L893.6,275.4 L895.6,273.0 L897.6,270.6 L899.6,268.2 L901.6,265.8 L903.6,263.4 L905.6,260.9 L907.6,258.5 L909.6,256.0 L911.6,253.6 L913.6,251.1 L915.6,248.6 L917.6,246.1 L919.6,243.6 L921.6,241.1 L923.6,238.6 L925.6,236.2 L927.6,233.7 L929.6,231.3 L931.6,229.0 L933.6,226.6 L935.6,224.3 L937.6,222.1 L939.6,219.8 L941.6,217.7 L943.6,215.5 L945.6,213.4 L947.6,211.3 L949.6,209.3 L951.6,207.3 L953.6,205.4 L955.6,203.5 L957.6,201.6 L959.6,199.7 L961.6,197.9 L963.6,196.2 L965.6,194.4 L967.6,192.7 L969.6,191.0 L971.6,189.4 L973.6,187.7 L975.6,186.1 L977.6,184.6 L979.6,183.1 L981.6,181.6 L983.6,180.1 L985.6,178.7 L987.6,177.3 L989.6,175.9 L991.6,174.6 L993.6,173.3 L995.6,172.0 L997.6,170.8 L999.6,169.5 L1001.6,168.3 L1003.6,167.1 L1005.6,165.9 L1007.6,164.8 L1009.6,163.7 L1011.6,162.6 L1013.6,161.5 L1015.6,160.5 L1017.6,159.5 L1019.6,158.6 L1021.6,157.6 L1023.6,156.8 L1025.6,155.9 L1027.6,155.2 L1029.6,154.4 L1031.6,153.7 L1033.6,153.1 L1035.6,152.5 L1037.6,152.0 L1039.6,151.5 L1041.6,151.1 L1043.6,150.7 L1045.6,150.4 L1047.6,150.2 L1049.6,150.0 L1051.6,149.8 L1053.6,149.7 L1055.6,149.6 L1057.6,149.6 L1059.6,149.5 L1061.6,149.5 L1063.6,149.4 L1065.6,149.4 L1067.6,149.4 L1069.6,149.4 L1071.6,149.4 L1073.6,149.4 L1075.6,149.4 L1077.6,149.5 L1079.6,149.5 L1081.6,149.5 L1083.6,149.5 L1085.6,149.5 L1087.6,149.5 L1089.6,149.5 L1091.6,149.6 L1093.6,149.6 L1095.6,149.6 L1097.6,149.6 L1099.6,149.6 L1101.6,149.7 L1103.6,149.7 L1105.6,149.7 L1107.6,149.7 L1109.6,149.7 L1111.6,149.8 L1113.6,149.8 L1115.6,149.8 L1117.6,149.9 L1119.6,149.9 L1121.6,150.0 L1123.6,150.0 L1125.6,150.1 L1127.6,150.1 L1129.6,150.2 L1131.6,150.3 L1133.6,150.4 L1135.6,150.5 L1137.6,150.6 L1139.6,150.7 L1141.6,150.8 L1143.6,150.9 L1145.6,151.0 L1147.6,151.2 L1149.6,151.3 L1151.6,151.4 L1153.6,151.6 L1155.6,151.7 L1157.6,151.8 L1159.6,152.0 L1161.6,152.1 L1163.6,152.3 L1165.6,152.4 L1167.6,152.6 L1169.6,152.7 L1171.6,152.9 L1173.6,153.0 L1175.6,153.2 L1177.6,153.3 L1179.6,153.5 L1181.6,153.6 L1183.6,153.7 L1185.6,153.9 L1187.6,154.0 L1189.6,154.2 L1191.6,154.3 L1193.6,154.4 L1195.6,154.6 L1197.6,154.7 L1199.6,154.9 L1201.6,155.1 L1203.6,155.2 L1205.6,155.4 L1207.6,155.6 L1209.6,155.7 L1211.6,155.9 L1213.6,156.1 L1215.6,156.3 L1217.6,156.5 L1219.6,156.6 L1221.6,156.8 L1223.6,157.0 L1225.6,157.2 L1227.6,157.4 L1229.6,157.6 L1231.6,157.8 L1233.6,158.0 L1235.6,158.2 L1237.6,158.5 L1239.6,158.7 L1241.6,158.9 L1243.6,159.1 L1245.6,159.3 L1247.6,159.5 L1249.6,159.8 L1251.6,160.0 L1253.6,160.2 L1255.6,160.4 L1257.6,160.7 L1259.6,160.9 L1261.6,161.1 L1263.6,161.4 L1265.6,161.6 L1267.6,161.9 L1269.6,162.1 L1271.6,162.4 L1273.6,162.6 L1275.6,162.9 L1277.6,163.1 L1279.6,163.4 L1281.6,163.6 L1283.6,163.9 L1285.6,164.2 L1287.6,164.4 L1289.6,164.7 L1291.6,165.0 L1293.6,165.3 L1295.6,165.6 L1297.6,165.8 L1299.6,166.1 L1301.6,166.4 L1303.6,166.7 L1305.6,167.0 L1307.6,167.3 L1309.6,167.6 L1311.6,167.9 L1313.6,168.2 L1315.6,168.4 L1317.6,168.7 L1319.6,168.9 L1321.6,169.1 L1323.6,169.3 L1323.9,169.5" fill="none" stroke="#0000ff" stroke-width="2.6" stroke-linejoin="round" stroke-linecap="round" />
<path d="M819.6,389.4 L821.6,387.6 L823.6,385.7 L825.6,383.9 L827.6,382.1 L829.6,380.3 L831.6,378.4 L833.6,376.6 L835.6,374.7 L837.6,372.8 L839.6,371.0 L841.6,369.1 L843.6,367.2 L845.6,365.3 L847.6,363.4 L849.6,361.4 L851.6,359.5 L853.6,357.6 L855.6,355.7 L857.6,353.7 L859.6,351.7 L861.6,349.8 L863.6,347.8 L865.6,345.8 L867.6,343.7 L869.6,341.7 L871.6,339.6 L873.6,337.4 L875.6,335.3 L877.6,333.1 L879.6,330.8 L881.6,328.6 L883.6,326.2 L885.6,323.8 L887.6,321.4 L889.6,319.0 L891.6,316.5 L893.6,314.0 L895.6,311.5 L897.6,308.9 L899.6,306.4 L901.6,303.8 L903.6,301.2 L905.6,298.6 L907.6,296.0 L909.6,293.4 L911.6,290.8 L913.6,288.2 L915.6,285.6 L917.6,283.0 L919.6,280.4 L921.6,277.8 L923.6,275.2 L925.6,272.6 L927.6,270.0 L929.6,267.4 L931.6,264.8 L933.6,262.3 L935.6,259.7 L937.6,257.2 L939.6,254.7 L941.6,252.2 L943.6,249.8 L945.6,247.4 L947.6,245.0 L949.6,242.7 L951.6,240.3 L953.6,238.1 L955.6,235.8 L957.6,233.6 L959.6,231.4 L961.6,229.3 L963.6,227.1 L965.6,225.0 L967.6,223.0 L969.6,221.0 L971.6,219.0 L973.6,217.0 L975.6,215.1 L977.6,213.2 L979.6,211.3 L981.6,209.4 L983.6,207.6 L985.6,205.8 L987.6,204.0 L989.6,202.3 L991.6,200.5 L993.6,198.8 L995.6,197.1 L997.6,195.5 L999.6,193.8 L1001.6,192.2 L1003.6,190.6 L1005.6,188.9 L1007.6,187.4 L1009.6,185.8 L1011.6,184.2 L1013.6,182.7 L1015.6,181.2 L1017.6,179.7 L1019.6,178.2 L1021.6,176.8 L1023.6,175.4 L1025.6,174.1 L1027.6,172.8 L1029.6,171.5 L1031.6,170.3 L1033.6,169.1 L1035.6,168.0 L1037.6,166.9 L1039.6,165.8 L1041.6,164.8 L1043.6,163.9 L1045.6,163.0 L1047.6,162.1 L1049.6,161.3 L1051.6,160.5 L1053.6,159.7 L1055.6,159.1 L1057.6,158.4 L1059.6,157.8 L1061.6,157.2 L1063.6,156.7 L1065.6,156.3 L1067.6,155.9 L1069.6,155.5 L1071.6,155.2 L1073.6,154.9 L1075.6,154.7 L1077.6,154.6 L1079.6,154.4 L1081.6,154.3 L1083.6,154.3 L1085.6,154.2 L1087.6,154.2 L1089.6,154.2 L1091.6,154.1 L1093.6,154.1 L1095.6,154.1 L1097.6,154.2 L1099.6,154.2 L1101.6,154.2 L1103.6,154.2 L1105.6,154.2 L1107.6,154.2 L1109.6,154.2 L1111.6,154.2 L1113.6,154.3 L1115.6,154.3 L1117.6,154.3 L1119.6,154.4 L1121.6,154.4 L1123.6,154.5 L1125.6,154.5 L1127.6,154.6 L1129.6,154.7 L1131.6,154.8 L1133.6,154.9 L1135.6,155.0 L1137.6,155.1 L1139.6,155.2 L1141.6,155.4 L1143.6,155.5 L1145.6,155.7 L1147.6,155.8 L1149.6,155.9 L1151.6,156.1 L1153.6,156.2 L1155.6,156.4 L1157.6,156.5 L1159.6,156.6 L1161.6,156.8 L1163.6,156.9 L1165.6,157.0 L1167.6,157.2 L1169.6,157.3 L1171.6,157.4 L1173.6,157.6 L1175.6,157.7 L1177.6,157.8 L1179.6,158.0 L1181.6,158.1 L1183.6,158.3 L1185.6,158.4 L1187.6,158.6 L1189.6,158.7 L1191.6,158.9 L1193.6,159.0 L1195.6,159.2 L1197.6,159.3 L1199.6,159.5 L1201.6,159.6 L1203.6,159.8 L1205.6,160.0 L1207.6,160.1 L1209.6,160.3 L1211.6,160.4 L1213.6,160.6 L1215.6,160.8 L1217.6,160.9 L1219.6,161.1 L1221.6,161.3 L1223.6,161.4 L1225.6,161.6 L1227.6,161.8 L1229.6,162.0 L1231.6,162.2 L1233.6,162.3 L1235.6,162.5 L1237.6,162.7 L1239.6,162.9 L1241.6,163.1 L1243.6,163.3 L1245.6,163.5 L1247.6,163.7 L1249.6,163.9 L1251.6,164.1 L1253.6,164.3 L1255.6,164.6 L1257.6,164.8 L1259.6,165.0 L1261.6,165.3 L1263.6,165.5 L1265.6,165.8 L1267.6,166.0 L1269.6,166.3 L1271.6,166.5 L1273.6,166.8 L1275.6,167.1 L1277.6,167.4 L1279.6,167.7 L1281.6,168.0 L1283.6,168.3 L1285.6,168.7 L1287.6,169.0 L1289.6,169.3 L1291.6,169.7 L1293.6,170.0 L1295.6,170.4 L1297.6,170.8 L1299.6,171.1 L1301.6,171.5 L1303.6,171.9 L1305.6,172.3 L1307.6,172.6 L1309.6,173.0 L1311.6,173.4 L1313.6,173.8 L1315.6,174.2 L1317.6,174.5 L1319.6,174.8 L1321.6,175.1 L1323.6,175.4 L1323.9,175.6" fill="none" stroke="#00ee00" stroke-width="2.6" stroke-linejoin="round" stroke-linecap="round" />
<path d="M819.6,416.8 L821.6,414.7 L823.6,412.7 L825.6,410.7 L827.6,408.6 L829.6,406.6 L831.6,404.5 L833.6,402.5 L835.6,400.4 L837.6,398.3 L839.6,396.3 L841.6,394.2 L843.6,392.1 L845.6,390.1 L847.6,388.0 L849.6,385.9 L851.6,383.8 L853.6,381.7 L855.6,379.6 L857.6,377.5 L859.6,375.4 L861.6,373.3 L863.6,371.2 L865.6,369.1 L867.6,367.0 L869.6,364.9 L871.6,362.8 L873.6,360.7 L875.6,358.6 L877.6,356.5 L879.6,354.4 L881.6,352.3 L883.6,350.3 L885.6,348.2 L887.6,346.1 L889.6,344.0 L891.6,341.8 L893.6,339.6 L895.6,337.4 L897.6,335.2 L899.6,332.9 L901.6,330.5 L903.6,328.1 L905.6,325.6 L907.6,323.1 L909.6,320.5 L911.6,317.9 L913.6,315.3 L915.6,312.6 L917.6,310.0 L919.6,307.3 L921.6,304.7 L923.6,302.0 L925.6,299.4 L927.6,296.7 L929.6,294.1 L931.6,291.5 L933.6,288.8 L935.6,286.1 L937.6,283.4 L939.6,280.7 L941.6,278.0 L943.6,275.3 L945.6,272.5 L947.6,269.7 L949.6,267.0 L951.6,264.2 L953.6,261.4 L955.6,258.7 L957.6,256.0 L959.6,253.3 L961.6,250.6 L963.6,248.0 L965.6,245.4 L967.6,242.8 L969.6,240.2 L971.6,237.5 L973.6,234.9 L975.6,232.3 L977.6,229.7 L979.6,227.1 L981.6,224.5 L983.6,221.9 L985.6,219.3 L987.6,216.8 L989.6,214.2 L991.6,211.7 L993.6,209.3 L995.6,206.9 L997.6,204.5 L999.6,202.2 L1001.6,199.9 L1003.6,197.7 L1005.6,195.4 L1007.6,193.1 L1009.6,190.9 L1011.6,188.6 L1013.6,186.3 L1015.6,183.9 L1017.6,181.6 L1019.6,179.2 L1021.6,176.9 L1023.6,174.5 L1025.6,172.2 L1027.6,169.9 L1029.6,167.6 L1031.6,165.3 L1033.6,163.1 L1035.6,160.9 L1037.6,158.8 L1039.6,156.7 L1041.6,154.7 L1043.6,152.7 L1045.6,150.8 L1047.6,148.9 L1049.6,147.1 L1051.6,145.4 L1053.6,143.7 L1055.6,142.1 L1057.6,140.5 L1059.6,139.0 L1061.6,137.5 L1063.6,136.0 L1065.6,134.6 L1067.6,133.2 L1069.6,131.9 L1071.6,130.5 L1073.6,129.3 L1075.6,128.1 L1077.6,126.9 L1079.6,125.7 L1081.6,124.6 L1083.6,123.6 L1085.6,122.6 L1087.6,121.6 L1089.6,120.6 L1091.6,119.8 L1093.6,118.9 L1095.6,118.1 L1097.6,117.4 L1099.6,116.6 L1101.6,116.0 L1103.6,115.3 L1105.6,114.8 L1107.6,114.2 L1109.6,113.7 L1111.6,113.2 L1113.6,112.8 L1115.6,112.4 L1117.6,112.0 L1119.6,111.7 L1121.6,111.4 L1123.6,111.2 L1125.6,111.0 L1127.6,110.9 L1129.6,110.8 L1131.6,110.7 L1133.6,110.6 L1135.6,110.6 L1137.6,110.6 L1139.6,110.5 L1141.6,110.5 L1143.6,110.5 L1145.6,110.5 L1147.6,110.5 L1149.6,110.5 L1151.6,110.6 L1153.6,110.6 L1155.6,110.6 L1157.6,110.6 L1159.6,110.7 L1161.6,110.7 L1163.6,110.8 L1165.6,110.9 L1167.6,110.9 L1169.6,111.0 L1171.6,111.1 L1173.6,111.2 L1175.6,111.3 L1177.6,111.4 L1179.6,111.5 L1181.6,111.6 L1183.6,111.7 L1185.6,111.9 L1187.6,112.0 L1189.6,112.2 L1191.6,112.3 L1193.6,112.5 L1195.6,112.6 L1197.6,112.8 L1199.6,113.0 L1201.6,113.2 L1203.6,113.4 L1205.6,113.6 L1207.6,113.8 L1209.6,114.0 L1211.6,114.2 L1213.6,114.4 L1215.6,114.7 L1217.6,114.9 L1219.6,115.1 L1221.6,115.3 L1223.6,115.6 L1225.6,115.8 L1227.6,116.0 L1229.6,116.3 L1231.6,116.5 L1233.6,116.8 L1235.6,117.0 L1237.6,117.3 L1239.6,117.5 L1241.6,117.8 L1243.6,118.1 L1245.6,118.3 L1247.6,118.6 L1249.6,118.9 L1251.6,119.1 L1253.6,119.4 L1255.6,119.7 L1257.6,120.0 L1259.6,120.3 L1261.6,120.5 L1263.6,120.8 L1265.6,121.1 L1267.6,121.4 L1269.6,121.7 L1271.6,122.0 L1273.6,122.4 L1275.6,122.7 L1277.6,123.0 L1279.6,123.3 L1281.6,123.6 L1283.6,124.0 L1285.6,124.3 L1287.6,124.6 L1289.6,125.0 L1291.6,125.3 L1293.6,125.7 L1295.6,126.0 L1297.6,126.4 L1299.6,126.8 L1301.6,127.1 L1303.6,127.5 L1305.6,127.9 L1307.6,128.2 L1309.6,128.6 L1311.6,129.0 L1313.6,129.3 L1315.6,129.7 L1317.6,130.0 L1319.6,130.3 L1321.6,130.6 L1323.6,130.8 L1323.9,131.0" fill="none" stroke="#ff00ff" stroke-width="2.6" stroke-linejoin="round" stroke-linecap="round" />
<path d="M821.3,389.2 L823.3,388.9 L825.3,388.7 L827.3,388.4 L829.3,388.2 L831.3,387.9 L833.3,387.7 L835.3,387.4 L837.3,387.2 L839.3,386.9 L841.3,386.7 L843.3,386.5 L845.3,386.2 L847.3,386.0 L849.3,385.8 L851.3,385.6 L853.3,385.3 L855.3,385.1 L857.3,384.9 L859.3,384.7 L861.3,384.5 L863.3,384.3 L865.3,384.1 L867.3,383.8 L869.3,383.6 L871.3,383.4 L873.3,383.2 L875.3,383.0 L877.3,382.8 L879.3,382.7 L881.3,382.5 L883.3,382.3 L885.3,382.1 L887.3,382.0 L889.3,381.8 L891.3,381.6 L893.3,381.5 L895.3,381.3 L897.3,381.2 L899.3,381.0 L901.3,380.9 L903.3,380.7 L905.3,380.5 L907.3,380.4 L909.3,380.2 L911.3,380.1 L913.3,380.0 L915.3,379.8 L917.3,379.7 L919.3,379.6 L921.3,379.5 L923.3,379.4 L925.3,379.3 L927.3,379.2 L929.3,379.2 L931.3,379.2 L933.3,379.1 L935.3,379.1 L937.3,379.2 L939.3,379.2 L941.3,379.3 L943.3,379.3 L945.3,379.4 L947.3,379.5 L949.3,379.7 L951.3,379.8 L953.3,379.9 L955.3,380.1 L957.3,380.2 L959.3,380.4 L961.3,380.6 L963.3,380.8 L965.3,381.0 L967.3,381.2 L969.3,381.5 L971.3,381.8 L973.3,382.1 L975.3,382.4 L977.3,382.8 L979.3,383.1 L981.3,383.5 L983.3,383.8 L985.3,384.2 L987.3,384.6 L989.3,385.0 L991.3,385.4 L993.3,385.8 L995.3,386.3 L997.3,386.7 L999.3,387.2 L1001.3,387.7 L1003.3,388.2 L1005.3,388.7 L1007.3,389.3 L1009.3,389.8 L1011.3,390.3 L1013.3,390.9 L1015.3,391.4 L1017.3,392.0 L1019.3,392.5 L1021.3,393.0 L1023.3,393.5 L1025.3,394.0 L1027.3,394.4 L1029.3,394.9 L1031.3,395.3 L1033.3,395.7 L1035.3,396.1 L1037.3,396.6 L1039.3,396.9 L1041.3,397.3 L1043.3,397.7 L1045.3,398.1 L1047.3,398.5 L1049.3,398.9 L1051.3,399.2 L1053.3,399.6 L1055.3,399.9 L1057.3,400.3 L1059.3,400.6 L1061.3,401.0 L1063.3,401.3 L1065.3,401.6 L1067.3,401.9 L1069.3,402.2 L1071.3,402.5 L1073.3,402.8 L1075.3,403.1 L1077.3,403.4 L1079.3,403.7 L1081.3,404.0 L1083.3,404.2 L1085.3,404.5 L1087.3,404.8 L1089.3,405.0 L1091.3,405.3 L1093.3,405.5 L1095.3,405.8 L1097.3,406.0 L1099.3,406.2 L1101.3,406.5 L1103.3,406.7 L1105.3,406.9 L1107.3,407.2 L1109.3,407.4 L1111.3,407.6 L1113.3,407.8 L1115.3,408.0 L1117.3,408.3 L1119.3,408.5 L1121.3,408.7 L1123.3,408.9 L1125.3,409.1 L1127.3,409.4 L1129.3,409.6 L1131.3,409.8 L1133.3,410.0 L1135.3,410.3 L1137.3,410.5 L1139.3,410.7 L1141.3,411.0 L1143.3,411.2 L1145.3,411.4 L1147.3,411.6 L1149.3,411.9 L1151.3,412.1 L1153.3,412.3 L1155.3,412.6 L1157.3,412.8 L1159.3,413.0 L1161.3,413.2 L1163.3,413.4 L1165.3,413.7 L1167.3,413.9 L1169.3,414.1 L1171.3,414.3 L1173.3,414.5 L1175.3,414.7 L1177.3,414.9 L1179.3,415.1 L1181.3,415.3 L1183.3,415.4 L1185.3,415.6 L1187.3,415.8 L1189.3,415.9 L1191.3,416.1 L1193.3,416.2 L1195.3,416.4 L1197.3,416.5 L1199.3,416.6 L1201.3,416.8 L1203.3,416.9 L1205.3,417.0 L1207.3,417.1 L1209.3,417.2 L1211.3,417.4 L1213.3,417.5 L1215.3,417.6 L1217.3,417.7 L1219.3,417.8 L1221.3,417.9 L1223.3,418.0 L1225.3,418.1 L1227.3,418.2 L1229.3,418.3 L1231.3,418.4 L1233.3,418.5 L1235.3,418.6 L1237.3,418.7 L1239.3,418.7 L1241.3,418.8 L1243.3,418.9 L1245.3,419.0 L1247.3,419.1 L1249.3,419.1 L1251.3,419.2 L1253.3,419.3 L1255.3,419.3 L1257.3,419.4 L1259.3,419.5 L1261.3,419.5 L1263.3,419.6 L1265.3,419.7 L1267.3,419.7 L1269.3,419.8 L1271.3,419.8 L1273.3,419.9 L1275.3,420.0 L1277.3,420.0 L1279.3,420.1 L1281.3,420.1 L1283.3,420.2 L1285.3,420.2 L1287.3,420.3 L1289.3,420.3 L1291.3,420.4 L1293.3,420.4 L1295.3,420.5 L1297.3,420.5 L1299.3,420.6 L1301.3,420.6 L1303.3,420.7 L1305.3,420.7 L1307.3,420.7 L1309.3,420.8 L1311.3,420.8 L1313.3,420.8 L1315.3,420.9 L1317.3,420.9 L1319.3,420.9 L1321.3,421.0 L1323.3,421.0 L1323.9,421.0" fill="none" stroke="#ff00ff" stroke-width="1.6" stroke-linejoin="round" stroke-linecap="round" stroke-dasharray="2,1.7" stroke-opacity="0.85"/>
<path d="M821.3,390.5 L823.3,390.3 L825.3,390.1 L827.3,389.9 L829.3,389.7 L831.3,389.5 L833.3,389.3 L835.3,389.1 L837.3,388.9 L839.3,388.8 L841.3,388.6 L843.3,388.5 L845.3,388.4 L847.3,388.3 L849.3,388.3 L851.3,388.2 L853.3,388.2 L855.3,388.2 L857.3,388.2 L859.3,388.2 L861.3,388.2 L863.3,388.2 L865.3,388.3 L867.3,388.3 L869.3,388.3 L871.3,388.3 L873.3,388.3 L875.3,388.4 L877.3,388.4 L879.3,388.4 L881.3,388.4 L883.3,388.5 L885.3,388.5 L887.3,388.5 L889.3,388.6 L891.3,388.6 L893.3,388.7 L895.3,388.8 L897.3,388.9 L899.3,389.0 L901.3,389.2 L903.3,389.3 L905.3,389.5 L907.3,389.7 L909.3,389.8 L911.3,390.0 L913.3,390.2 L915.3,390.4 L917.3,390.6 L919.3,390.8 L921.3,391.0 L923.3,391.2 L925.3,391.4 L927.3,391.6 L929.3,391.8 L931.3,392.0 L933.3,392.2 L935.3,392.4 L937.3,392.7 L939.3,392.9 L941.3,393.2 L943.3,393.4 L945.3,393.7 L947.3,394.0 L949.3,394.3 L951.3,394.6 L953.3,394.9 L955.3,395.3 L957.3,395.7 L959.3,396.1 L961.3,396.6 L963.3,397.1 L965.3,397.7 L967.3,398.3 L969.3,398.9 L971.3,399.5 L973.3,400.1 L975.3,400.7 L977.3,401.4 L979.3,402.0 L981.3,402.6 L983.3,403.3 L985.3,403.9 L987.3,404.4 L989.3,405.0 L991.3,405.5 L993.3,406.1 L995.3,406.6 L997.3,407.1 L999.3,407.6 L1001.3,408.1 L1003.3,408.6 L1005.3,409.1 L1007.3,409.6 L1009.3,410.0 L1011.3,410.5 L1013.3,411.0 L1015.3,411.4 L1017.3,411.9 L1019.3,412.3 L1021.3,412.8 L1023.3,413.2 L1025.3,413.6 L1027.3,414.0 L1029.3,414.4 L1031.3,414.8 L1033.3,415.2 L1035.3,415.6 L1037.3,416.0 L1039.3,416.4 L1041.3,416.7 L1043.3,417.1 L1045.3,417.5 L1047.3,417.8 L1049.3,418.2 L1051.3,418.6 L1053.3,418.9 L1055.3,419.2 L1057.3,419.6 L1059.3,419.9 L1061.3,420.2 L1063.3,420.5 L1065.3,420.8 L1067.3,421.0 L1069.3,421.3 L1071.3,421.6 L1073.3,421.8 L1075.3,422.0 L1077.3,422.2 L1079.3,422.4 L1081.3,422.6 L1083.3,422.8 L1085.3,423.0 L1087.3,423.2 L1089.3,423.4 L1091.3,423.6 L1093.3,423.8 L1095.3,423.9 L1097.3,424.1 L1099.3,424.3 L1101.3,424.4 L1103.3,424.5 L1105.3,424.7 L1107.3,424.8 L1109.3,424.9 L1111.3,425.1 L1113.3,425.2 L1115.3,425.3 L1117.3,425.4 L1119.3,425.5 L1121.3,425.5 L1123.3,425.6 L1125.3,425.7 L1127.3,425.8 L1129.3,425.9 L1131.3,425.9 L1133.3,426.0 L1135.3,426.1 L1137.3,426.1 L1139.3,426.2 L1141.3,426.3 L1143.3,426.3 L1145.3,426.4 L1147.3,426.4 L1149.3,426.5 L1151.3,426.6 L1153.3,426.6 L1155.3,426.7 L1157.3,426.7 L1159.3,426.8 L1161.3,426.8 L1163.3,426.9 L1165.3,426.9 L1167.3,427.0 L1169.3,427.0 L1171.3,427.0 L1173.3,427.1 L1175.3,427.1 L1177.3,427.2 L1179.3,427.2 L1181.3,427.2 L1183.3,427.3 L1185.3,427.3 L1187.3,427.3 L1189.3,427.4 L1191.3,427.4 L1193.3,427.4 L1195.3,427.4 L1197.3,427.5 L1199.3,427.5 L1201.3,427.5 L1203.3,427.5 L1205.3,427.6 L1207.3,427.6 L1209.3,427.6 L1211.3,427.6 L1213.3,427.6 L1215.3,427.7 L1217.3,427.7 L1219.3,427.7 L1221.3,427.7 L1223.3,427.7 L1225.3,427.8 L1227.3,427.8 L1229.3,427.8 L1231.3,427.8 L1233.3,427.8 L1235.3,427.9 L1237.3,427.9 L1239.3,427.9 L1241.3,427.9 L1243.3,427.9 L1245.3,427.9 L1247.3,428.0 L1249.3,428.0 L1251.3,428.0 L1253.3,428.0 L1255.3,428.0 L1257.3,428.0 L1259.3,428.0 L1261.3,428.1 L1263.3,428.1 L1265.3,428.1 L1267.3,428.1 L1269.3,428.1 L1271.3,428.1 L1273.3,428.1 L1275.3,428.2 L1277.3,428.2 L1279.3,428.2 L1281.3,428.2 L1283.3,428.2 L1285.3,428.2 L1287.3,428.2 L1289.3,428.2 L1291.3,428.2 L1293.3,428.2 L1295.3,428.2 L1297.3,428.3 L1299.3,428.3 L1301.3,428.3 L1303.3,428.3 L1305.3,428.3 L1307.3,428.3 L1309.3,428.3 L1311.3,428.3 L1313.3,428.3 L1315.3,428.3 L1317.3,428.3 L1319.3,428.3 L1321.3,428.3 L1323.3,428.3 L1323.9,428.3" fill="none" stroke="#00ee00" stroke-width="1.6" stroke-linejoin="round" stroke-linecap="round" stroke-dasharray="2,1.7" stroke-opacity="0.85"/>
<path d="M821.3,393.6 L823.3,393.6 L825.3,393.6 L827.3,393.6 L829.3,393.6 L831.3,393.6 L833.3,393.6 L835.3,393.6 L837.3,393.6 L839.3,393.6 L841.3,393.6 L843.3,393.6 L845.3,393.6 L847.3,393.6 L849.3,393.6 L851.3,393.6 L853.3,393.6 L855.3,393.6 L857.3,393.6 L859.3,393.6 L861.3,393.6 L863.3,393.6 L865.3,393.6 L867.3,393.7 L869.3,393.7 L871.3,393.8 L873.3,393.9 L875.3,394.0 L877.3,394.2 L879.3,394.4 L881.3,394.6 L883.3,394.8 L885.3,395.0 L887.3,395.3 L889.3,395.5 L891.3,395.8 L893.3,396.1 L895.3,396.3 L897.3,396.6 L899.3,396.9 L901.3,397.1 L903.3,397.4 L905.3,397.7 L907.3,398.0 L909.3,398.3 L911.3,398.6 L913.3,399.0 L915.3,399.3 L917.3,399.7 L919.3,400.0 L921.3,400.4 L923.3,400.8 L925.3,401.2 L927.3,401.6 L929.3,402.0 L931.3,402.4 L933.3,402.8 L935.3,403.3 L937.3,403.7 L939.3,404.2 L941.3,404.7 L943.3,405.1 L945.3,405.6 L947.3,406.1 L949.3,406.6 L951.3,407.1 L953.3,407.6 L955.3,408.1 L957.3,408.5 L959.3,409.0 L961.3,409.5 L963.3,409.9 L965.3,410.4 L967.3,410.8 L969.3,411.3 L971.3,411.7 L973.3,412.1 L975.3,412.5 L977.3,413.0 L979.3,413.4 L981.3,413.8 L983.3,414.2 L985.3,414.6 L987.3,415.0 L989.3,415.4 L991.3,415.8 L993.3,416.2 L995.3,416.6 L997.3,417.0 L999.3,417.3 L1001.3,417.7 L1003.3,418.1 L1005.3,418.5 L1007.3,418.8 L1009.3,419.2 L1011.3,419.6 L1013.3,420.0 L1015.3,420.3 L1017.3,420.7 L1019.3,421.1 L1021.3,421.4 L1023.3,421.8 L1025.3,422.1 L1027.3,422.5 L1029.3,422.8 L1031.3,423.1 L1033.3,423.4 L1035.3,423.7 L1037.3,423.9 L1039.3,424.2 L1041.3,424.4 L1043.3,424.6 L1045.3,424.8 L1047.3,425.0 L1049.3,425.2 L1051.3,425.4 L1053.3,425.6 L1055.3,425.7 L1057.3,425.9 L1059.3,426.0 L1061.3,426.2 L1063.3,426.3 L1065.3,426.5 L1067.3,426.6 L1069.3,426.7 L1071.3,426.8 L1073.3,426.9 L1075.3,427.0 L1077.3,427.1 L1079.3,427.2 L1081.3,427.3 L1083.3,427.4 L1085.3,427.4 L1087.3,427.5 L1089.3,427.6 L1091.3,427.7 L1093.3,427.7 L1095.3,427.8 L1097.3,427.9 L1099.3,427.9 L1101.3,428.0 L1103.3,428.0 L1105.3,428.1 L1107.3,428.2 L1109.3,428.2 L1111.3,428.2 L1113.3,428.3 L1115.3,428.3 L1117.3,428.4 L1119.3,428.4 L1121.3,428.4 L1123.3,428.4 L1125.3,428.5 L1127.3,428.5 L1129.3,428.5 L1131.3,428.5 L1133.3,428.6 L1135.3,428.6 L1137.3,428.6 L1139.3,428.6 L1141.3,428.7 L1143.3,428.7 L1145.3,428.7 L1147.3,428.7 L1149.3,428.7 L1151.3,428.8 L1153.3,428.8 L1155.3,428.8 L1157.3,428.8 L1159.3,428.8 L1161.3,428.8 L1163.3,428.9 L1165.3,428.9 L1167.3,428.9 L1169.3,428.9 L1171.3,428.9 L1173.3,428.9 L1175.3,428.9 L1177.3,428.9 L1179.3,428.9 L1181.3,429.0 L1183.3,429.0 L1185.3,429.0 L1187.3,429.0 L1189.3,429.0 L1191.3,429.0 L1193.3,429.0 L1195.3,429.0 L1197.3,429.0 L1199.3,429.0 L1200.0,429.0" fill="none" stroke="#0000ff" stroke-width="1.6" stroke-linejoin="round" stroke-linecap="round" stroke-dasharray="2,1.7" stroke-opacity="0.85"/>
<path d="M821.3,397.4 L823.3,397.4 L825.3,397.4 L827.3,397.4 L829.3,397.5 L831.3,397.5 L833.3,397.5 L835.3,397.6 L837.3,397.6 L839.3,397.6 L841.3,397.7 L843.3,397.8 L845.3,397.8 L847.3,397.9 L849.3,398.0 L851.3,398.0 L853.3,398.1 L855.3,398.2 L857.3,398.3 L859.3,398.4 L861.3,398.5 L863.3,398.6 L865.3,398.8 L867.3,398.9 L869.3,399.1 L871.3,399.4 L873.3,399.7 L875.3,400.0 L877.3,400.4 L879.3,400.8 L881.3,401.2 L883.3,401.6 L885.3,402.0 L887.3,402.4 L889.3,402.8 L891.3,403.2 L893.3,403.6 L895.3,404.0 L897.3,404.4 L899.3,404.8 L901.3,405.1 L903.3,405.5 L905.3,405.9 L907.3,406.3 L909.3,406.7 L911.3,407.1 L913.3,407.5 L915.3,408.0 L917.3,408.4 L919.3,408.8 L921.3,409.2 L923.3,409.7 L925.3,410.1 L927.3,410.6 L929.3,411.1 L931.3,411.6 L933.3,412.1 L935.3,412.6 L937.3,413.1 L939.3,413.6 L941.3,414.1 L943.3,414.6 L945.3,415.0 L947.3,415.5 L949.3,416.0 L951.3,416.4 L953.3,416.8 L955.3,417.2 L957.3,417.6 L959.3,418.0 L961.3,418.4 L963.3,418.8 L965.3,419.1 L967.3,419.5 L969.3,419.9 L971.3,420.2 L973.3,420.6 L975.3,420.9 L977.3,421.2 L979.3,421.5 L981.3,421.8 L983.3,422.1 L985.3,422.4 L987.3,422.7 L989.3,422.9 L991.3,423.2 L993.3,423.4 L995.3,423.6 L997.3,423.8 L999.3,424.0 L1001.3,424.2 L1003.3,424.4 L1005.3,424.6 L1007.3,424.8 L1009.3,425.0 L1011.3,425.1 L1013.3,425.3 L1015.3,425.5 L1017.3,425.6 L1019.3,425.8 L1021.3,425.9 L1023.3,426.0 L1025.3,426.2 L1027.3,426.3 L1029.3,426.4 L1031.3,426.5 L1033.3,426.6 L1035.3,426.7 L1037.3,426.8 L1039.3,426.9 L1041.3,427.0 L1043.3,427.1 L1045.3,427.2 L1047.3,427.3 L1049.3,427.4 L1051.3,427.5 L1053.3,427.6 L1055.3,427.7 L1057.3,427.7 L1059.3,427.8 L1061.3,427.9 L1063.3,428.0 L1065.3,428.0 L1067.3,428.1 L1069.3,428.1 L1071.3,428.2 L1073.3,428.3 L1075.3,428.3 L1077.3,428.3 L1079.3,428.4 L1081.3,428.4 L1083.3,428.5 L1085.3,428.5 L1087.3,428.6 L1089.3,428.6 L1091.3,428.6 L1093.3,428.7 L1095.3,428.7 L1097.3,428.8 L1099.3,428.8 L1101.3,428.8 L1103.3,428.8 L1105.3,428.9 L1107.3,428.9 L1109.3,428.9 L1111.3,428.9 L1113.3,429.0 L1115.3,429.0 L1117.3,429.0 L1119.3,429.0 L1120.0,429.0" fill="none" stroke="#ff0000" stroke-width="1.6" stroke-linejoin="round" stroke-linecap="round" stroke-dasharray="2,1.7" stroke-opacity="0.85"/>
<path d="M835.2,402.4 L837.2,402.5 L839.2,402.5 L841.2,402.6 L843.2,402.6 L845.2,402.7 L847.2,402.8 L849.2,403.0 L851.2,403.1 L853.2,403.3 L855.2,403.4 L857.2,403.6 L859.2,403.7 L861.2,403.9 L863.2,404.2 L865.2,404.4 L867.2,404.7 L869.2,405.0 L871.2,405.3 L873.2,405.6 L875.2,406.0 L877.2,406.4 L879.2,406.8 L881.2,407.2 L883.2,407.7 L885.2,408.1 L887.2,408.6 L889.2,409.0 L891.2,409.5 L893.2,409.9 L895.2,410.3 L897.2,410.7 L899.2,411.0 L901.2,411.4 L903.2,411.8 L905.2,412.2 L907.2,412.5 L909.2,412.9 L911.2,413.3 L913.2,413.7 L915.2,414.1 L917.2,414.5 L919.2,414.9 L921.2,415.3 L923.2,415.7 L925.2,416.1 L927.2,416.5 L929.2,416.9 L931.2,417.3 L933.2,417.7 L935.2,418.1 L937.2,418.5 L939.2,418.9 L941.2,419.3 L943.2,419.8 L945.2,420.2 L947.2,420.6 L949.2,420.9 L951.2,421.3 L953.2,421.6 L955.2,421.9 L957.2,422.1 L959.2,422.4 L961.2,422.6 L963.2,422.8 L965.2,423.1 L967.2,423.3 L969.2,423.5 L971.2,423.7 L973.2,423.9 L975.2,424.1 L977.2,424.3 L979.2,424.5 L981.2,424.8 L983.2,425.0 L985.2,425.2 L987.2,425.4 L989.2,425.6 L991.2,425.8 L993.2,426.0 L995.2,426.2 L997.2,426.4 L999.2,426.5 L1001.2,426.7 L1003.2,426.8 L1004.0,427.0" fill="none" stroke="#555" stroke-width="1.6" stroke-linejoin="round" stroke-linecap="round" stroke-dasharray="1.6,5" stroke-opacity="0.85"/>
<ellipse cx="1266.6" cy="126.3" rx="10.3" ry="41.1" fill="none" stroke="#222" stroke-width="1.2"/>
<ellipse cx="917.7" cy="386.6" rx="9.4" ry="41.0" fill="none" stroke="#222" stroke-width="1.2"/>
<line x1="1266.6" y1="167.4" x2="1212.4" y2="167.8" stroke="#111" stroke-width="1.6" />
<polygon points="1207.0,167.8 1216.0,165.2 1216.0,170.2" fill="#111"/>
<line x1="917.5" y1="345.7" x2="967.1" y2="345.7" stroke="#111" stroke-width="1.6" />
<polygon points="972.5,345.7 963.5,348.2 963.5,343.2" fill="#111"/>
<rect x="818.7" y="22.7" width="505.8" height="407.1" fill="none" stroke="#000" stroke-width="4.1"/>
<line x1="810.2" y1="22.7" x2="818.7" y2="22.7" stroke="#000" stroke-width="3.2" />
<line x1="814.2" y1="63.4" x2="818.7" y2="63.4" stroke="#000" stroke-width="3.2" />
<line x1="810.2" y1="104.1" x2="818.7" y2="104.1" stroke="#000" stroke-width="3.2" />
<line x1="814.2" y1="144.8" x2="818.7" y2="144.8" stroke="#000" stroke-width="3.2" />
<line x1="810.2" y1="185.5" x2="818.7" y2="185.5" stroke="#000" stroke-width="3.2" />
<line x1="814.2" y1="226.2" x2="818.7" y2="226.2" stroke="#000" stroke-width="3.2" />
<line x1="810.2" y1="267.0" x2="818.7" y2="267.0" stroke="#000" stroke-width="3.2" />
<line x1="814.2" y1="307.7" x2="818.7" y2="307.7" stroke="#000" stroke-width="3.2" />
<line x1="810.2" y1="348.4" x2="818.7" y2="348.4" stroke="#000" stroke-width="3.2" />
<line x1="814.2" y1="389.1" x2="818.7" y2="389.1" stroke="#000" stroke-width="3.2" />
<line x1="810.2" y1="429.8" x2="818.7" y2="429.8" stroke="#000" stroke-width="3.2" />
<line x1="1324.5" y1="429.8" x2="1333.0" y2="429.8" stroke="#000" stroke-width="3.2" />
<line x1="1324.5" y1="389.1" x2="1329.0" y2="389.1" stroke="#000" stroke-width="3.2" />
<line x1="1324.5" y1="348.4" x2="1333.0" y2="348.4" stroke="#000" stroke-width="3.2" />
<line x1="1324.5" y1="307.7" x2="1329.0" y2="307.7" stroke="#000" stroke-width="3.2" />
<line x1="1324.5" y1="267.0" x2="1333.0" y2="267.0" stroke="#000" stroke-width="3.2" />
<line x1="1324.5" y1="226.2" x2="1329.0" y2="226.2" stroke="#000" stroke-width="3.2" />
<line x1="1324.5" y1="185.5" x2="1333.0" y2="185.5" stroke="#000" stroke-width="3.2" />
<line x1="1324.5" y1="144.8" x2="1329.0" y2="144.8" stroke="#000" stroke-width="3.2" />
<line x1="1324.5" y1="104.1" x2="1333.0" y2="104.1" stroke="#000" stroke-width="3.2" />
<line x1="1324.5" y1="63.4" x2="1329.0" y2="63.4" stroke="#000" stroke-width="3.2" />
<line x1="1324.5" y1="22.7" x2="1333.0" y2="22.7" stroke="#000" stroke-width="3.2" />
<line x1="818.7" y1="429.8" x2="818.7" y2="438.3" stroke="#000" stroke-width="3.2" />
<line x1="860.9" y1="429.8" x2="860.9" y2="434.8" stroke="#000" stroke-width="3.2" />
<line x1="903.0" y1="429.8" x2="903.0" y2="438.3" stroke="#000" stroke-width="3.2" />
<line x1="945.2" y1="429.8" x2="945.2" y2="434.8" stroke="#000" stroke-width="3.2" />
<line x1="987.3" y1="429.8" x2="987.3" y2="438.3" stroke="#000" stroke-width="3.2" />
<line x1="1029.5" y1="429.8" x2="1029.5" y2="434.8" stroke="#000" stroke-width="3.2" />
<line x1="1071.6" y1="429.8" x2="1071.6" y2="438.3" stroke="#000" stroke-width="3.2" />
<line x1="1113.8" y1="429.8" x2="1113.8" y2="434.8" stroke="#000" stroke-width="3.2" />
<line x1="1155.9" y1="429.8" x2="1155.9" y2="438.3" stroke="#000" stroke-width="3.2" />
<line x1="1198.1" y1="429.8" x2="1198.1" y2="434.8" stroke="#000" stroke-width="3.2" />
<line x1="1240.2" y1="429.8" x2="1240.2" y2="438.3" stroke="#000" stroke-width="3.2" />
<line x1="1282.3" y1="429.8" x2="1282.3" y2="434.8" stroke="#000" stroke-width="3.2" />
<line x1="1324.5" y1="429.8" x2="1324.5" y2="438.3" stroke="#000" stroke-width="3.2" />
<text x="810.5" y="30.7" font-size="24.5" font-weight="bold" font-style="normal" text-anchor="end" fill="#000" textLength="51.4" lengthAdjust="spacingAndGlyphs" >1800</text>
<text x="810.5" y="93.0" font-size="24.5" font-weight="bold" font-style="normal" text-anchor="end" fill="#000" textLength="51.4" lengthAdjust="spacingAndGlyphs" >1600</text>
<text x="810.5" y="156.6" font-size="24.5" font-weight="bold" font-style="normal" text-anchor="end" fill="#000" textLength="51.4" lengthAdjust="spacingAndGlyphs" >1400</text>
<text x="810.5" y="219.0" font-size="24.5" font-weight="bold" font-style="normal" text-anchor="end" fill="#000" textLength="51.4" lengthAdjust="spacingAndGlyphs" >1200</text>
<text x="810.5" y="281.5" font-size="24.5" font-weight="bold" font-style="normal" text-anchor="end" fill="#000" textLength="51.4" lengthAdjust="spacingAndGlyphs" >1000</text>
<text x="810.5" y="344.6" font-size="24.5" font-weight="bold" font-style="normal" text-anchor="end" fill="#000" textLength="38.5" lengthAdjust="spacingAndGlyphs" >800</text>
<text x="810.5" y="406.0" font-size="24.5" font-weight="bold" font-style="normal" text-anchor="end" fill="#000" textLength="38.5" lengthAdjust="spacingAndGlyphs" >600</text>
<text x="1337.5" y="437.8" font-size="24.5" font-weight="bold" font-style="normal" text-anchor="start" fill="#000" >0.0</text>
<text x="1337.5" y="356.4" font-size="24.5" font-weight="bold" font-style="normal" text-anchor="start" fill="#000" >0.2</text>
<text x="1337.5" y="275.0" font-size="24.5" font-weight="bold" font-style="normal" text-anchor="start" fill="#000" >0.4</text>
<text x="1337.5" y="193.5" font-size="24.5" font-weight="bold" font-style="normal" text-anchor="start" fill="#000" >0.6</text>
<text x="1337.5" y="112.1" font-size="24.5" font-weight="bold" font-style="normal" text-anchor="start" fill="#000" >0.8</text>
<text x="1337.5" y="30.7" font-size="24.5" font-weight="bold" font-style="normal" text-anchor="start" fill="#000" >1.0</text>
<text x="818.7" y="465.5" font-size="25.5" font-weight="bold" font-style="normal" text-anchor="middle" fill="#000" >-100</text>
<text x="903.0" y="465.5" font-size="25.5" font-weight="bold" font-style="normal" text-anchor="middle" fill="#000" >-50</text>
<text x="987.3" y="465.5" font-size="25.5" font-weight="bold" font-style="normal" text-anchor="middle" fill="#000" >0</text>
<text x="1071.6" y="465.5" font-size="25.5" font-weight="bold" font-style="normal" text-anchor="middle" fill="#000" >50</text>
<text x="1155.9" y="465.5" font-size="25.5" font-weight="bold" font-style="normal" text-anchor="middle" fill="#000" >100</text>
<text x="1240.2" y="465.5" font-size="25.5" font-weight="bold" font-style="normal" text-anchor="middle" fill="#000" >150</text>
<text x="1324.5" y="465.5" font-size="25.5" font-weight="bold" font-style="normal" text-anchor="middle" fill="#000" >200</text>
<text x="824.3" y="55.0" font-size="26.0" font-weight="bold" font-style="normal" text-anchor="start" fill="#000" >(b)</text>
<text x="889.8" y="55.9" font-size="27.0" font-weight="bold" font-style="normal" text-anchor="start" fill="#000" textLength="170.8" lengthAdjust="spacingAndGlyphs" >KNN-BZT-Mn</text>
<text x="1012.9" y="239.6" font-size="27.0" font-weight="bold" font-style="italic" text-anchor="start" fill="#000" >T</text>
<text x="1026.7" y="246.9" font-size="20.0" font-weight="normal" font-style="normal" text-anchor="start" fill="#000" textLength="31.5" lengthAdjust="spacingAndGlyphs" >R-C</text>
<text x="1065.5" y="239.6" font-size="25.5" font-weight="bold" font-style="normal" text-anchor="start" fill="#000" textLength="77.7" lengthAdjust="spacingAndGlyphs" >= 27°C</text>
<text x="1010.5" y="281.7" font-size="25.5" font-weight="bold" textLength="136.7" lengthAdjust="spacingAndGlyphs">tan<tspan font-style="italic">δ</tspan> =0.<tspan font-style="italic">9</tspan>%</text>
<text x="1012.9" y="318.1" font-size="27.0" font-weight="bold" font-style="italic" text-anchor="start" fill="#000" >ε</text>
<text x="1025.0" y="322.0" font-size="20.0" font-weight="bold" font-style="italic" text-anchor="start" fill="#000" >r</text>
<text x="1038.0" y="318.1" font-size="25.5" font-weight="bold" font-style="normal" text-anchor="start" fill="#000" textLength="75.2" lengthAdjust="spacingAndGlyphs" >= 1432</text>
<text x="1011.3" y="358.5" font-size="25.5" font-weight="bold" font-style="normal" text-anchor="start" fill="#000" textLength="118.9" lengthAdjust="spacingAndGlyphs" >@ 0.1 kHz</text>
<line x1="1183.6" y1="202.9" x2="1211.9" y2="202.9" stroke="#000" stroke-width="2.8" />
<text x="1217.6" y="206.5" font-size="25.0" font-weight="bold" font-style="normal" text-anchor="start" fill="#000" textLength="80.5" lengthAdjust="spacingAndGlyphs" >0.1kHz</text>
<line x1="1183.6" y1="236.9" x2="1211.9" y2="236.9" stroke="#ff0000" stroke-width="2.8" />
<text x="1217.6" y="241.2" font-size="25.0" font-weight="bold" font-style="normal" text-anchor="start" fill="#000" textLength="61.4" lengthAdjust="spacingAndGlyphs" >1kHz</text>
<line x1="1183.6" y1="270.0" x2="1211.9" y2="270.0" stroke="#0000ff" stroke-width="2.8" />
<text x="1217.6" y="274.4" font-size="25.0" font-weight="bold" font-style="normal" text-anchor="start" fill="#000" textLength="75.2" lengthAdjust="spacingAndGlyphs" >10kHz</text>
<line x1="1183.6" y1="302.7" x2="1211.9" y2="302.7" stroke="#00ee00" stroke-width="2.8" />
<text x="1217.6" y="306.8" font-size="25.0" font-weight="bold" font-style="normal" text-anchor="start" fill="#000" textLength="86.5" lengthAdjust="spacingAndGlyphs" >100kHz</text>
<line x1="1183.6" y1="337.5" x2="1211.9" y2="337.5" stroke="#ff00ff" stroke-width="2.8" />
<text x="1217.6" y="340.7" font-size="25.0" font-weight="bold" font-style="normal" text-anchor="start" fill="#000" textLength="100.3" lengthAdjust="spacingAndGlyphs" >1000kHz</text>
<text x="1029.6" y="516.1" font-size="31.0" font-weight="bold" font-style="italic" text-anchor="start" fill="#000" >T</text>
<text x="1057.5" y="516.1" font-size="30.0" font-weight="bold" font-style="normal" text-anchor="start" fill="#000" textLength="57.4" lengthAdjust="spacingAndGlyphs" >(°C)</text>
<text transform="rotate(-90 735.5 235.5)" x="735.5" y="235.5" font-size="37" font-style="italic" font-weight="bold">ε<tspan font-size="20" font-style="normal" dy="4" dx="-3">r</tspan></text>
<text transform="rotate(-90 1412 258.4)" x="1412" y="258.4" font-size="34" font-weight="bold" textLength="72" lengthAdjust="spacingAndGlyphs">tan<tspan font-style="italic" dx="3">δ</tspan></text>
<path d="M1521.8,56.6 L1522.8,61.9 L1523.8,67.3 L1524.8,72.5 L1525.8,77.7 L1526.8,82.9 L1527.8,88.1 L1528.8,93.1 L1529.8,98.2 L1530.8,103.2 L1531.8,108.1 L1532.8,113.0 L1533.8,117.8 L1534.8,122.6 L1535.8,127.4 L1536.8,132.1 L1537.8,136.7 L1538.8,141.3 L1539.8,145.8 L1540.8,150.3 L1541.8,154.7 L1542.8,159.1 L1543.8,163.4 L1544.8,167.7 L1545.8,171.9 L1546.8,176.1 L1547.8,180.2 L1548.8,184.3 L1549.8,188.3 L1550.8,192.2 L1551.8,196.1 L1552.8,200.0 L1553.8,203.8 L1554.8,207.6 L1555.8,211.3 L1556.8,215.0 L1557.8,218.6 L1558.8,222.1 L1559.8,225.7 L1560.8,229.1 L1561.8,232.6 L1562.8,235.9 L1563.8,239.3 L1564.8,242.6 L1565.8,245.8 L1566.8,249.0 L1567.8,252.2 L1568.8,255.3 L1569.8,258.4 L1570.8,261.4 L1571.8,264.4 L1572.8,267.4 L1573.8,270.3 L1574.8,273.2 L1575.8,276.1 L1576.8,278.9 L1577.8,281.6 L1578.8,284.4 L1579.8,287.1 L1580.8,289.7 L1581.8,292.4 L1582.8,295.0 L1583.8,297.6 L1584.8,300.1 L1585.8,302.6 L1586.8,305.1 L1587.8,307.5 L1588.8,309.9 L1589.8,312.3 L1590.8,314.7 L1591.8,317.0 L1592.8,319.3 L1593.8,321.5 L1594.8,323.8 L1595.8,326.0 L1596.8,328.2 L1597.8,330.3 L1598.8,332.4 L1599.8,334.5 L1600.8,336.6 L1601.8,338.6 L1602.8,340.7 L1603.8,342.6 L1604.8,344.6 L1605.8,346.5 L1606.8,348.4 L1607.8,350.3 L1608.8,352.1 L1609.8,353.9 L1610.8,355.7 L1611.8,357.4 L1612.8,359.1 L1613.8,360.8 L1614.8,362.4 L1615.8,364.0 L1616.8,365.6 L1617.8,367.1 L1618.8,368.6 L1619.8,370.0 L1620.8,371.4 L1621.8,372.8 L1622.8,374.1 L1623.8,375.4 L1624.8,376.6 L1625.8,377.7 L1626.8,378.9 L1627.8,379.9 L1628.8,380.9 L1629.8,381.9 L1630.8,382.8 L1631.8,383.6 L1632.8,384.4 L1633.8,385.1 L1634.8,385.7 L1635.8,386.3 L1636.8,386.8 L1643.0,388.5 L1644.0,388.5 L1645.0,388.5 L1646.0,388.5 L1647.0,388.5 L1648.0,388.5 L1649.0,388.5 L1650.0,388.5 L1651.0,388.5 L1652.0,388.5 L1653.0,388.5 L1654.0,388.5 L1655.0,388.5 L1656.0,388.4 L1657.0,388.4 L1658.0,388.4 L1659.0,388.4 L1660.0,388.4 L1661.0,388.4 L1662.0,388.4 L1663.0,388.4 L1664.0,388.4 L1665.0,388.3 L1666.0,388.3 L1667.0,388.3 L1668.0,388.3 L1669.0,388.3 L1670.0,388.2 L1671.0,388.2 L1672.0,388.1 L1673.0,388.0 L1674.0,387.9 L1675.0,387.8 L1676.0,387.7 L1677.0,387.6 L1678.0,387.4 L1679.0,387.3 L1680.0,387.1 L1681.0,386.9 L1682.0,386.7 L1683.0,386.6 L1684.0,386.4 L1685.0,386.2 L1686.0,385.9 L1687.0,385.7 L1688.0,385.5 L1689.0,385.3 L1690.0,385.0 L1691.0,384.8 L1692.0,384.6 L1693.0,384.4 L1694.0,384.1 L1695.0,383.9 L1696.0,383.7 L1697.0,383.4 L1698.0,383.2 L1699.0,383.0 L1700.0,382.8 L1701.0,382.6 L1702.0,382.4 L1703.0,382.2 L1704.0,381.9 L1705.0,381.7 L1706.0,381.5 L1707.0,381.3 L1708.0,381.1 L1709.0,380.8 L1710.0,380.6 L1711.0,380.4 L1712.0,380.2 L1713.0,379.9 L1714.0,379.7 L1715.0,379.4 L1716.0,379.2 L1717.0,379.0 L1718.0,378.7 L1719.0,378.5 L1720.0,378.2 L1721.0,377.9 L1722.0,377.7 L1723.0,377.4 L1724.0,377.2 L1725.0,376.9 L1726.0,376.6 L1727.0,376.3 L1728.0,376.1 L1729.0,375.8 L1730.0,375.5 L1731.0,375.2 L1732.0,374.9 L1733.0,374.7 L1734.0,374.4 L1735.0,374.1 L1736.0,373.8 L1737.0,373.5 L1738.0,373.1 L1739.0,372.8 L1740.0,372.5 L1741.0,372.2 L1742.0,371.9 L1743.0,371.5 L1744.0,371.2 L1745.0,370.8 L1746.0,370.5 L1747.0,370.2 L1748.0,369.8 L1749.0,369.5 L1750.0,369.1 L1751.0,368.7 L1752.0,368.4 L1753.0,368.0 L1754.0,367.6 L1755.0,367.3 L1756.0,366.9 L1757.0,366.5 L1758.0,366.1 L1759.0,365.8 L1760.0,365.4 L1761.0,365.0 L1762.0,364.6 L1763.0,364.2 L1764.0,363.8 L1765.0,363.4 L1766.0,363.0 L1767.0,362.6 L1768.0,362.2 L1769.0,361.8 L1770.0,361.4 L1771.0,361.0 L1772.0,360.6 L1773.0,360.2 L1774.0,359.8 L1775.0,359.4 L1776.0,358.9 L1777.0,358.5 L1778.0,358.1 L1779.0,357.6 L1780.0,357.2 L1781.0,356.8 L1782.0,356.3 L1783.0,355.9 L1784.0,355.4 L1785.0,355.0 L1786.0,354.5 L1787.0,354.0 L1788.0,353.6 L1789.0,353.1 L1790.0,352.6 L1791.0,352.1 L1792.0,351.6 L1793.0,351.2 L1794.0,350.7 L1795.0,350.2 L1796.0,349.7 L1797.0,349.1 L1798.0,348.6 L1799.0,348.1 L1800.0,347.6 L1801.0,347.1 L1802.0,346.5 L1803.0,346.0 L1804.0,345.4 L1805.0,344.9 L1806.0,344.3 L1807.0,343.7 L1808.0,343.2 L1809.0,342.6 L1810.0,342.0 L1811.0,341.4 L1812.0,340.8 L1813.0,340.2 L1814.0,339.6 L1815.0,339.0 L1816.0,338.4 L1817.0,337.8 L1818.0,337.2 L1819.0,336.6 L1820.0,335.9 L1821.0,335.3 L1822.0,334.7 L1823.0,334.0 L1824.0,333.4 L1825.0,332.7 L1826.0,332.1 L1827.0,331.4 L1828.0,330.8 L1829.0,330.1 L1830.0,329.5 L1831.0,328.8 L1832.0,328.2 L1833.0,327.5 L1834.0,326.8 L1835.0,326.1 L1836.0,325.4 L1837.0,324.7 L1838.0,324.0 L1839.0,323.3 L1840.0,322.6 L1841.0,321.9 L1842.0,321.2 L1843.0,320.5 L1844.0,319.7 L1845.0,319.0 L1846.0,318.3 L1847.0,317.5 L1848.0,316.8 L1849.0,316.0 L1850.0,315.3 L1851.0,314.5 L1852.0,313.8 L1853.0,313.0 L1854.0,312.2 L1855.0,311.5 L1856.0,310.7 L1857.0,309.9 L1858.0,309.1 L1859.0,308.3 L1860.0,307.5 L1861.0,306.7 L1862.0,305.9 L1863.0,305.1 L1864.0,304.3 L1865.0,303.5 L1866.0,302.7 L1867.0,301.9 L1868.0,301.0 L1869.0,300.2 L1870.0,299.4 L1871.0,298.6 L1872.0,297.7 L1873.0,296.9 L1874.0,296.1 L1875.0,295.2 L1876.0,294.4 L1877.0,293.6 L1878.0,292.8 L1879.0,291.9 L1880.0,291.1 L1881.0,290.3 L1882.0,289.5 L1883.0,288.7 L1884.0,287.8 L1885.0,287.0 L1886.0,286.2 L1887.0,285.4 L1888.0,284.6 L1889.0,283.8 L1890.0,282.9 L1891.0,282.1 L1892.0,281.3 L1893.0,280.4 L1894.0,279.6 L1895.0,278.7 L1896.0,277.8 L1897.0,277.0 L1898.0,276.1 L1899.0,275.2 L1900.0,274.3 L1901.0,273.4 L1902.0,272.5 L1903.0,271.5 L1904.0,270.6 L1905.0,269.7 L1906.0,268.7 L1907.0,267.8 L1908.0,266.8 L1909.0,265.8 L1910.0,264.9 L1911.0,263.9 L1912.0,262.9 L1913.0,261.9 L1914.0,261.0 L1915.0,260.0 L1916.0,259.0 L1917.0,258.0 L1918.0,256.9 L1919.0,255.9 L1920.0,254.9 L1921.0,253.9 L1922.0,252.9 L1923.0,251.8 L1924.0,250.8 L1925.0,249.8 L1926.0,248.7 L1927.0,247.7 L1928.0,246.6 L1929.0,245.6 L1930.0,244.5 L1931.0,243.4 L1932.0,242.4 L1933.0,241.3 L1934.0,240.2 L1935.0,239.1 L1936.0,238.1 L1937.0,237.0 L1938.0,235.9 L1939.0,234.8 L1940.0,233.7 L1941.0,232.6 L1942.0,231.5 L1943.0,230.4 L1944.0,229.3 L1945.0,228.2 L1946.0,227.0 L1947.0,225.9 L1948.0,224.8 L1949.0,223.7 L1950.0,222.5 L1951.0,221.4 L1952.0,220.2 L1953.0,219.1 L1954.0,217.9 L1955.0,216.7 L1956.0,215.5 L1957.0,214.4 L1958.0,213.2 L1959.0,212.0 L1960.0,210.8 L1961.0,209.6 L1962.0,208.4 L1963.0,207.1 L1964.0,205.9 L1965.0,204.7 L1966.0,203.5 L1967.0,202.3 L1968.0,201.0 L1969.0,199.8 L1970.0,198.5 L1971.0,197.3 L1972.0,196.0 L1973.0,194.8 L1974.0,193.5 L1975.0,192.3 L1976.0,191.0 L1977.0,189.7 L1978.0,188.5 L1979.0,187.2 L1980.0,185.9 L1981.0,184.7 L1982.0,183.4 L1983.0,182.1 L1984.0,180.8 L1985.0,179.5 L1986.0,178.2 L1987.0,176.9 L1988.0,175.6 L1989.0,174.3 L1990.0,173.0 L1991.0,171.7 L1992.0,170.3 L1993.0,169.0 L1994.0,167.7 L1995.0,166.3 L1996.0,165.0 L1997.0,163.6 L1998.0,162.3 L1999.0,160.9 L2000.0,159.6 L2001.0,158.2 L2002.0,156.8 L2003.0,155.5 L2004.0,154.1 L2005.0,152.7 L2006.0,151.4 L2007.0,150.0 L2008.0,148.6 L2009.0,147.2 L2010.0,145.9 L2011.0,144.5 L2012.0,143.1 L2013.0,141.7 L2014.0,140.4 L2015.0,139.0 L2016.0,137.6 L2017.0,136.2 L2018.0,134.9 L2019.0,133.5 L2020.0,132.1 L2021.0,130.8 L2022.0,129.4 L2023.0,128.0 L2024.0,126.6 L2025.0,125.3 L2026.0,123.9 L2027.0,122.5 L2028.0,121.2 L2029.0,119.8 L2030.0,118.4 L2031.0,117.0 L2032.0,115.6 L2033.0,114.3 L2034.0,112.9 L2035.0,111.5 L2036.0,110.1 L2037.0,108.7 L2038.0,107.3 L2039.0,105.9 L2040.0,104.6 L2041.0,103.2 L2042.0,101.8 L2043.0,100.4 L2044.0,99.0" fill="none" stroke="#000" stroke-width="2.6" stroke-linejoin="round" stroke-linecap="round" />
<line x1="1647.6" y1="241.3" x2="1647.6" y2="388.4" stroke="#ff2020" stroke-width="1.5" />
<line x1="1585.6" y1="245.6" x2="1630.8" y2="357.7" stroke="#ff2020" stroke-width="1.2" />
<polygon points="1632.8,362.7 1627.1,355.3 1631.8,353.4" fill="#ff2020"/>
<line x1="1851.0" y1="199.2" x2="1851.0" y2="312.4" stroke="#ff2020" stroke-width="1.5" />
<line x1="1921.5" y1="178.8" x2="1868.3" y2="279.8" stroke="#ff2020" stroke-width="1.2" />
<polygon points="1865.8,284.6 1867.8,275.5 1872.2,277.8" fill="#ff2020"/>
<line x1="1731.2" y1="429.8" x2="1966.0" y2="208.5" stroke="#ff2020" stroke-width="1.3" />
<line x1="1826.8" y1="384.8" x2="1754.7" y2="417.6" stroke="#ff2020" stroke-width="1.2" />
<polygon points="1749.8,419.8 1757.0,413.8 1759.0,418.4" fill="#ff2020"/>
<line x1="1739.8" y1="277.0" x2="1673.8" y2="277.0" stroke="#22ee22" stroke-width="2" />
<polygon points="1668.4,277.0 1677.4,274.5 1677.4,279.5" fill="#22ee22"/>
<line x1="1771.2" y1="275.5" x2="1830.7" y2="275.5" stroke="#22ee22" stroke-width="2" />
<polygon points="1836.1,275.5 1827.1,278.0 1827.1,273.0" fill="#22ee22"/>
<rect x="1521.6" y="11.8" width="522.7" height="420.8" fill="none" stroke="#000" stroke-width="3.0"/>
<line x1="1514.6" y1="385.8" x2="1521.6" y2="385.8" stroke="#000" stroke-width="2.2" />
<line x1="1517.6" y1="339.1" x2="1521.6" y2="339.1" stroke="#000" stroke-width="2.2" />
<line x1="1514.6" y1="292.3" x2="1521.6" y2="292.3" stroke="#000" stroke-width="2.2" />
<line x1="1517.6" y1="245.6" x2="1521.6" y2="245.6" stroke="#000" stroke-width="2.2" />
<line x1="1514.6" y1="198.8" x2="1521.6" y2="198.8" stroke="#000" stroke-width="2.2" />
<line x1="1517.6" y1="152.1" x2="1521.6" y2="152.1" stroke="#000" stroke-width="2.2" />
<line x1="1514.6" y1="105.3" x2="1521.6" y2="105.3" stroke="#000" stroke-width="2.2" />
<line x1="1517.6" y1="58.6" x2="1521.6" y2="58.6" stroke="#000" stroke-width="2.2" />
<line x1="1514.6" y1="11.8" x2="1521.6" y2="11.8" stroke="#000" stroke-width="2.2" />
<line x1="1521.6" y1="432.6" x2="1521.6" y2="439.6" stroke="#000" stroke-width="2.2" />
<line x1="1586.9" y1="432.6" x2="1586.9" y2="436.6" stroke="#000" stroke-width="2.2" />
<line x1="1652.3" y1="432.6" x2="1652.3" y2="439.6" stroke="#000" stroke-width="2.2" />
<line x1="1717.6" y1="432.6" x2="1717.6" y2="436.6" stroke="#000" stroke-width="2.2" />
<line x1="1782.9" y1="432.6" x2="1782.9" y2="439.6" stroke="#000" stroke-width="2.2" />
<line x1="1848.3" y1="432.6" x2="1848.3" y2="436.6" stroke="#000" stroke-width="2.2" />
<line x1="1913.6" y1="432.6" x2="1913.6" y2="439.6" stroke="#000" stroke-width="2.2" />
<line x1="1979.0" y1="432.6" x2="1979.0" y2="436.6" stroke="#000" stroke-width="2.2" />
<line x1="2044.3" y1="432.6" x2="2044.3" y2="439.6" stroke="#000" stroke-width="2.2" />
<text x="1508.0" y="392.8" font-size="24.5" font-weight="normal" font-style="normal" text-anchor="end" fill="#000" textLength="32.6" lengthAdjust="spacingAndGlyphs" >5.8</text>
<text x="1508.0" y="299.3" font-size="24.5" font-weight="normal" font-style="normal" text-anchor="end" fill="#000" textLength="32.6" lengthAdjust="spacingAndGlyphs" >6.0</text>
<text x="1508.0" y="205.8" font-size="24.5" font-weight="normal" font-style="normal" text-anchor="end" fill="#000" textLength="32.6" lengthAdjust="spacingAndGlyphs" >6.2</text>
<text x="1508.0" y="112.3" font-size="24.5" font-weight="normal" font-style="normal" text-anchor="end" fill="#000" textLength="32.6" lengthAdjust="spacingAndGlyphs" >6.4</text>
<text x="1508.0" y="18.8" font-size="24.5" font-weight="normal" font-style="normal" text-anchor="end" fill="#000" textLength="32.6" lengthAdjust="spacingAndGlyphs" >6.6</text>
<text x="1521.6" y="466.5" font-size="25.0" font-weight="normal" font-style="normal" text-anchor="middle" fill="#000" textLength="13.0" lengthAdjust="spacingAndGlyphs" >0</text>
<text x="1652.3" y="466.5" font-size="25.0" font-weight="normal" font-style="normal" text-anchor="middle" fill="#000" textLength="26.5" lengthAdjust="spacingAndGlyphs" >50</text>
<text x="1782.9" y="466.5" font-size="25.0" font-weight="normal" font-style="normal" text-anchor="middle" fill="#000" textLength="39.0" lengthAdjust="spacingAndGlyphs" >100</text>
<text x="1913.6" y="466.5" font-size="25.0" font-weight="normal" font-style="normal" text-anchor="middle" fill="#000" textLength="39.0" lengthAdjust="spacingAndGlyphs" >150</text>
<text x="2044.3" y="466.5" font-size="25.0" font-weight="normal" font-style="normal" text-anchor="middle" fill="#000" textLength="39.0" lengthAdjust="spacingAndGlyphs" >200</text>
<text x="1743.0" y="511.8" font-size="33.0" font-weight="bold" font-style="italic" text-anchor="start" fill="#000" >T</text>
<text x="1772.0" y="511.8" font-size="31.0" font-weight="bold" font-style="normal" text-anchor="start" fill="#000" textLength="56.6" lengthAdjust="spacingAndGlyphs" >(°C)</text>
<text transform="rotate(-90 1458.5 252)" x="1458.5" y="252" font-size="34" font-weight="bold" textLength="82" lengthAdjust="spacingAndGlyphs">10<tspan font-size="20" dy="-14">4</tspan><tspan dy="14" font-weight="normal">/</tspan><tspan font-style="italic">ε</tspan><tspan font-size="20" font-style="italic" dy="5">r</tspan></text>
<text x="1530.5" y="39.8" font-size="22.5" font-weight="bold" font-style="normal" text-anchor="start" fill="#000" textLength="26.2" lengthAdjust="spacingAndGlyphs" >(c)</text>
<text x="1614.2" y="100.5" font-size="26.5" font-weight="normal" font-style="normal" text-anchor="start" fill="#000" textLength="116.4" lengthAdjust="spacingAndGlyphs" >KNN-BZT</text>
<text x="1530.0" y="230.0" font-size="27.0" font-weight="normal" font-style="italic" text-anchor="start" fill="#1010ff" >T</text>
<text x="1542.8" y="237.0" font-size="18.0" font-weight="normal" font-style="normal" text-anchor="start" fill="#1010ff" >m</text>
<text x="1558.5" y="230.0" font-size="27.0" font-weight="normal" font-style="normal" text-anchor="start" fill="#1010ff" textLength="99.9" lengthAdjust="spacingAndGlyphs" >=48.3 °C</text>
<text x="1671.3" y="228.3" font-size="27.0" font-weight="normal" font-style="normal" text-anchor="start" fill="#118811" >Δ</text>
<text x="1691.3" y="228.3" font-size="27.0" font-weight="normal" font-style="italic" text-anchor="start" fill="#118811" >T</text>
<text x="1704.0" y="235.3" font-size="18.0" font-weight="normal" font-style="normal" text-anchor="start" fill="#118811" >m</text>
<text x="1719.8" y="228.3" font-size="27.0" font-weight="normal" font-style="normal" text-anchor="start" fill="#118811" textLength="107.0" lengthAdjust="spacingAndGlyphs" >= 78.2 °C</text>
<text x="1852.8" y="167.6" font-size="27.0" font-weight="normal" font-style="italic" text-anchor="start" fill="#1010ff" >T</text>
<text x="1865.8" y="173.2" font-size="18.0" font-weight="normal" font-style="normal" text-anchor="start" fill="#1010ff" >B</text>
<text x="1880.6" y="167.6" font-size="27.0" font-weight="normal" font-style="normal" text-anchor="start" fill="#1010ff" textLength="104.0" lengthAdjust="spacingAndGlyphs" >=126.5°C</text>
<text x="1825.0" y="371.8" font-size="27.0" font-weight="normal" font-style="italic" text-anchor="start" fill="#1010ff" >T</text>
<text x="1836.0" y="379.2" font-size="18.0" font-weight="normal" font-style="normal" text-anchor="start" fill="#1010ff" textLength="35.0" lengthAdjust="spacingAndGlyphs" >CW</text>
<text x="1871.4" y="371.8" font-size="27.0" font-weight="normal" font-style="normal" text-anchor="start" fill="#1010ff" textLength="76.1" lengthAdjust="spacingAndGlyphs" >=80 °C</text>
<path d="M104.1,618.7 L105.1,621.6 L106.1,624.7 L107.1,627.8 L108.1,631.1 L109.1,634.4 L110.1,637.8 L111.1,641.2 L112.1,644.7 L113.1,648.2 L114.1,651.8 L115.1,655.4 L116.1,659.1 L117.1,662.7 L118.1,666.4 L119.1,670.2 L120.1,673.9 L121.1,677.6 L122.1,681.4 L123.1,685.2 L124.1,688.9 L125.1,692.7 L126.1,696.4 L127.1,700.2 L128.1,703.9 L129.1,707.6 L130.1,711.3 L131.1,715.0 L132.1,718.6 L133.1,722.3 L134.1,725.9 L135.1,729.4 L136.1,733.0 L137.1,736.5 L138.1,739.9 L139.1,743.4 L140.1,746.8 L141.1,750.1 L142.1,753.5 L143.1,756.7 L144.1,760.0 L145.1,763.2 L146.1,766.3 L147.1,769.4 L148.1,772.5 L149.1,775.5 L150.1,778.4 L151.1,781.4 L152.1,784.2 L153.1,787.1 L154.1,789.9 L155.1,792.6 L156.1,795.3 L157.1,797.9 L158.1,800.5 L159.1,803.1 L160.1,805.6 L161.1,808.1 L162.1,810.5 L163.1,812.9 L164.1,815.2 L165.1,817.5 L166.1,819.8 L167.1,822.0 L168.1,824.2 L169.1,826.3 L170.1,828.4 L171.1,830.5 L172.1,832.5 L173.1,834.5 L174.1,836.4 L175.1,838.3 L176.1,840.2 L177.1,842.1 L178.1,843.9 L179.1,845.7 L180.1,847.5 L181.1,849.2 L182.1,850.9 L183.1,852.6 L184.1,854.2 L185.1,855.9 L186.1,857.5 L187.1,859.1 L188.1,860.6 L189.1,862.2 L190.1,863.7 L191.1,865.2 L192.1,866.7 L193.1,868.2 L194.1,869.6 L195.1,871.0 L196.1,872.5 L197.1,873.9 L198.1,875.2 L199.1,876.6 L200.1,878.0 L201.1,879.3 L202.1,880.7 L203.1,882.0 L204.1,883.3 L205.1,884.6 L206.1,885.8 L207.1,887.1 L208.1,888.3 L209.1,889.6 L210.1,890.8 L211.1,892.0 L212.1,893.2 L213.1,894.4 L214.1,895.5 L215.1,896.7 L216.1,897.8 L217.1,898.9 L218.1,900.0 L219.1,901.0 L220.1,902.1 L221.1,903.1 L222.1,904.1 L223.1,905.0 L224.1,906.0 L225.1,906.9 L226.1,907.7 L227.1,908.5 L228.1,909.3 L229.1,910.1 L230.1,910.8 L231.1,911.4 L232.1,912.0 L233.1,912.6 L234.1,913.1 L235.1,913.5 L236.1,913.9 L237.1,914.2 L245.6,914.5 L246.6,914.5 L247.6,914.6 L248.6,914.6 L249.6,914.6 L250.6,914.7 L251.6,914.7 L252.6,914.7 L253.6,914.7 L254.6,914.8 L255.6,914.8 L256.6,914.8 L257.6,914.8 L258.6,914.8 L259.6,914.8 L260.6,914.8 L261.6,914.8 L262.6,914.8 L263.6,914.8 L264.6,914.7 L265.6,914.7 L266.6,914.7 L267.6,914.7 L268.6,914.6 L269.6,914.6 L270.6,914.6 L271.6,914.5 L272.6,914.5 L273.6,914.5 L274.6,914.4 L275.6,914.4 L276.6,914.3 L277.6,914.2 L278.6,914.2 L279.6,914.1 L280.6,914.0 L281.6,913.9 L282.6,913.7 L283.6,913.6 L284.6,913.5 L285.6,913.3 L286.6,913.2 L287.6,913.0 L288.6,912.9 L289.6,912.7 L290.6,912.5 L291.6,912.4 L292.6,912.2 L293.6,912.0 L294.6,911.8 L295.6,911.6 L296.6,911.4 L297.6,911.2 L298.6,911.0 L299.6,910.8 L300.6,910.6 L301.6,910.4 L302.6,910.2 L303.6,910.0 L304.6,909.8 L305.6,909.6 L306.6,909.4 L307.6,909.2 L308.6,909.1 L309.6,908.9 L310.6,908.7 L311.6,908.5 L312.6,908.3 L313.6,908.2 L314.6,908.0 L315.6,907.8 L316.6,907.6 L317.6,907.4 L318.6,907.3 L319.6,907.1 L320.6,906.9 L321.6,906.7 L322.6,906.5 L323.6,906.3 L324.6,906.1 L325.6,906.0 L326.6,905.8 L327.6,905.6 L328.6,905.4 L329.6,905.2 L330.6,905.0 L331.6,904.8 L332.6,904.6 L333.6,904.4 L334.6,904.2 L335.6,904.0 L336.6,903.8 L337.6,903.6 L338.6,903.3 L339.6,903.1 L340.6,902.9 L341.6,902.7 L342.6,902.5 L343.6,902.3 L344.6,902.0 L345.6,901.8 L346.6,901.6 L347.6,901.3 L348.6,901.1 L349.6,900.9 L350.6,900.6 L351.6,900.4 L352.6,900.1 L353.6,899.9 L354.6,899.6 L355.6,899.4 L356.6,899.1 L357.6,898.8 L358.6,898.6 L359.6,898.3 L360.6,898.0 L361.6,897.7 L362.6,897.4 L363.6,897.1 L364.6,896.9 L365.6,896.6 L366.6,896.3 L367.6,896.0 L368.6,895.7 L369.6,895.4 L370.6,895.0 L371.6,894.7 L372.6,894.4 L373.6,894.1 L374.6,893.8 L375.6,893.5 L376.6,893.2 L377.6,892.8 L378.6,892.5 L379.6,892.2 L380.6,891.9 L381.6,891.5 L382.6,891.2 L383.6,890.9 L384.6,890.6 L385.6,890.2 L386.6,889.9 L387.6,889.6 L388.6,889.2 L389.6,888.9 L390.6,888.6 L391.6,888.2 L392.6,887.9 L393.6,887.6 L394.6,887.2 L395.6,886.9 L396.6,886.5 L397.6,886.2 L398.6,885.8 L399.6,885.5 L400.6,885.1 L401.6,884.8 L402.6,884.4 L403.6,884.1 L404.6,883.7 L405.6,883.3 L406.6,883.0 L407.6,882.6 L408.6,882.2 L409.6,881.9 L410.6,881.5 L411.6,881.1 L412.6,880.7 L413.6,880.4 L414.6,880.0 L415.6,879.6 L416.6,879.2 L417.6,878.8 L418.6,878.4 L419.6,878.0 L420.6,877.6 L421.6,877.2 L422.6,876.8 L423.6,876.4 L424.6,876.0 L425.6,875.6 L426.6,875.2 L427.6,874.7 L428.6,874.3 L429.6,873.9 L430.6,873.4 L431.6,873.0 L432.6,872.6 L433.6,872.1 L434.6,871.7 L435.6,871.2 L436.6,870.8 L437.6,870.3 L438.6,869.9 L439.6,869.4 L440.6,868.9 L441.6,868.4 L442.6,868.0 L443.6,867.5 L444.6,867.0 L445.6,866.5 L446.6,866.0 L447.6,865.5 L448.6,865.0 L449.6,864.5 L450.6,864.0 L451.6,863.5 L452.6,863.0 L453.6,862.5 L454.6,862.0 L455.6,861.5 L456.6,860.9 L457.6,860.4 L458.6,859.9 L459.6,859.3 L460.6,858.8 L461.6,858.3 L462.6,857.7 L463.6,857.2 L464.6,856.7 L465.6,856.1 L466.6,855.6 L467.6,855.0 L468.6,854.5 L469.6,853.9 L470.6,853.3 L471.6,852.8 L472.6,852.2 L473.6,851.6 L474.6,851.1 L475.6,850.5 L476.6,849.9 L477.6,849.3 L478.6,848.7 L479.6,848.1 L480.6,847.5 L481.6,846.9 L482.6,846.3 L483.6,845.7 L484.6,845.1 L485.6,844.5 L486.6,843.9 L487.6,843.3 L488.6,842.6 L489.6,842.0 L490.6,841.4 L491.6,840.8 L492.6,840.1 L493.6,839.5 L494.6,838.8 L495.6,838.2 L496.6,837.5 L497.6,836.9 L498.6,836.2 L499.6,835.6 L500.6,834.9 L501.6,834.3 L502.6,833.6 L503.6,833.0 L504.6,832.3 L505.6,831.6 L506.6,831.0 L507.6,830.3 L508.6,829.6 L509.6,829.0 L510.6,828.3 L511.6,827.6 L512.6,826.9 L513.6,826.3 L514.6,825.6 L515.6,824.9 L516.6,824.2 L517.6,823.5 L518.6,822.8 L519.6,822.1 L520.6,821.4 L521.6,820.7 L522.6,820.0 L523.6,819.3 L524.6,818.6 L525.6,817.9 L526.6,817.1 L527.6,816.4 L528.6,815.7 L529.6,815.0 L530.6,814.2 L531.6,813.5 L532.6,812.8 L533.6,812.1 L534.6,811.3 L535.6,810.6 L536.6,809.8 L537.6,809.1 L538.6,808.3 L539.6,807.6 L540.6,806.8 L541.6,806.1 L542.6,805.3 L543.6,804.6 L544.6,803.8 L545.6,803.0 L546.6,802.3 L547.6,801.5 L548.6,800.7 L549.6,800.0 L550.6,799.2 L551.6,798.4 L552.6,797.6 L553.6,796.9 L554.6,796.1 L555.6,795.3 L556.6,794.5 L557.6,793.7 L558.6,792.9 L559.6,792.1 L560.6,791.3 L561.6,790.4 L562.6,789.6 L563.6,788.8 L564.6,788.0 L565.6,787.2 L566.6,786.3 L567.6,785.5 L568.6,784.7 L569.6,783.9 L570.6,783.0 L571.6,782.2 L572.6,781.4 L573.6,780.5 L574.6,779.7 L575.6,778.8 L576.6,778.0 L577.6,777.1 L578.6,776.3 L579.6,775.4 L580.6,774.6 L581.6,773.7 L582.6,772.9 L583.6,772.0 L584.6,771.2 L585.6,770.3 L586.6,769.5 L587.6,768.6 L588.6,767.8 L589.6,766.9 L590.6,766.0 L591.6,765.2 L592.6,764.3 L593.6,763.5 L594.6,762.6 L595.6,761.7 L596.6,760.8 L597.6,760.0 L598.6,759.1 L599.6,758.2 L600.6,757.3 L601.6,756.5 L602.6,755.6 L603.6,754.7 L604.6,753.8 L605.6,752.9 L606.6,752.0 L607.6,751.2 L608.6,750.3 L609.6,749.4 L610.6,748.5 L611.6,747.6 L612.6,746.7 L613.6,745.8 L614.6,744.9 L615.6,744.0 L616.6,743.1 L617.6,742.2 L618.6,741.2 L619.6,740.3 L620.6,739.4 L621.6,738.5 L622.6,737.6" fill="none" stroke="#000" stroke-width="2.6" stroke-linejoin="round" stroke-linecap="round" />
<line x1="249.8" y1="747.4" x2="249.8" y2="914.4" stroke="#ff2020" stroke-width="1.5" />
<line x1="195.2" y1="802.5" x2="236.9" y2="897.5" stroke="#ff2020" stroke-width="1.2" />
<polygon points="239.1,902.4 233.2,895.2 237.8,893.2" fill="#ff2020"/>
<line x1="511.2" y1="740.0" x2="511.2" y2="828.4" stroke="#ff2020" stroke-width="1.5" />
<line x1="557.5" y1="716.0" x2="520.7" y2="811.4" stroke="#ff2020" stroke-width="1.2" />
<polygon points="518.8,816.4 519.7,807.1 524.4,808.9" fill="#ff2020"/>
<line x1="362.2" y1="953.5" x2="624.3" y2="741.1" stroke="#ff2020" stroke-width="1.3" />
<line x1="435.9" y1="924.3" x2="381.0" y2="944.7" stroke="#ff2020" stroke-width="1.2" />
<polygon points="375.9,946.6 383.5,941.1 385.2,945.8" fill="#ff2020"/>
<line x1="356.3" y1="804.7" x2="268.5" y2="804.7" stroke="#22ee22" stroke-width="2" />
<polygon points="263.1,804.7 272.1,802.2 272.1,807.2" fill="#22ee22"/>
<line x1="406.8" y1="805.1" x2="488.7" y2="805.1" stroke="#22ee22" stroke-width="2" />
<polygon points="494.1,805.1 485.1,807.6 485.1,802.6" fill="#22ee22"/>
<rect x="102.8" y="532.4" width="521.5" height="421.1" fill="none" stroke="#000" stroke-width="3.0"/>
<line x1="95.8" y1="893.4" x2="102.8" y2="893.4" stroke="#000" stroke-width="2.2" />
<line x1="98.8" y1="833.2" x2="102.8" y2="833.2" stroke="#000" stroke-width="2.2" />
<line x1="95.8" y1="773.0" x2="102.8" y2="773.0" stroke="#000" stroke-width="2.2" />
<line x1="98.8" y1="712.9" x2="102.8" y2="712.9" stroke="#000" stroke-width="2.2" />
<line x1="95.8" y1="652.7" x2="102.8" y2="652.7" stroke="#000" stroke-width="2.2" />
<line x1="98.8" y1="592.6" x2="102.8" y2="592.6" stroke="#000" stroke-width="2.2" />
<line x1="95.8" y1="532.4" x2="102.8" y2="532.4" stroke="#000" stroke-width="2.2" />
<line x1="135.2" y1="953.5" x2="135.2" y2="960.5" stroke="#000" stroke-width="2.2" />
<line x1="216.7" y1="953.5" x2="216.7" y2="957.5" stroke="#000" stroke-width="2.2" />
<line x1="298.2" y1="953.5" x2="298.2" y2="960.5" stroke="#000" stroke-width="2.2" />
<line x1="379.8" y1="953.5" x2="379.8" y2="957.5" stroke="#000" stroke-width="2.2" />
<line x1="461.3" y1="953.5" x2="461.3" y2="960.5" stroke="#000" stroke-width="2.2" />
<line x1="542.8" y1="953.5" x2="542.8" y2="957.5" stroke="#000" stroke-width="2.2" />
<line x1="624.3" y1="953.5" x2="624.3" y2="960.5" stroke="#000" stroke-width="2.2" />
<text x="88.4" y="900.4" font-size="24.5" font-weight="normal" font-style="normal" text-anchor="end" fill="#000" textLength="33.8" lengthAdjust="spacingAndGlyphs" >6.6</text>
<text x="88.4" y="780.0" font-size="24.5" font-weight="normal" font-style="normal" text-anchor="end" fill="#000" textLength="33.8" lengthAdjust="spacingAndGlyphs" >6.8</text>
<text x="88.4" y="659.7" font-size="24.5" font-weight="normal" font-style="normal" text-anchor="end" fill="#000" textLength="33.8" lengthAdjust="spacingAndGlyphs" >7.0</text>
<text x="88.4" y="539.4" font-size="24.5" font-weight="normal" font-style="normal" text-anchor="end" fill="#000" textLength="33.8" lengthAdjust="spacingAndGlyphs" >7.2</text>
<text x="135.2" y="988.0" font-size="25.0" font-weight="normal" font-style="normal" text-anchor="middle" fill="#000" textLength="26.5" lengthAdjust="spacingAndGlyphs" >50</text>
<text x="298.2" y="988.0" font-size="25.0" font-weight="normal" font-style="normal" text-anchor="middle" fill="#000" textLength="39.0" lengthAdjust="spacingAndGlyphs" >100</text>
<text x="461.3" y="988.0" font-size="25.0" font-weight="normal" font-style="normal" text-anchor="middle" fill="#000" textLength="39.0" lengthAdjust="spacingAndGlyphs" >150</text>
<text x="624.3" y="988.0" font-size="25.0" font-weight="normal" font-style="normal" text-anchor="middle" fill="#000" textLength="39.0" lengthAdjust="spacingAndGlyphs" >200</text>
<text x="326.0" y="1035.4" font-size="33.0" font-weight="bold" font-style="italic" text-anchor="start" fill="#000" >T</text>
<text x="352.0" y="1035.4" font-size="31.0" font-weight="bold" font-style="normal" text-anchor="start" fill="#000" textLength="55.0" lengthAdjust="spacingAndGlyphs" >(°C)</text>
<text transform="rotate(-90 37 774.3)" x="37" y="774.3" font-size="34" font-weight="bold" textLength="83" lengthAdjust="spacingAndGlyphs">10<tspan font-size="20" dy="-14">4</tspan><tspan dy="14" font-weight="normal">/</tspan><tspan font-style="italic">ε</tspan><tspan font-size="20" font-style="italic" dy="5">r</tspan></text>
<text x="122.0" y="573.2" font-size="23.0" font-weight="bold" font-style="normal" text-anchor="start" fill="#000" textLength="31.2" lengthAdjust="spacingAndGlyphs" >(d)</text>
<text x="176.9" y="594.8" font-size="25.0" font-weight="normal" font-style="normal" text-anchor="start" fill="#000" textLength="164.2" lengthAdjust="spacingAndGlyphs" >KNN-BZT-Mn</text>
<text x="123.3" y="793.2" font-size="27.0" font-weight="normal" font-style="italic" text-anchor="start" fill="#1010ff" >T</text>
<text x="135.3" y="802.5" font-size="18.0" font-weight="normal" font-style="normal" text-anchor="start" fill="#1010ff" >m</text>
<text x="149.9" y="793.2" font-size="27.0" font-weight="normal" font-style="normal" text-anchor="start" fill="#1010ff" textLength="99.9" lengthAdjust="spacingAndGlyphs" >=85.4 °C</text>
<text x="298.8" y="741.7" font-size="27.0" font-weight="normal" font-style="normal" text-anchor="start" fill="#118811" >Δ</text>
<text x="316.0" y="741.7" font-size="27.0" font-weight="normal" font-style="italic" text-anchor="start" fill="#118811" >T</text>
<text x="331.4" y="748.7" font-size="18.0" font-weight="normal" font-style="normal" text-anchor="start" fill="#118811" >m</text>
<text x="346.8" y="741.7" font-size="27.0" font-weight="normal" font-style="normal" text-anchor="start" fill="#118811" textLength="107.9" lengthAdjust="spacingAndGlyphs" >= 80.2 °C</text>
<text x="482.1" y="682.8" font-size="27.0" font-weight="normal" font-style="italic" text-anchor="start" fill="#1010ff" >T</text>
<text x="494.1" y="689.7" font-size="18.0" font-weight="normal" font-style="normal" text-anchor="start" fill="#1010ff" >B</text>
<text x="507.8" y="682.8" font-size="27.0" font-weight="normal" font-style="normal" text-anchor="start" fill="#1010ff" textLength="106.2" lengthAdjust="spacingAndGlyphs" >=165.6°C</text>
<text x="442.7" y="917.5" font-size="27.0" font-weight="normal" font-style="italic" text-anchor="start" fill="#1010ff" >T</text>
<text x="452.5" y="924.3" font-size="18.0" font-weight="normal" font-style="normal" text-anchor="start" fill="#1010ff" textLength="33.0" lengthAdjust="spacingAndGlyphs" >CW</text>
<text x="487.3" y="917.5" font-size="27.0" font-weight="normal" font-style="normal" text-anchor="start" fill="#1010ff" textLength="111.3" lengthAdjust="spacingAndGlyphs" >=119.8 °C</text>
<line x1="889.9" y1="922.6" x2="1252.0" y2="677.3" stroke="#ff0000" stroke-width="4.4" />
<circle cx="904.2" cy="922.6" r="4.6" fill="#4a4a4a"/>
<circle cx="952.7" cy="892.6" r="4.6" fill="#4a4a4a"/>
<circle cx="994.1" cy="861.2" r="4.6" fill="#4a4a4a"/>
<circle cx="1054.0" cy="805.6" r="4.6" fill="#4a4a4a"/>
<circle cx="1068.3" cy="794.2" r="4.6" fill="#4a4a4a"/>
<circle cx="1079.7" cy="787.0" r="4.6" fill="#4a4a4a"/>
<circle cx="1091.1" cy="778.5" r="4.6" fill="#4a4a4a"/>
<circle cx="1101.1" cy="769.9" r="4.6" fill="#4a4a4a"/>
<circle cx="1109.7" cy="764.2" r="4.6" fill="#4a4a4a"/>
<circle cx="1116.8" cy="758.5" r="4.6" fill="#4a4a4a"/>
<circle cx="1122.0" cy="754.6" r="4.6" fill="#4a4a4a"/>
<circle cx="1127.0" cy="751.3" r="4.6" fill="#4a4a4a"/>
<circle cx="1132.0" cy="748.1" r="4.6" fill="#4a4a4a"/>
<circle cx="1137.0" cy="744.8" r="4.6" fill="#4a4a4a"/>
<circle cx="1142.0" cy="741.5" r="4.6" fill="#4a4a4a"/>
<circle cx="1147.0" cy="738.3" r="4.6" fill="#4a4a4a"/>
<circle cx="1150.0" cy="736.3" r="4.6" fill="#4a4a4a"/>
<circle cx="1153.0" cy="734.3" r="4.6" fill="#4a4a4a"/>
<circle cx="1156.0" cy="732.4" r="4.6" fill="#4a4a4a"/>
<circle cx="1159.0" cy="730.7" r="4.6" fill="#4a4a4a"/>
<circle cx="1162.0" cy="729.0" r="4.6" fill="#4a4a4a"/>
<circle cx="1165.0" cy="727.4" r="4.6" fill="#4a4a4a"/>
<circle cx="1168.0" cy="725.7" r="4.6" fill="#4a4a4a"/>
<circle cx="1171.0" cy="724.0" r="4.6" fill="#4a4a4a"/>
<circle cx="1174.0" cy="722.4" r="4.6" fill="#4a4a4a"/>
<circle cx="1177.0" cy="720.7" r="4.6" fill="#4a4a4a"/>
<circle cx="1180.0" cy="719.0" r="4.6" fill="#4a4a4a"/>
<circle cx="1183.0" cy="717.3" r="4.6" fill="#4a4a4a"/>
<circle cx="1186.0" cy="715.7" r="4.6" fill="#4a4a4a"/>
<circle cx="1189.0" cy="714.0" r="4.6" fill="#4a4a4a"/>
<circle cx="1192.0" cy="712.3" r="4.6" fill="#4a4a4a"/>
<circle cx="1195.0" cy="710.7" r="4.6" fill="#4a4a4a"/>
<circle cx="1198.0" cy="709.0" r="4.6" fill="#4a4a4a"/>
<circle cx="1201.0" cy="707.3" r="4.6" fill="#4a4a4a"/>
<circle cx="1204.0" cy="705.7" r="4.6" fill="#4a4a4a"/>
<circle cx="1207.0" cy="704.2" r="4.6" fill="#4a4a4a"/>
<circle cx="1210.0" cy="702.6" r="4.6" fill="#4a4a4a"/>
<circle cx="1213.0" cy="701.0" r="4.6" fill="#4a4a4a"/>
<circle cx="1216.0" cy="699.5" r="4.6" fill="#4a4a4a"/>
<circle cx="1219.0" cy="697.9" r="4.6" fill="#4a4a4a"/>
<circle cx="1222.0" cy="696.3" r="4.6" fill="#4a4a4a"/>
<circle cx="1225.0" cy="694.8" r="4.6" fill="#4a4a4a"/>
<circle cx="1228.0" cy="693.2" r="4.6" fill="#4a4a4a"/>
<circle cx="1231.0" cy="691.6" r="4.6" fill="#4a4a4a"/>
<circle cx="1234.0" cy="690.0" r="4.6" fill="#4a4a4a"/>
<circle cx="1237.0" cy="688.5" r="4.6" fill="#4a4a4a"/>
<circle cx="1240.0" cy="686.9" r="4.6" fill="#4a4a4a"/>
<circle cx="1243.0" cy="685.3" r="4.6" fill="#4a4a4a"/>
<circle cx="1246.0" cy="683.8" r="4.6" fill="#4a4a4a"/>
<circle cx="1249.0" cy="682.2" r="4.6" fill="#4a4a4a"/>
<circle cx="1252.0" cy="680.6" r="4.6" fill="#4a4a4a"/>
<circle cx="1255.0" cy="679.1" r="4.6" fill="#4a4a4a"/>
<circle cx="1258.0" cy="677.7" r="4.6" fill="#4a4a4a"/>
<circle cx="1261.0" cy="676.3" r="4.6" fill="#4a4a4a"/>
<circle cx="1264.0" cy="674.9" r="4.6" fill="#4a4a4a"/>
<circle cx="1267.0" cy="673.5" r="4.6" fill="#4a4a4a"/>
<circle cx="1270.0" cy="672.1" r="4.6" fill="#4a4a4a"/>
<circle cx="1273.0" cy="670.7" r="4.6" fill="#4a4a4a"/>
<circle cx="1274.0" cy="670.2" r="4.6" fill="#4a4a4a"/>
<circle cx="889.9" cy="905.5" r="4.3" fill="#ff3030"/>
<circle cx="956.4" cy="882.6" r="4.3" fill="#ff3030"/>
<circle cx="991.2" cy="861.2" r="4.3" fill="#ff3030"/>
<circle cx="1018.3" cy="844.1" r="4.3" fill="#ff3030"/>
<circle cx="1037.5" cy="828.4" r="4.3" fill="#ff3030"/>
<circle cx="1054.0" cy="816.4" r="4.3" fill="#ff3030"/>
<circle cx="1068.3" cy="805.6" r="4.3" fill="#ff3030"/>
<circle cx="1081.1" cy="797.0" r="4.3" fill="#ff3030"/>
<circle cx="1092.5" cy="788.4" r="4.3" fill="#ff3030"/>
<circle cx="1102.5" cy="781.3" r="4.3" fill="#ff3030"/>
<circle cx="1106.0" cy="780.0" r="4.3" fill="#ff3030"/>
<circle cx="1108.7" cy="778.2" r="4.3" fill="#ff3030"/>
<circle cx="1111.3" cy="776.3" r="4.3" fill="#ff3030"/>
<circle cx="1114.0" cy="774.4" r="4.3" fill="#ff3030"/>
<circle cx="1116.7" cy="772.5" r="4.3" fill="#ff3030"/>
<circle cx="1119.3" cy="770.7" r="4.3" fill="#ff3030"/>
<circle cx="1122.0" cy="768.8" r="4.3" fill="#ff3030"/>
<circle cx="1124.7" cy="766.9" r="4.3" fill="#ff3030"/>
<circle cx="1127.3" cy="765.0" r="4.3" fill="#ff3030"/>
<circle cx="1130.0" cy="763.1" r="4.3" fill="#ff3030"/>
<circle cx="1132.7" cy="761.3" r="4.3" fill="#ff3030"/>
<circle cx="1135.3" cy="759.4" r="4.3" fill="#ff3030"/>
<circle cx="1138.0" cy="757.5" r="4.3" fill="#ff3030"/>
<circle cx="1140.7" cy="755.6" r="4.3" fill="#ff3030"/>
<circle cx="1143.3" cy="753.8" r="4.3" fill="#ff3030"/>
<circle cx="1146.0" cy="751.9" r="4.3" fill="#ff3030"/>
<circle cx="1148.7" cy="750.0" r="4.3" fill="#ff3030"/>
<circle cx="1151.3" cy="748.1" r="4.3" fill="#ff3030"/>
<circle cx="1154.0" cy="746.3" r="4.3" fill="#ff3030"/>
<circle cx="1156.7" cy="744.4" r="4.3" fill="#ff3030"/>
<circle cx="1159.3" cy="742.5" r="4.3" fill="#ff3030"/>
<circle cx="1162.0" cy="740.6" r="4.3" fill="#ff3030"/>
<circle cx="1164.7" cy="738.8" r="4.3" fill="#ff3030"/>
<circle cx="1167.3" cy="736.9" r="4.3" fill="#ff3030"/>
<circle cx="1170.0" cy="735.0" r="4.3" fill="#ff3030"/>
<circle cx="1172.7" cy="733.1" r="4.3" fill="#ff3030"/>
<circle cx="1175.3" cy="731.2" r="4.3" fill="#ff3030"/>
<circle cx="1178.0" cy="729.4" r="4.3" fill="#ff3030"/>
<circle cx="1180.7" cy="727.5" r="4.3" fill="#ff3030"/>
<circle cx="1183.3" cy="725.6" r="4.3" fill="#ff3030"/>
<circle cx="1186.0" cy="723.7" r="4.3" fill="#ff3030"/>
<circle cx="1188.7" cy="721.9" r="4.3" fill="#ff3030"/>
<circle cx="1191.3" cy="720.0" r="4.3" fill="#ff3030"/>
<circle cx="1194.0" cy="718.1" r="4.3" fill="#ff3030"/>
<circle cx="1196.7" cy="716.2" r="4.3" fill="#ff3030"/>
<circle cx="1199.3" cy="714.4" r="4.3" fill="#ff3030"/>
<circle cx="1202.0" cy="712.5" r="4.3" fill="#ff3030"/>
<circle cx="1204.7" cy="710.6" r="4.3" fill="#ff3030"/>
<circle cx="1207.3" cy="708.7" r="4.3" fill="#ff3030"/>
<circle cx="1210.0" cy="706.8" r="4.3" fill="#ff3030"/>
<circle cx="1212.7" cy="705.0" r="4.3" fill="#ff3030"/>
<circle cx="1215.3" cy="703.1" r="4.3" fill="#ff3030"/>
<circle cx="1218.0" cy="701.2" r="4.3" fill="#ff3030"/>
<circle cx="1220.7" cy="699.3" r="4.3" fill="#ff3030"/>
<circle cx="1223.3" cy="697.5" r="4.3" fill="#ff3030"/>
<circle cx="1226.0" cy="695.6" r="4.3" fill="#ff3030"/>
<circle cx="1228.7" cy="693.7" r="4.3" fill="#ff3030"/>
<circle cx="1231.3" cy="691.8" r="4.3" fill="#ff3030"/>
<circle cx="1234.0" cy="690.0" r="4.3" fill="#ff3030"/>
<circle cx="1236.7" cy="688.1" r="4.3" fill="#ff3030"/>
<circle cx="1239.3" cy="686.2" r="4.3" fill="#ff3030"/>
<circle cx="1242.0" cy="684.3" r="4.3" fill="#ff3030"/>
<circle cx="1244.7" cy="682.5" r="4.3" fill="#ff3030"/>
<circle cx="1247.3" cy="680.6" r="4.3" fill="#ff3030"/>
<circle cx="1250.0" cy="678.7" r="4.3" fill="#ff3030"/>
<line x1="902.8" y1="906.6" x2="1262.0" y2="671.8" stroke="#000" stroke-width="3.6" />
<line x1="1252.0" y1="677.3" x2="1200.0" y2="712.5" stroke="#ff0000" stroke-width="2.5" />
<rect x="826.0" y="547.9" width="506.5" height="406.3" fill="none" stroke="#000" stroke-width="3.6"/>
<line x1="822.0" y1="920.4" x2="826.0" y2="920.4" stroke="#000" stroke-width="3.0" />
<line x1="818.0" y1="886.5" x2="826.0" y2="886.5" stroke="#000" stroke-width="3.0" />
<line x1="822.0" y1="852.6" x2="826.0" y2="852.6" stroke="#000" stroke-width="3.0" />
<line x1="818.0" y1="818.8" x2="826.0" y2="818.8" stroke="#000" stroke-width="3.0" />
<line x1="822.0" y1="784.9" x2="826.0" y2="784.9" stroke="#000" stroke-width="3.0" />
<line x1="818.0" y1="751.1" x2="826.0" y2="751.1" stroke="#000" stroke-width="3.0" />
<line x1="822.0" y1="717.2" x2="826.0" y2="717.2" stroke="#000" stroke-width="3.0" />
<line x1="818.0" y1="683.3" x2="826.0" y2="683.3" stroke="#000" stroke-width="3.0" />
<line x1="822.0" y1="649.5" x2="826.0" y2="649.5" stroke="#000" stroke-width="3.0" />
<line x1="818.0" y1="615.6" x2="826.0" y2="615.6" stroke="#000" stroke-width="3.0" />
<line x1="822.0" y1="581.8" x2="826.0" y2="581.8" stroke="#000" stroke-width="3.0" />
<line x1="818.0" y1="547.9" x2="826.0" y2="547.9" stroke="#000" stroke-width="3.0" />
<line x1="826.0" y1="954.2" x2="826.0" y2="962.2" stroke="#000" stroke-width="3.0" />
<line x1="871.9" y1="954.2" x2="871.9" y2="958.2" stroke="#000" stroke-width="3.0" />
<line x1="917.9" y1="954.2" x2="917.9" y2="962.2" stroke="#000" stroke-width="3.0" />
<line x1="963.8" y1="954.2" x2="963.8" y2="958.2" stroke="#000" stroke-width="3.0" />
<line x1="1009.7" y1="954.2" x2="1009.7" y2="962.2" stroke="#000" stroke-width="3.0" />
<line x1="1055.7" y1="954.2" x2="1055.7" y2="958.2" stroke="#000" stroke-width="3.0" />
<line x1="1101.6" y1="954.2" x2="1101.6" y2="962.2" stroke="#000" stroke-width="3.0" />
<line x1="1147.5" y1="954.2" x2="1147.5" y2="958.2" stroke="#000" stroke-width="3.0" />
<line x1="1193.4" y1="954.2" x2="1193.4" y2="962.2" stroke="#000" stroke-width="3.0" />
<line x1="1239.4" y1="954.2" x2="1239.4" y2="958.2" stroke="#000" stroke-width="3.0" />
<line x1="1285.3" y1="954.2" x2="1285.3" y2="962.2" stroke="#000" stroke-width="3.0" />
<line x1="1331.2" y1="954.2" x2="1331.2" y2="958.2" stroke="#000" stroke-width="3.0" />
<text x="816.4" y="962.2" font-size="25.0" font-weight="bold" font-style="normal" text-anchor="end" fill="#000" >-18</text>
<text x="816.4" y="894.5" font-size="25.0" font-weight="bold" font-style="normal" text-anchor="end" fill="#000" >-16</text>
<text x="816.4" y="826.8" font-size="25.0" font-weight="bold" font-style="normal" text-anchor="end" fill="#000" >-14</text>
<text x="816.4" y="759.1" font-size="25.0" font-weight="bold" font-style="normal" text-anchor="end" fill="#000" >-12</text>
<text x="816.4" y="691.3" font-size="25.0" font-weight="bold" font-style="normal" text-anchor="end" fill="#000" >-10</text>
<text x="816.4" y="623.6" font-size="25.0" font-weight="bold" font-style="normal" text-anchor="end" fill="#000" >-8</text>
<text x="816.4" y="555.9" font-size="25.0" font-weight="bold" font-style="normal" text-anchor="end" fill="#000" >-6</text>
<text x="826.0" y="989.2" font-size="25.0" font-weight="bold" font-style="normal" text-anchor="middle" fill="#000" >0</text>
<text x="917.9" y="989.2" font-size="25.0" font-weight="bold" font-style="normal" text-anchor="middle" fill="#000" >1</text>
<text x="1009.7" y="989.2" font-size="25.0" font-weight="bold" font-style="normal" text-anchor="middle" fill="#000" >2</text>
<text x="1101.6" y="989.2" font-size="25.0" font-weight="bold" font-style="normal" text-anchor="middle" fill="#000" >3</text>
<text x="1193.4" y="989.2" font-size="25.0" font-weight="bold" font-style="normal" text-anchor="middle" fill="#000" >4</text>
<text x="1285.3" y="989.2" font-size="25.0" font-weight="bold" font-style="normal" text-anchor="middle" fill="#000" >5</text>
<text x="1011.0" y="1039.1" font-size="33.0" font-weight="bold" font-style="normal" text-anchor="start" fill="#000" textLength="28.0" lengthAdjust="spacingAndGlyphs" >ln</text>
<text x="1050.0" y="1039.1" font-size="33.0" font-weight="bold" font-style="normal" text-anchor="start" fill="#000" >(</text>
<text x="1061.5" y="1039.1" font-size="35.0" font-weight="bold" font-style="italic" text-anchor="start" fill="#000" >T</text>
<text x="1080.5" y="1039.1" font-size="30.0" font-weight="bold" font-style="normal" text-anchor="start" fill="#000" textLength="10.0" lengthAdjust="spacingAndGlyphs" >-</text>
<text x="1094.0" y="1039.1" font-size="35.0" font-weight="bold" font-style="italic" text-anchor="start" fill="#000" >T</text>
<text x="1113.5" y="1053.0" font-size="22.0" font-weight="bold" font-style="normal" text-anchor="start" fill="#000" textLength="18.0" lengthAdjust="spacingAndGlyphs" >m</text>
<text x="1132.5" y="1039.1" font-size="33.0" font-weight="bold" font-style="normal" text-anchor="start" fill="#000" >)</text>
<text transform="rotate(-90 758.5 834.8)" x="758.5" y="834.8" font-size="31" font-weight="bold" textLength="167.7" lengthAdjust="spacingAndGlyphs">ln (1<tspan font-weight="normal">/</tspan><tspan font-style="italic" font-size="27">ε</tspan>1<tspan font-weight="normal">/</tspan><tspan font-style="italic" font-size="27">ε</tspan><tspan font-size="18" dy="5">m</tspan><tspan dy="-5">)</tspan></text>
<circle cx="854.3" cy="560.9" r="5.0" fill="#4a4a4a"/>
<text x="878.2" y="566.5" font-size="18.0" font-weight="bold" font-style="normal" text-anchor="start" fill="#000" textLength="220.1" lengthAdjust="spacingAndGlyphs" >Original date of KNN-BZT</text>
<line x1="833.7" y1="584.9" x2="874.8" y2="584.9" stroke="#000" stroke-width="3" />
<text x="876.5" y="590.5" font-size="18.0" font-weight="bold" font-style="normal" text-anchor="start" fill="#000" textLength="202.1" lengthAdjust="spacingAndGlyphs" >Fitting line of KNN-BZT</text>
<text x="878.2" y="615.4" font-size="18" font-weight="bold"><tspan font-style="italic">γ</tspan>=1.77</text>
<circle cx="854.3" cy="635.4" r="5.0" fill="#ff3030"/>
<text x="878.2" y="641.0" font-size="18.0" font-weight="bold" font-style="normal" text-anchor="start" fill="#000" textLength="254.4" lengthAdjust="spacingAndGlyphs" >Original date of KNN-BZT-Mn</text>
<line x1="833.7" y1="659.0" x2="874.8" y2="659.0" stroke="#ff0000" stroke-width="3" />
<text x="876.5" y="665.0" font-size="18.0" font-weight="bold" font-style="normal" text-anchor="start" fill="#000" textLength="239.0" lengthAdjust="spacingAndGlyphs" >Fitting line of KNN-BZT-Mn</text>
<text x="879.1" y="690.7" font-size="18" font-weight="bold"><tspan font-style="italic">γ</tspan>=1.80</text>
<text x="838.8" y="723.0" font-size="22.0" font-weight="bold" font-style="normal" text-anchor="start" fill="#000" textLength="26.0" lengthAdjust="spacingAndGlyphs" >(e)</text>
<rect x="1531.4" y="645.4" width="512.6" height="211.1" fill="#fffbd0"/>
<line x1="1531.4" y1="645.4" x2="2044.0" y2="645.4" stroke="#f6f0a0" stroke-width="1.5" />
<line x1="1531.4" y1="856.5" x2="2044.0" y2="856.5" stroke="#f6f0a0" stroke-width="1.5" />
<clipPath id="fclip"><rect x="1531.4" y="539.8" width="512.6" height="422.3"/></clipPath>
<g clip-path="url(#fclip)">
<path d="M1533.0,693.9 L1534.2,695.6 L1534.8,698.4 L1535.4,700.9 L1536.1,703.2 L1536.7,705.3 L1537.3,707.3 L1537.9,709.1 L1538.5,710.8 L1539.1,712.3 L1539.7,713.8 L1540.3,715.2 L1541.0,716.5 L1541.6,717.8 L1542.2,719.0 L1542.8,720.1 L1543.4,721.2 L1544.0,722.2 L1544.6,723.2 L1545.2,724.2 L1545.9,725.1 L1546.5,726.0 L1547.1,726.9 L1547.7,727.7 L1548.3,728.6 L1548.9,729.3 L1549.5,730.1 L1550.1,730.8 L1550.8,731.6 L1551.4,732.3 L1552.0,732.9 L1552.6,733.6 L1553.2,734.3 L1553.8,734.9 L1554.4,735.5 L1555.0,736.1 L1555.7,736.7 L1556.3,737.3 L1556.9,737.8 L1557.5,738.4 L1558.1,738.9 L1558.7,739.5 L1559.3,740.0 L1559.9,740.5 L1560.6,741.0 L1561.2,741.5 L1561.8,742.0 L1562.4,742.5 L1563.0,742.9 L1563.6,743.4 L1564.2,743.8 L1564.8,744.3 L1565.5,744.7 L1566.1,745.1 L1566.7,745.6 L1567.3,746.0 L1567.9,746.4 L1568.5,746.8 L1569.1,747.2 L1569.7,747.6 L1570.4,748.0 L1571.0,748.3 L1571.6,748.7 L1572.2,749.1 L1572.8,749.5 L1573.4,749.8 L1574.0,750.2 L1574.6,750.5 L1575.2,750.9 L1575.9,751.2 L1576.5,751.6 L1577.1,751.9 L1577.7,752.2 L1578.3,752.6 L1578.9,752.9 L1579.5,753.2 L1580.1,753.5 L1580.8,753.8 L1581.8,754.4 L1585.7,756.2 L1589.6,758.0 L1593.4,759.7 L1597.3,761.2 L1601.2,762.7 L1605.1,764.2 L1609.0,765.5 L1612.9,766.8 L1616.7,768.1 L1620.6,769.3 L1624.5,770.5 L1628.4,771.6 L1632.3,772.7 L1636.2,773.7 L1640.0,774.8 L1643.9,775.8 L1647.8,776.7 L1651.7,777.7 L1655.6,778.6 L1659.5,779.5 L1663.3,780.3 L1667.2,781.2 L1671.1,782.0 L1675.0,782.8 L1678.9,783.6 L1682.8,784.4 L1686.6,785.2 L1690.5,785.9 L1694.4,786.7 L1698.3,787.4 L1702.2,788.1 L1706.1,788.8 L1709.9,789.5 L1713.8,790.2 L1717.7,790.8 L1721.6,791.5 L1725.5,792.1 L1729.4,792.8 L1733.2,793.4 L1737.1,794.0 L1741.0,794.6 L1744.9,795.2 L1748.8,795.8 L1752.7,796.4 L1756.5,797.0 L1760.4,797.6 L1764.3,798.1 L1768.2,798.7 L1772.1,799.2 L1776.0,799.8 L1779.8,800.3 L1783.7,800.9 L1787.6,801.4 L1791.5,801.9 L1795.4,802.4 L1799.3,803.0 L1803.1,803.5 L1807.0,804.0 L1810.9,804.5 L1814.8,805.0 L1818.7,805.5 L1822.6,805.9 L1826.4,806.4 L1830.3,806.9 L1834.2,807.4 L1838.1,807.8 L1842.0,808.3 L1845.9,808.8 L1849.7,809.2 L1853.6,809.7 L1857.5,810.1 L1861.4,810.6 L1865.3,811.0 L1869.2,811.5 L1873.0,811.9 L1876.9,812.4 L1880.8,812.8 L1884.7,813.2 L1888.6,813.6 L1892.5,814.1 L1896.3,814.5 L1900.2,814.9 L1904.1,815.3 L1908.0,815.7 L1911.9,816.2 L1915.8,816.6 L1919.6,817.0 L1923.5,817.4 L1927.4,817.8 L1931.3,818.2 L1935.2,818.6 L1939.1,819.0 L1942.9,819.4 L1946.8,819.7 L1950.7,820.1 L1954.6,820.5 L1958.5,820.9 L1962.4,821.3 L1966.2,821.7 L1970.1,822.1 L1974.0,822.4 L1977.9,822.8 L1981.8,823.2 L1985.7,823.5 L1989.5,823.9 L1993.4,824.3 L1997.3,824.7 L2001.2,825.0 L2005.1,825.4 L2009.0,825.7 L2012.8,826.1 L2016.7,826.5 L2020.6,826.8 L2024.5,827.2 L2028.4,827.5 L2032.3,827.9 L2036.1,828.2 L2040.0,828.6 L2043.9,828.9" fill="none" stroke="#000" stroke-width="5.6" stroke-linejoin="round" stroke-linecap="round" />
<path d="M1533.2,669.7 L1532.4,682.3 L1533.0,686.7 L1533.6,690.4 L1534.2,693.6 L1534.8,696.4 L1535.4,699.0 L1536.1,701.3 L1536.7,703.4 L1537.3,705.3 L1537.9,707.1 L1538.5,708.8 L1539.1,710.3 L1539.7,711.8 L1540.3,713.2 L1541.0,714.5 L1541.6,715.8 L1542.2,716.9 L1542.8,718.1 L1543.4,719.2 L1544.0,720.2 L1544.6,721.2 L1545.2,722.2 L1545.9,723.1 L1546.5,724.0 L1547.1,724.8 L1547.7,725.7 L1548.3,726.5 L1548.9,727.3 L1549.5,728.0 L1550.1,728.8 L1550.8,729.5 L1551.4,730.2 L1552.0,730.8 L1552.6,731.5 L1553.2,732.1 L1553.8,732.8 L1554.4,733.4 L1555.0,734.0 L1555.7,734.6 L1556.3,735.1 L1556.9,735.7 L1557.5,736.2 L1558.1,736.8 L1558.7,737.3 L1559.3,737.8 L1559.9,738.3 L1560.6,738.8 L1561.2,739.3 L1561.8,739.8 L1562.4,740.2 L1563.0,740.7 L1563.6,741.2 L1564.2,741.6 L1564.8,742.0 L1565.5,742.5 L1566.1,742.9 L1566.7,743.3 L1567.3,743.7 L1567.9,744.1 L1568.5,744.5 L1569.1,744.9 L1569.7,745.3 L1570.4,745.7 L1571.0,746.1 L1571.6,746.4 L1572.2,746.8 L1572.8,747.2 L1573.4,747.5 L1574.0,747.9 L1574.6,748.2 L1575.2,748.6 L1575.9,748.9 L1576.5,749.2 L1577.1,749.6 L1577.7,749.9 L1578.3,750.2 L1578.9,750.5 L1579.5,750.8 L1580.1,751.2 L1580.8,751.5 L1581.8,752.0 L1585.7,753.8 L1589.6,755.5 L1593.4,757.2 L1597.3,758.7 L1601.2,760.2 L1605.1,761.6 L1609.0,762.9 L1612.9,764.2 L1616.7,765.4 L1620.6,766.6 L1624.5,767.7 L1628.4,768.8 L1632.3,769.8 L1636.2,770.8 L1640.0,771.8 L1643.9,772.8 L1647.8,773.7 L1651.7,774.6 L1655.6,775.5 L1659.5,776.4 L1663.3,777.2 L1667.2,778.0 L1671.1,778.8 L1675.0,779.6 L1678.9,780.4 L1682.8,781.1 L1686.6,781.8 L1690.5,782.5 L1694.4,783.2 L1698.3,783.9 L1702.2,784.6 L1706.1,785.3 L1709.9,785.9 L1713.8,786.6 L1717.7,787.2 L1721.6,787.8 L1725.5,788.4 L1729.4,789.0 L1733.2,789.6 L1737.1,790.2 L1741.0,790.8 L1744.9,791.3 L1748.8,791.9 L1752.7,792.5 L1756.5,793.0 L1760.4,793.5 L1764.3,794.1 L1768.2,794.6 L1772.1,795.1 L1776.0,795.6 L1779.8,796.1 L1783.7,796.6 L1787.6,797.1 L1791.5,797.6 L1795.4,798.1 L1799.3,798.6 L1803.1,799.0 L1807.0,799.5 L1810.9,800.0 L1814.8,800.4 L1818.7,800.9 L1822.6,801.3 L1826.4,801.8 L1830.3,802.2 L1834.2,802.7 L1838.1,803.1 L1842.0,803.5 L1845.9,804.0 L1849.7,804.4 L1853.6,804.8 L1857.5,805.2 L1861.4,805.6 L1865.3,806.0 L1869.2,806.4 L1873.0,806.8 L1876.9,807.2 L1880.8,807.6 L1884.7,808.0 L1888.6,808.4 L1892.5,808.8 L1896.3,809.2 L1900.2,809.6 L1904.1,810.0 L1908.0,810.3 L1911.9,810.7 L1915.8,811.1 L1919.6,811.5 L1923.5,811.8 L1927.4,812.2 L1931.3,812.6 L1935.2,812.9 L1939.1,813.3 L1942.9,813.6 L1946.8,814.0 L1950.7,814.3 L1954.6,814.7 L1958.5,815.0 L1962.4,815.4 L1966.2,815.7 L1970.1,816.1 L1974.0,816.4 L1977.9,816.8 L1981.8,817.1 L1985.7,817.4 L1989.5,817.8 L1993.4,818.1 L1997.3,818.4 L2001.2,818.8 L2005.1,819.1 L2009.0,819.4 L2012.8,819.7 L2016.7,820.1 L2020.6,820.4 L2024.5,820.7 L2028.4,821.0 L2032.3,821.3 L2036.1,821.7 L2040.0,822.0 L2043.9,822.3" fill="none" stroke="#ff0000" stroke-width="6.2" stroke-linejoin="round" stroke-linecap="round" />
</g>
<rect x="1531.4" y="539.8" width="512.6" height="422.3" fill="none" stroke="#000" stroke-width="3.6"/>
<line x1="1527.4" y1="909.3" x2="1531.4" y2="909.3" stroke="#000" stroke-width="3.0" />
<line x1="1523.4" y1="856.5" x2="1531.4" y2="856.5" stroke="#000" stroke-width="3.0" />
<line x1="1527.4" y1="803.7" x2="1531.4" y2="803.7" stroke="#000" stroke-width="3.0" />
<line x1="1523.4" y1="750.9" x2="1531.4" y2="750.9" stroke="#000" stroke-width="3.0" />
<line x1="1527.4" y1="698.2" x2="1531.4" y2="698.2" stroke="#000" stroke-width="3.0" />
<line x1="1523.4" y1="645.4" x2="1531.4" y2="645.4" stroke="#000" stroke-width="3.0" />
<line x1="1527.4" y1="592.6" x2="1531.4" y2="592.6" stroke="#000" stroke-width="3.0" />
<line x1="1523.4" y1="539.8" x2="1531.4" y2="539.8" stroke="#000" stroke-width="3.0" />
<line x1="1580.8" y1="962.1" x2="1580.8" y2="966.1" stroke="#000" stroke-width="3.0" />
<line x1="1632.2" y1="962.1" x2="1632.2" y2="970.1" stroke="#000" stroke-width="3.0" />
<line x1="1683.7" y1="962.1" x2="1683.7" y2="966.1" stroke="#000" stroke-width="3.0" />
<line x1="1735.1" y1="962.1" x2="1735.1" y2="970.1" stroke="#000" stroke-width="3.0" />
<line x1="1786.6" y1="962.1" x2="1786.6" y2="966.1" stroke="#000" stroke-width="3.0" />
<line x1="1838.1" y1="962.1" x2="1838.1" y2="970.1" stroke="#000" stroke-width="3.0" />
<line x1="1889.5" y1="962.1" x2="1889.5" y2="966.1" stroke="#000" stroke-width="3.0" />
<line x1="1941.0" y1="962.1" x2="1941.0" y2="970.1" stroke="#000" stroke-width="3.0" />
<line x1="1992.4" y1="962.1" x2="1992.4" y2="966.1" stroke="#000" stroke-width="3.0" />
<line x1="2043.9" y1="962.1" x2="2043.9" y2="970.1" stroke="#000" stroke-width="3.0" />
<text x="1516.0" y="970.1" font-size="25.0" font-weight="bold" font-style="normal" text-anchor="end" fill="#000" >-20</text>
<text x="1516.0" y="864.5" font-size="25.0" font-weight="bold" font-style="normal" text-anchor="end" fill="#000" >-10</text>
<text x="1516.0" y="758.9" font-size="25.0" font-weight="bold" font-style="normal" text-anchor="end" fill="#000" >0</text>
<text x="1516.0" y="653.4" font-size="25.0" font-weight="bold" font-style="normal" text-anchor="end" fill="#000" >10</text>
<text x="1516.0" y="547.8" font-size="25.0" font-weight="bold" font-style="normal" text-anchor="end" fill="#000" >20</text>
<text x="1632.2" y="997.5" font-size="25.0" font-weight="bold" font-style="normal" text-anchor="middle" fill="#000" >2</text>
<text x="1735.1" y="997.5" font-size="25.0" font-weight="bold" font-style="normal" text-anchor="middle" fill="#000" >4</text>
<text x="1838.1" y="997.5" font-size="25.0" font-weight="bold" font-style="normal" text-anchor="middle" fill="#000" >6</text>
<text x="1941.0" y="997.5" font-size="25.0" font-weight="bold" font-style="normal" text-anchor="middle" fill="#000" >8</text>
<text x="2043.9" y="997.5" font-size="25.0" font-weight="bold" font-style="normal" text-anchor="middle" fill="#000" >10</text>
<text x="1691.5" y="1038.3" font-size="34.0" font-weight="bold" font-style="italic" text-anchor="start" fill="#000" >F</text>
<text x="1723" y="1038.3" font-size="31" textLength="106" lengthAdjust="spacingAndGlyphs">(10<tspan font-size="19" dy="-12">5</tspan><tspan dy="12">Hz)</tspan></text>
<text transform="rotate(-90 1471 842.9)" x="1471" y="842.9" font-size="47" font-weight="bold" textLength="181.5" lengthAdjust="spacingAndGlyphs">Δε/ε100kHz</text>
<text x="1544.3" y="573.5" font-size="24.0" font-weight="bold" font-style="normal" text-anchor="start" fill="#000" textLength="24.4" lengthAdjust="spacingAndGlyphs" >(f)</text>
<line x1="1626.5" y1="566.5" x2="1668.9" y2="566.5" stroke="#777" stroke-width="1.5" />
<rect x="1645" y="564.4" width="4.2" height="4.2" fill="#000"/>
<text x="1679.2" y="573.7" font-size="27.0" font-weight="bold" font-style="normal" text-anchor="start" fill="#000" textLength="124.5" lengthAdjust="spacingAndGlyphs" >KNN-BZT</text>
<line x1="1626.5" y1="600.6" x2="1668.9" y2="600.6" stroke="#ff3030" stroke-width="1.5" />
<polygon points="1647.1,596.4 1651.3,600.6 1647.1,604.8 1642.9,600.6" fill="#ff0000"/>
<text x="1681.7" y="607.1" font-size="27.0" font-weight="bold" font-style="normal" text-anchor="start" fill="#000" textLength="174.7" lengthAdjust="spacingAndGlyphs" >KNN-BZT-Mn</text>
</svg>
</body></html>
